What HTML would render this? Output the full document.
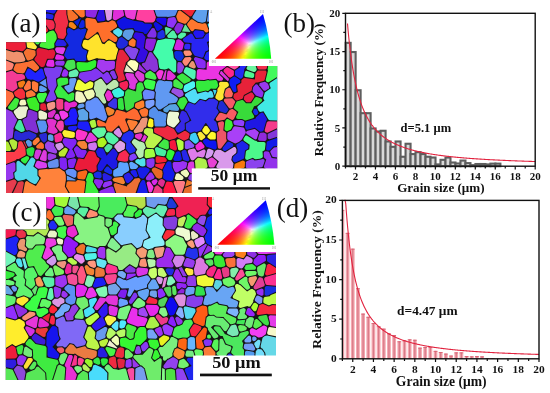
<!DOCTYPE html><html><head><meta charset="utf-8"><style>html,body{margin:0;padding:0;background:#fff;width:550px;height:393px;overflow:hidden}svg{display:block}text{font-family:"Liberation Serif","Times New Roman",serif}.tk{font-size:11px;font-weight:bold;fill:#111}.al{font-weight:bold;fill:#111}.dt{font-size:11.5px;font-weight:bold;fill:#111}.pl{font-size:27px;fill:#111}.sb{font-size:16.5px;font-weight:bold;fill:#111}.ipt{font-size:3px;fill:#8a8a8a}</style></head><body>
<svg width="550" height="393" viewBox="0 0 550 393">
<rect width="550" height="393" fill="#fff"/>
<defs><clipPath id="ca"><path d="M46,10H209V66H277.2V193H6V42.2H46Z"/></clipPath><clipPath id="cc"><path d="M46.3,197H212V252H276V380H5.8V229.5H46.3Z"/></clipPath></defs>
<g clip-path="url(#ca)"><rect x="0" y="0" width="290" height="200" fill="#161616"/><path d="M3.5,21.4 4.1,22.8 5.2,23.3 16.2,21.0 17.8,22.3 19.2,22.5 25.7,19.8 26.7,18.6 26.9,17.5 22.7,9.9 22.4,8.5 21.4,7.6 5.0,7.5 3.9,8.2 3.5,9.2Z" fill="#dc2853"/>
<path d="M47.5,7.5 46.1,8.0 45.6,9.4 46.0,11.4 47.2,12.2 52.9,13.6 53.9,13.6 54.9,12.8 56.5,10.0 56.3,8.5 55.2,7.6Z" fill="#231def"/>
<path d="M34.6,7.5 25.0,7.6 24.2,8.2 23.9,9.1 23.9,9.8 28.2,17.2 29.0,17.6 30.2,17.7 34.1,16.1 34.9,15.6 35.3,14.8 36.5,9.7 36.4,8.7 35.9,7.9Z" fill="#231def"/>
<path d="M36.4,14.1 36.6,15.4 37.6,16.4 42.4,17.7 43.1,17.7 43.9,17.3 44.6,16.3 45.1,12.5 44.5,9.0 44.1,8.2 42.8,7.5 39.4,7.5 38.4,7.9 37.8,8.8Z" fill="#190bf1"/>
<path d="M45.6,16.5 45.8,17.6 46.7,18.4 51.5,19.2 52.4,18.9 53.0,18.4 53.6,16.1 53.2,15.1 52.5,14.5 47.5,13.4 46.6,13.7 46.0,14.4Z" fill="#2525e9"/>
<path d="M54.0,19.1 54.0,20.2 54.9,21.7 55.7,24.1 55.5,27.6 54.9,29.0 54.8,29.9 57.3,34.4 57.8,37.6 58.4,38.2 59.1,38.5 62.9,38.9 63.8,38.7 64.5,38.1 66.3,34.6 66.3,33.7 66.0,32.8 66.1,28.1 67.4,26.2 68.2,21.9 66.4,14.2 66.3,9.2 65.7,8.0 64.4,7.5 59.9,7.5 58.8,8.0 55.1,14.6Z" fill="#f02d46"/>
<path d="M70.5,8.8 69.7,8.3 68.8,8.3 68.0,8.7 67.5,9.3 67.3,10.2 67.4,14.2 68.5,19.4 68.9,20.3 70.0,20.9 72.9,21.1 77.4,18.6 78.0,17.9 78.1,16.8 77.5,15.8Z" fill="#f6712b"/>
<path d="M75.2,7.5 74.1,7.8 73.4,8.7 73.3,9.8 73.8,10.7 80.3,17.1 81.9,17.4 83.5,17.2 84.3,16.7 84.8,15.3 84.6,9.2 84.0,8.0 82.9,7.5Z" fill="#ff752a"/>
<path d="M87.5,7.5 86.3,7.9 85.6,9.1 85.7,15.0 86.1,16.0 86.7,16.6 87.4,16.8 94.0,17.7 95.2,17.3 95.8,16.4 98.0,9.8 98.0,9.1 97.6,8.2 96.3,7.5Z" fill="#8d28e5"/>
<path d="M96.5,17.6 96.4,18.4 96.6,19.1 97.7,21.0 98.7,21.6 103.9,21.1 105.1,20.2 105.3,18.9 103.7,9.1 103.4,8.4 102.9,7.8 102.0,7.5 100.8,7.5 99.6,8.3Z" fill="#2910e1"/>
<path d="M111.1,7.6 106.0,7.6 105.2,8.2 104.8,9.0 104.8,9.7 106.5,19.5 107.3,20.5 108.4,20.7 110.9,19.6 111.6,18.7 112.5,9.2 112.0,8.2Z" fill="#db99e8"/>
<path d="M112.7,17.8 112.8,18.7 113.4,19.4 114.9,20.2 115.8,20.3 123.6,16.0 124.0,15.4 124.1,14.5 122.9,9.0 122.4,8.0 121.2,7.5 115.4,7.5 114.0,8.1 113.5,9.2Z" fill="#df2ed9"/>
<path d="M125.9,7.5 124.7,7.9 124.1,9.2 125.5,15.9 126.8,17.4 127.4,17.8 132.8,19.4 134.3,19.2 135.0,18.2 136.8,9.8 136.6,8.3 135.9,7.7 135.2,7.5Z" fill="#eb3dd7"/>
<path d="M136.1,18.0 136.2,19.2 137.1,20.1 143.1,21.0 145.0,22.6 152.3,22.6 153.4,22.3 154.9,20.7 155.9,17.3 153.1,8.8 152.4,7.8 151.3,7.5 139.9,7.5 138.8,7.8 138.1,8.8Z" fill="#ff40a0"/>
<path d="M156.4,7.5 155.5,7.7 154.9,8.2 154.6,8.9 154.5,9.8 156.5,15.8 157.2,16.4 158.0,16.7 166.8,16.7 167.9,17.0 174.5,16.0 175.6,15.1 177.8,9.6 177.3,8.2 176.1,7.5Z" fill="#588cef"/>
<path d="M177.6,20.6 178.6,21.7 184.3,23.7 185.2,23.8 186.2,23.2 189.2,19.7 189.5,19.0 189.6,18.0 188.9,16.9 181.0,10.9 180.3,10.6 179.4,10.5 178.7,10.8 178.1,11.5 176.3,16.1 176.3,16.9Z" fill="#ff7431"/>
<path d="M183.7,7.5 182.8,7.7 182.0,8.5 181.8,9.6 182.2,10.5 189.3,16.0 190.1,16.4 191.1,16.3 192.0,15.6 195.3,9.8 195.3,9.1 195.1,8.4 194.5,7.8 193.9,7.5Z" fill="#f12533"/>
<path d="M213.7,7.5 212.3,8.0 211.8,9.4 212.8,20.9 213.2,21.8 214.0,22.3 214.9,22.5 215.6,22.2 217.9,20.0 224.5,22.9 225.7,22.7 228.3,20.5 233.6,23.0 234.6,23.2 237.1,22.2 243.2,22.2 244.0,21.8 245.9,19.8 246.0,18.7 245.5,17.7 233.3,7.6Z" fill="#5ea0ee"/>
<path d="M192.7,16.3 192.4,17.4 192.9,18.5 197.9,21.8 202.2,22.7 205.0,21.9 205.6,21.4 206.0,20.5 207.6,9.7 207.4,8.5 206.8,7.8 206.0,7.5 199.0,7.5 198.2,7.7 197.4,8.4Z" fill="#5ea0ee"/>
<path d="M206.8,21.6 212.0,22.3 210.6,7.5 209.0,7.5Z" fill="#6498f0"/>
<path d="M239.9,7.5 238.9,7.8 238.2,8.7 238.1,9.8 238.6,10.7 248.0,18.5 252.6,19.9 255.2,22.3 255.9,22.6 257.1,22.6 265.3,19.2 266.2,19.6 267.2,19.5 269.8,18.0 270.5,17.0 270.6,16.1 269.3,8.9 268.8,8.1 268.0,7.6Z" fill="#5b91f5"/>
<path d="M272.3,7.5 271.0,8.0 270.4,9.4 271.4,15.4 271.8,16.2 272.6,16.8 273.3,16.9 278.2,16.4 279.0,16.1 279.6,15.3 279.7,14.6 279.7,9.2 279.3,8.2 278.0,7.5Z" fill="#5fa4ff"/>
<path d="M5.0,24.5 3.9,25.1 3.5,26.2 3.5,46.8 3.8,47.8 4.8,48.6 13.4,51.1 14.2,51.1 16.4,50.3 21.9,51.3 23.1,51.0 25.6,48.5 26.0,47.6 25.2,40.5 26.5,38.2 26.4,34.8 26.1,33.9 25.1,33.3 18.0,30.8 17.8,24.1 17.4,23.3 16.2,22.4 15.0,22.2Z" fill="#ed2039"/>
<path d="M20.0,23.3 19.3,23.8 18.9,24.9 18.9,29.0 19.2,29.8 20.0,30.5 24.5,32.0 25.4,32.0 26.1,31.7 26.7,31.0 26.9,30.1 26.1,23.4 25.7,22.5 24.9,21.8 24.0,21.7Z" fill="#ed1f45"/>
<path d="M27.2,19.7 26.8,20.4 26.8,21.1 28.2,32.8 27.4,34.1 27.5,37.3 27.9,38.1 28.5,38.6 31.7,39.8 32.8,39.8 33.6,39.3 36.1,36.6 36.5,31.1 36.1,30.0 38.0,26.4 36.1,18.7 35.3,17.6 34.1,17.3 30.3,18.7 28.3,18.7Z" fill="#f3f33a"/>
<path d="M46.2,19.4 45.3,19.5 44.5,20.0 44.0,21.0 44.1,21.9 48.9,29.2 49.5,29.7 50.5,29.9 53.5,29.0 54.5,27.4 54.7,24.4 54.0,22.2 53.3,21.0 52.3,20.3Z" fill="#f22a4e"/>
<path d="M39.9,18.0 39.0,18.0 38.3,18.3 37.7,19.0 37.5,19.8 38.4,23.3 39.1,23.9 40.1,24.1 41.1,23.8 43.2,22.1 43.7,21.5 43.9,20.6 43.6,19.7 43.0,19.0Z" fill="#f22a4e"/>
<path d="M38.4,28.0 38.2,29.3 38.8,30.4 44.4,32.8 45.3,32.9 45.9,32.6 47.4,31.5 47.9,30.7 48.0,30.0 47.7,29.1 44.6,24.6 43.7,24.0 42.8,24.0 42.1,24.3 39.2,26.8Z" fill="#f32034"/>
<path d="M68.7,25.0 68.7,25.9 69.3,26.8 73.3,29.0 74.1,29.1 74.8,28.9 75.7,28.3 76.3,27.5 76.4,26.6 76.0,25.7 73.2,22.7 72.4,22.2 70.8,22.0 69.7,22.3 69.0,23.2Z" fill="#f68216"/>
<path d="M78.9,25.5 78.8,26.4 79.0,27.2 79.5,27.7 80.2,28.2 81.2,28.2 83.4,27.7 84.0,27.3 84.5,26.7 84.7,25.8 84.4,21.6 84.0,20.6 82.6,20.0 81.3,20.5Z" fill="#1124e1"/>
<path d="M73.8,21.8 77.6,26.0 81.0,18.3 80.2,18.2Z" fill="#0a21d8"/>
<path d="M87.5,17.8 86.1,18.2 85.5,18.9 85.3,19.6 85.7,26.9 86.3,27.9 88.0,29.1 85.3,36.6 85.4,37.7 86.0,38.6 87.3,39.0 88.5,38.8 96.2,33.0 97.1,31.8 98.4,32.5 102.1,41.3 103.0,42.2 104.0,42.4 104.9,42.1 108.6,38.7 114.3,42.0 115.4,42.1 116.5,41.4 117.5,39.0 117.2,37.6 110.1,31.6 116.3,27.5 116.9,26.8 117.1,26.0 117.0,25.3 115.1,21.5 113.0,20.4 112.0,20.3 108.2,22.2 106.0,21.8 97.6,22.9 95.7,19.6 95.0,19.0Z" fill="#ff6f2b"/>
<path d="M154.3,22.8 153.9,23.6 153.9,24.7 156.3,29.9 156.9,30.6 157.7,31.0 158.8,30.8 162.3,28.3 162.5,26.9 161.7,25.7 156.5,22.2 155.4,22.1Z" fill="#1012e2"/>
<path d="M117.8,20.5 117.1,21.3 116.9,22.4 118.3,25.6 118.5,26.5 119.1,27.3 122.2,29.6 123.5,29.7 125.1,28.7 133.5,28.1 134.7,30.3 135.4,30.9 143.2,32.3 144.3,33.7 145.3,34.1 146.2,34.0 147.0,33.5 151.8,26.6 152.1,25.7 151.8,24.5 150.8,23.7 144.4,23.6 142.4,22.0 135.7,21.0 134.7,21.1 126.4,18.5 125.5,17.5 124.7,17.1 123.6,17.2Z" fill="#1012e2"/>
<path d="M156.4,19.3 156.4,20.4 157.0,21.3 163.2,25.5 164.6,25.6 165.8,24.8 166.6,19.5 166.3,18.6 165.6,17.9 164.7,17.7 158.1,17.7 156.9,18.3Z" fill="#1b06ea"/>
<path d="M166.9,24.5 167.1,25.6 168.0,26.5 172.0,27.8 173.4,27.5 176.7,22.0 176.7,21.1 175.5,17.9 174.8,17.3 173.9,17.1 169.3,17.8 168.4,18.1 167.7,19.2Z" fill="#8f33f8"/>
<path d="M174.5,27.8 174.3,28.7 174.4,29.4 176.3,32.7 177.3,33.4 178.4,33.4 180.9,31.3 183.1,26.3 183.2,25.2 182.7,24.4 182.1,24.0 179.0,22.9 178.1,22.9 177.0,23.6Z" fill="#872bdd"/>
<path d="M187.5,23.2 187.1,24.2 187.3,25.3 190.6,30.3 191.4,31.0 192.2,31.2 193.1,30.9 194.9,29.1 203.7,30.3 205.1,32.1 206.1,32.6 207.7,32.3 208.5,31.3 208.6,30.2 206.5,24.4 206.1,23.8 205.3,23.3 204.3,23.2 202.3,23.8 199.1,23.1 198.1,23.1 192.6,19.6 191.6,19.3 190.3,19.9Z" fill="#ff772e"/>
<path d="M209.9,23.0 209.0,23.1 208.2,23.7 207.8,24.6 207.9,25.5 210.1,31.0 211.2,31.6 213.0,31.5 214.0,30.6 214.7,28.5 214.4,24.9 213.9,24.1 212.6,23.4Z" fill="#51e8f7"/>
<path d="M225.5,24.2 225.0,24.9 224.8,25.8 225.3,27.3 225.9,28.0 233.9,30.4 234.4,31.4 235.3,31.9 242.2,33.3 243.2,32.9 244.6,31.4 254.4,33.3 255.6,32.9 256.3,31.7 255.2,23.8 252.2,20.9 248.9,19.8 248.2,19.8 247.3,20.1 243.9,23.3 237.4,23.2 234.5,24.5 229.6,22.2 228.7,22.0 227.7,22.3Z" fill="#44c3ef"/>
<path d="M215.9,23.5 215.4,24.4 215.5,26.1 216.0,26.9 217.0,27.4 222.1,26.5 222.9,26.0 223.3,25.2 223.2,24.1 222.7,23.3 219.0,21.6 217.6,21.8Z" fill="#44c3ef"/>
<path d="M215.2,30.1 215.3,31.3 216.0,32.3 220.8,34.1 221.7,34.2 222.5,33.9 223.1,33.2 224.2,29.3 223.6,28.0 222.2,27.6 216.4,28.7 215.7,29.2Z" fill="#4af1f4"/>
<path d="M257.7,23.4 256.8,24.2 256.6,25.3 257.2,29.8 257.8,30.7 258.6,31.1 262.2,30.9 263.0,30.6 267.6,26.3 268.1,25.4 268.0,24.3 266.6,21.4 265.4,20.6 264.3,20.7Z" fill="#57f2ee"/>
<path d="M268.8,19.7 268.1,20.5 267.9,21.6 269.3,24.5 269.8,25.2 275.8,28.0 278.3,27.7 279.4,26.9 279.7,25.8 279.7,19.2 279.5,18.5 278.9,17.8 277.8,17.5 271.7,18.1Z" fill="#4bf9ec"/>
<path d="M37.2,35.9 37.5,37.2 41.6,41.6 39.6,45.1 39.7,46.2 40.4,47.0 48.7,49.1 53.0,48.3 54.1,47.6 54.4,46.5 54.2,43.5 56.5,39.3 56.8,38.3 56.2,34.6 54.4,31.4 53.8,30.7 52.5,30.4 49.6,31.2 45.4,34.3 39.8,32.0 38.7,32.0 37.9,32.4 37.5,33.1Z" fill="#47f43a"/>
<path d="M34.7,39.6 34.2,40.4 34.3,41.5 36.1,43.9 37.4,44.6 38.8,44.2 39.9,42.3 39.9,41.5 39.4,40.7 37.8,39.0 37.0,38.5 35.8,38.7Z" fill="#43f949"/>
<path d="M64.4,54.2 64.2,55.1 64.5,55.9 66.7,58.7 67.6,59.2 74.2,58.5 75.5,60.4 76.6,60.9 84.6,61.2 85.9,60.6 86.4,59.4 85.9,56.1 87.1,52.2 87.0,51.3 86.1,50.2 82.8,48.9 80.9,45.8 82.8,38.9 83.8,37.9 86.3,30.8 86.3,29.7 85.8,29.0 84.4,28.5 80.4,29.4 78.8,28.6 77.9,28.4 73.9,30.5 69.5,28.1 68.4,28.1 67.5,28.7 67.0,29.7 67.0,32.3 67.7,34.0 65.3,38.7 65.1,39.6 65.5,40.5 68.7,45.0 68.3,46.3 67.2,47.3Z" fill="#1329e1"/>
<path d="M113.9,30.3 113.1,31.5 113.3,32.9 117.7,36.6 118.4,36.9 119.3,36.8 121.2,35.6 122.4,32.7 122.4,31.4 121.8,30.6 119.0,28.4 118.0,28.0 117.1,28.2Z" fill="#58dff1"/>
<path d="M122.7,34.6 122.7,35.7 123.2,36.6 127.2,39.7 127.9,40.0 128.9,39.9 132.0,37.2 132.4,35.6 133.9,32.1 133.9,31.0 133.2,29.8 132.1,29.2 125.6,29.7 124.2,30.7 123.7,31.3Z" fill="#5c9ce6"/>
<path d="M133.5,35.5 133.3,36.4 133.7,37.4 136.9,40.0 136.3,45.8 136.5,46.9 137.2,47.6 140.2,49.1 136.4,58.6 136.4,60.1 136.9,60.8 139.2,62.5 139.9,62.5 143.8,61.7 144.8,60.6 147.9,52.4 147.8,51.7 147.3,50.9 143.7,48.2 145.1,38.8 145.5,37.8 145.4,36.9 143.1,33.8 142.4,33.2 136.5,32.2 135.6,32.3 134.8,32.8Z" fill="#330be2"/>
<path d="M147.5,34.5 147.2,35.3 147.3,36.2 147.8,37.0 148.4,37.3 154.5,37.7 155.6,37.2 156.3,36.2 156.5,32.9 154.5,28.5 153.2,27.9 151.9,28.3Z" fill="#802fe7"/>
<path d="M157.2,36.7 157.4,37.7 157.8,38.3 159.5,39.0 163.3,38.3 164.2,37.8 164.6,37.2 164.9,36.2 164.3,31.5 163.8,30.7 162.9,30.1 161.8,30.1 158.1,32.6 157.5,33.7Z" fill="#1e2de3"/>
<path d="M165.0,27.4 164.8,27.8 165.7,35.4 172.1,29.0 166.2,26.9Z" fill="#4fe3a1"/>
<path d="M178.3,35.0 177.7,36.1 177.9,37.5 178.8,38.2 181.0,38.7 181.9,38.4 185.4,35.9 185.9,35.1 186.0,34.2 185.5,33.2 184.8,32.7 181.8,32.4 181.0,32.8Z" fill="#52f1a6"/>
<path d="M167.8,34.7 167.3,35.5 167.3,36.6 167.8,37.4 168.6,37.9 175.4,38.5 176.5,38.1 177.1,37.1 176.9,35.7 174.3,31.3 173.3,30.6 172.4,30.5 171.6,30.9Z" fill="#52f1a6"/>
<path d="M182.0,31.4 190.5,32.0 185.8,24.8 184.9,24.8Z" fill="#63e59b"/>
<path d="M183.7,38.3 183.0,39.2 183.0,40.3 183.3,41.0 184.6,42.3 185.5,42.6 191.6,42.9 191.2,50.1 194.1,55.1 194.9,55.7 202.0,57.7 202.8,57.4 203.5,56.7 205.4,51.6 207.9,50.4 208.6,49.4 208.6,48.3 206.8,42.1 212.0,40.1 212.7,39.6 213.2,38.6 213.4,34.2 213.0,33.3 212.3,32.7 209.7,32.6 205.9,34.2 203.2,38.5 195.2,39.0 192.5,34.2 191.7,33.7 190.8,33.5 189.9,33.9Z" fill="#2825f3"/>
<path d="M193.8,31.7 193.3,32.7 193.4,33.8 195.3,37.1 196.3,37.9 202.3,37.5 203.0,36.9 204.5,34.2 204.3,32.8 203.4,31.6 202.6,31.1 195.9,30.3 194.9,30.6Z" fill="#2216f4"/>
<path d="M204.3,57.2 204.2,58.1 204.5,58.8 206.2,60.1 212.4,61.0 213.3,60.9 214.3,60.1 215.5,57.5 215.6,51.6 225.5,48.1 226.8,48.4 235.9,46.0 239.3,51.6 240.0,52.3 241.1,52.6 246.2,52.1 247.2,51.4 248.0,49.3 248.0,45.4 247.7,44.7 247.1,44.1 242.0,41.9 241.1,42.0 237.0,43.7 231.3,36.4 232.7,32.9 232.7,32.2 232.3,31.3 231.4,30.7 227.1,29.5 226.2,29.6 225.4,30.1 225.0,30.7 223.3,36.1 216.5,33.6 215.4,33.7 214.7,34.3 214.3,35.2 214.1,40.3 209.5,42.1 208.5,43.2 208.5,44.3 210.3,50.4 206.3,52.4Z" fill="#2326f8"/>
<path d="M232.9,35.1 232.7,36.1 233.0,36.9 237.0,41.7 237.7,42.0 238.6,41.9 240.6,41.1 241.3,40.4 242.1,35.8 241.8,34.9 241.1,34.2 234.9,32.9 233.6,33.5Z" fill="#1c11d7"/>
<path d="M242.6,39.5 242.7,40.4 243.4,41.3 249.0,43.9 249.1,47.6 249.6,48.3 250.4,48.8 259.3,49.5 260.2,50.1 261.1,50.2 262.4,49.4 264.3,46.3 270.1,48.3 271.2,48.3 274.9,45.5 278.5,44.6 279.1,44.2 279.6,43.6 279.6,30.1 279.0,29.2 278.2,28.8 276.8,28.9 275.9,29.3 270.1,37.3 263.5,32.2 262.7,31.9 257.6,32.3 256.9,32.8 255.9,34.6 245.2,32.7 244.3,33.2 243.4,34.4Z" fill="#1c27e4"/>
<path d="M265.4,29.7 264.8,31.0 265.2,32.2 268.5,34.8 269.6,35.1 270.5,34.8 271.0,34.3 273.8,30.5 274.0,29.4 273.7,28.6 273.1,27.9 270.3,26.6 269.5,26.5 268.5,26.8Z" fill="#242be6"/>
<path d="M28.9,39.8 28.0,39.7 27.3,39.9 26.6,40.6 26.4,41.2 26.9,46.4 27.3,47.4 28.2,48.0 34.4,49.2 35.4,49.2 36.0,48.8 36.8,47.4 36.8,46.5 36.4,45.9 32.6,41.3Z" fill="#ffec42"/>
<path d="M55.5,43.2 55.2,44.1 55.5,45.3 56.1,46.0 57.0,46.3 65.0,46.1 66.0,45.6 66.5,44.4 66.3,43.3 64.0,40.2 63.1,39.9 58.9,39.5 58.0,39.6 57.2,40.1Z" fill="#261fe5"/>
<path d="M82.2,44.8 82.3,46.1 83.6,48.0 88.7,50.2 86.9,56.3 87.5,59.4 87.8,60.0 88.6,60.5 89.8,60.5 97.1,58.1 98.1,58.5 104.9,59.0 105.7,59.7 106.6,59.9 114.4,59.7 115.4,59.2 115.9,58.5 116.3,56.0 118.1,49.8 117.8,48.7 115.9,46.5 115.7,44.8 115.4,44.0 110.0,40.6 109.1,40.4 107.8,40.8 104.3,44.2 102.0,43.5 98.5,35.2 97.5,34.3 96.7,34.2 95.8,34.5 88.2,40.2 85.2,39.7 83.9,40.0 83.3,40.9Z" fill="#ffe32c"/>
<path d="M118.6,48.0 119.9,48.7 123.0,48.5 127.0,45.7 127.6,44.8 127.8,42.2 127.4,41.2 122.0,37.1 120.7,37.2 118.9,38.4 116.8,43.5 116.9,46.1Z" fill="#2029dc"/>
<path d="M128.7,43.8 129.0,44.9 129.7,45.5 132.9,46.8 134.3,46.7 135.0,46.1 135.3,45.4 135.8,41.3 135.6,40.4 135.1,39.9 133.6,38.7 132.7,38.6 132.0,38.7 129.1,41.3 128.8,42.0Z" fill="#ff782b"/>
<path d="M145.0,46.7 145.0,47.6 145.4,48.2 148.7,50.8 151.1,51.1 152.1,50.8 153.4,49.1 156.0,41.0 155.8,39.6 155.1,38.9 154.4,38.7 147.9,38.4 146.9,38.6 146.0,39.8Z" fill="#9021de"/>
<path d="M154.2,50.1 153.2,51.6 153.3,52.7 158.4,59.8 158.3,60.8 159.1,67.3 159.8,68.5 160.6,69.0 164.8,69.4 166.9,68.9 168.4,68.2 169.0,68.4 173.5,72.4 174.6,72.6 175.7,72.1 176.2,70.9 176.3,61.4 176.0,60.5 173.8,57.9 172.9,51.3 172.2,50.2 175.1,41.7 175.0,40.7 174.6,39.9 173.4,39.3 165.5,38.6 164.2,39.1 159.8,40.0 158.7,39.9 158.0,40.1 157.1,41.0Z" fill="#44fcab"/>
<path d="M174.1,47.7 174.2,49.1 175.3,50.1 180.8,50.2 181.7,50.0 182.4,49.4 182.7,48.8 183.8,44.0 183.6,42.9 180.8,39.9 178.5,39.2 177.5,39.4 176.6,40.3Z" fill="#d221e0"/>
<path d="M184.1,47.1 184.2,48.3 185.1,49.2 189.0,49.5 189.8,49.0 190.2,48.2 190.3,45.0 189.8,44.2 189.0,43.8 185.8,43.7 184.7,44.7Z" fill="#332bf7"/>
<path d="M5.9,50.0 4.5,50.1 3.9,50.6 3.5,51.4 3.5,57.4 3.8,58.3 4.5,58.9 14.5,62.6 20.0,62.3 24.1,61.4 25.2,60.4 25.4,59.5 25.2,58.8 22.8,53.2 22.0,52.4 16.6,51.4 13.8,52.3Z" fill="#f0926e"/>
<path d="M24.3,51.2 23.8,52.0 23.8,53.1 26.6,59.6 27.6,60.4 28.7,60.5 32.7,59.1 35.7,55.0 35.5,51.5 35.1,50.7 34.3,50.2 27.2,48.8 26.2,49.3Z" fill="#f47131"/>
<path d="M34.7,58.2 34.4,59.2 34.6,60.2 38.8,65.1 41.0,67.0 43.0,67.1 44.0,66.6 44.5,66.0 47.0,59.1 47.6,58.7 52.6,58.7 53.7,58.1 55.2,53.9 55.3,52.8 54.3,50.3 53.3,49.5 52.3,49.5 48.2,50.3 46.7,49.5 39.3,47.9 38.4,48.0 37.6,48.5 36.6,49.9 36.5,50.8 36.8,55.2Z" fill="#e21a39"/>
<path d="M56.1,54.9 55.0,58.0 55.3,58.9 55.9,59.5 56.8,59.8 62.8,59.7 63.7,59.1 64.2,57.9 64.0,56.8 63.0,55.7 57.7,54.2 56.7,54.4Z" fill="#e42be7"/>
<path d="M47.5,60.8 46.1,64.8 46.4,65.6 46.9,66.2 47.7,66.6 53.0,66.9 54.0,66.3 54.5,65.3 54.0,61.0 53.5,60.2 52.6,59.7 49.0,59.7 48.2,60.0Z" fill="#e42be7"/>
<path d="M56.9,47.3 55.8,47.7 55.1,49.0 55.2,49.9 56.4,52.6 57.3,53.1 61.7,54.3 62.6,54.2 63.4,53.7 65.2,49.4 65.2,48.5 64.7,47.7 63.5,47.2Z" fill="#df3fea"/>
<path d="M115.6,68.5 115.3,69.2 115.2,70.1 118.1,77.2 117.4,79.4 117.6,80.1 118.2,80.9 118.9,81.5 119.9,81.7 124.7,80.1 125.2,79.3 125.3,78.3 123.3,73.1 123.5,72.0 123.3,71.0 125.6,64.0 125.7,62.4 128.8,59.9 129.2,58.6 128.8,57.6 123.6,50.4 122.7,49.7 120.1,49.7 119.3,50.2 118.9,50.8 117.2,56.2 116.8,59.9 116.3,61.0Z" fill="#e5243d"/>
<path d="M125.4,48.1 124.7,49.1 124.9,50.4 130.7,58.5 131.7,59.0 133.7,59.3 135.0,58.9 135.5,58.1 138.4,51.1 138.4,50.1 138.0,49.3 135.8,48.1 133.2,48.0 128.7,46.2 127.5,46.5Z" fill="#8447ec"/>
<path d="M145.1,62.6 142.6,63.1 142.1,63.7 141.8,64.4 141.9,65.3 146.5,70.4 147.9,70.5 149.9,69.2 153.9,71.9 155.0,72.1 156.0,71.6 158.1,69.3 158.3,68.2 157.1,59.9 152.2,52.9 151.5,52.3 150.0,52.1 149.0,52.8Z" fill="#8a35d8"/>
<path d="M176.1,51.1 174.7,51.7 174.2,52.8 174.9,57.6 177.6,60.7 180.1,61.1 181.0,60.9 181.6,60.4 183.6,57.6 183.9,56.7 183.7,55.7 182.2,52.2 181.6,51.5 180.9,51.2Z" fill="#0d2edc"/>
<path d="M185.5,50.4 184.1,50.8 183.5,52.1 183.6,53.0 184.6,55.1 185.0,55.7 186.2,56.1 190.2,55.8 190.9,55.6 191.5,55.1 191.9,54.2 191.8,53.5 190.4,51.0 189.5,50.6Z" fill="#ff8f75"/>
<path d="M196.4,77.7 196.8,79.1 198.2,79.7 204.2,80.0 208.3,79.0 209.7,79.4 216.3,78.7 217.5,80.2 218.5,80.7 221.4,80.8 222.5,80.3 223.1,79.2 222.9,77.9 218.6,73.8 220.1,70.2 221.9,69.7 226.2,66.5 226.7,65.7 227.2,61.5 228.6,59.4 228.8,58.4 226.0,50.2 225.2,49.7 224.1,49.6 217.9,51.8 217.1,52.3 216.6,53.4 216.6,57.7 214.3,62.2 208.6,61.5 207.3,62.0 206.7,63.2 206.6,69.8 198.9,69.0 197.6,69.4 196.9,70.7Z" fill="#eb35e3"/>
<path d="M228.9,48.9 227.8,49.6 227.5,51.0 230.1,58.9 228.2,61.9 227.9,65.6 228.8,66.7 233.6,69.3 234.8,69.4 238.2,67.3 238.9,66.1 238.5,61.8 236.5,58.5 238.7,54.0 238.8,52.8 236.1,48.2 235.2,47.6 234.2,47.5Z" fill="#ff51a5"/>
<path d="M238.1,57.5 237.9,58.4 238.2,59.3 239.0,60.4 240.1,60.8 248.2,59.0 249.0,58.3 249.3,57.2 249.2,56.5 247.6,53.9 246.9,53.3 246.1,53.1 240.3,53.8 239.6,54.4Z" fill="#1f21f9"/>
<path d="M248.2,52.7 251.4,58.0 252.2,58.4 252.9,58.4 253.7,58.0 258.4,53.3 258.7,52.2 258.2,51.0 257.1,50.4 250.4,49.8 249.6,49.9 248.9,50.3 248.2,51.6Z" fill="#69f59e"/>
<path d="M246.9,67.1 246.6,68.5 247.3,69.7 253.6,72.1 254.3,72.1 255.2,71.8 256.6,69.9 256.6,68.8 254.5,62.3 253.6,61.1 252.9,60.7 251.8,60.7 251.0,61.2Z" fill="#69f59e"/>
<path d="M255.3,57.8 254.8,58.8 254.9,59.9 255.5,60.6 256.5,61.0 265.3,60.0 266.2,59.4 266.6,58.2 266.3,57.1 262.9,53.1 262.4,52.6 261.5,52.4 260.3,52.8Z" fill="#e9343c"/>
<path d="M263.3,49.9 263.0,50.9 263.3,52.0 269.5,59.5 269.0,60.6 267.7,69.0 267.7,69.7 268.0,70.4 265.7,79.9 265.9,80.7 266.4,81.5 267.6,82.2 268.6,82.3 278.8,76.0 279.6,74.9 279.7,47.4 278.9,46.2 277.5,45.9 275.2,46.6 271.3,49.7 265.4,47.9 264.3,48.4Z" fill="#42f95b"/>
<path d="M6.1,60.5 5.2,60.4 4.5,60.6 3.8,61.3 3.5,62.1 3.5,70.1 4.2,71.2 5.2,71.6 11.9,69.5 12.4,68.7 13.8,64.9 13.6,63.9 12.9,63.2Z" fill="#ff8474"/>
<path d="M13.6,68.4 13.5,69.4 13.8,70.3 17.0,72.7 22.9,73.4 23.9,73.1 24.6,72.5 27.5,66.5 31.1,68.4 34.3,70.8 35.2,71.1 36.4,70.8 38.4,69.0 38.9,68.4 39.1,67.5 38.7,66.4 33.9,61.0 33.2,60.4 32.4,60.3 27.3,62.1 26.3,61.9 20.0,63.3 16.1,63.6 15.2,64.4Z" fill="#fb6f33"/>
<path d="M57.1,60.8 55.8,61.4 55.2,62.6 55.5,64.6 56.1,65.3 56.8,65.6 62.8,65.8 63.7,65.2 64.7,63.1 64.6,61.6 63.4,60.7Z" fill="#9336f0"/>
<path d="M64.8,65.3 64.6,66.3 65.0,67.3 68.1,70.0 69.0,70.3 69.9,70.2 74.6,68.5 75.3,67.9 75.6,67.1 75.1,61.7 74.2,60.2 73.1,59.7 68.3,60.3 67.4,60.6 66.8,61.3Z" fill="#46e451"/>
<path d="M78.3,62.0 77.2,62.3 76.4,63.3 76.8,67.8 77.1,68.5 79.1,70.9 79.8,71.4 80.5,71.5 90.8,69.9 94.9,67.6 95.8,66.4 96.4,62.1 96.3,61.4 95.8,60.6 94.5,60.1 87.3,62.4Z" fill="#31f231"/>
<path d="M96.9,66.1 96.9,67.0 97.3,67.7 102.1,72.0 102.9,72.4 103.9,72.4 106.5,70.6 108.8,70.9 114.2,68.7 114.8,67.5 115.1,62.2 114.6,61.2 113.6,60.7 105.4,60.9 104.0,60.0 99.0,59.7 98.2,60.1 97.7,60.9Z" fill="#a53af0"/>
<path d="M127.9,61.9 127.3,63.0 127.5,64.4 133.8,70.6 134.6,71.0 135.5,70.9 137.0,69.8 137.4,68.9 138.3,64.4 138.2,63.5 137.7,62.7 135.1,60.6 131.1,59.9 130.0,60.2Z" fill="#ffffbc"/>
<path d="M124.5,71.8 134.3,72.6 126.4,64.7 124.3,71.1Z" fill="#eae9c9"/>
<path d="M138.3,69.5 144.5,73.1 146.2,71.8 139.4,64.1Z" fill="#9c2be2"/>
<path d="M180.6,62.2 178.5,62.1 177.9,62.6 177.3,63.9 177.2,72.0 177.9,73.1 179.1,73.5 180.0,73.3 182.2,72.0 184.1,67.2 183.9,66.1 181.4,62.7Z" fill="#913ee4"/>
<path d="M191.2,61.5 188.8,64.9 188.8,65.8 189.2,66.6 189.8,67.0 193.7,68.5 194.8,68.2 195.6,67.5 195.8,66.6 195.6,65.8 194.0,62.1 193.3,61.3 192.2,61.1Z" fill="#eb9571"/>
<path d="M182.7,60.6 182.4,61.7 182.7,62.8 184.7,65.4 185.4,65.7 186.3,65.7 187.3,65.1 191.1,59.8 191.4,59.1 191.4,58.2 190.9,57.4 190.0,56.9 185.5,57.2 184.6,57.8Z" fill="#ff8875"/>
<path d="M196.5,57.2 195.5,57.1 194.7,57.5 194.1,58.3 194.0,59.2 197.3,67.2 198.4,67.9 203.6,68.5 205.0,68.1 205.5,67.4 205.7,66.6 205.7,61.9 205.3,60.9 202.4,59.0Z" fill="#872bf4"/>
<path d="M235.8,70.0 235.1,70.7 234.9,71.4 234.9,74.5 235.2,75.4 239.6,78.5 240.6,78.7 241.5,78.4 242.6,77.4 243.0,76.7 244.3,70.0 244.2,69.2 248.3,63.3 248.5,62.4 248.2,61.3 247.4,60.6 246.4,60.5 240.5,61.9 239.9,62.6 239.7,63.3 240.1,67.2Z" fill="#2427f4"/>
<path d="M257.8,61.9 256.5,62.6 256.1,63.8 257.4,68.1 258.0,69.0 259.0,69.4 265.0,69.4 265.9,69.2 266.5,68.7 266.9,67.8 267.6,63.0 267.5,62.1 266.9,61.4 265.7,61.0Z" fill="#f22c4d"/>
<path d="M4.8,72.9 3.9,73.5 3.5,74.6 3.6,87.2 4.5,88.1 12.3,91.4 13.0,91.4 13.7,91.0 17.0,88.6 17.5,87.9 17.6,87.0 16.4,81.5 24.1,79.3 24.8,78.7 25.2,77.9 25.0,76.6 24.3,75.2 23.6,74.6 21.6,74.1 16.8,73.8 12.5,70.8 11.4,70.8Z" fill="#f33b94"/>
<path d="M27.2,69.4 25.1,74.0 25.2,74.9 27.1,78.4 27.8,79.1 30.9,79.8 32.8,79.4 38.0,81.8 38.7,81.8 39.4,81.6 44.4,78.4 45.1,77.4 45.1,76.5 44.4,75.0 42.9,69.8 42.4,69.0 41.6,68.6 40.7,68.6 40.0,68.9 35.4,72.9 30.6,69.2 29.3,68.6 28.2,68.6Z" fill="#1f23ff"/>
<path d="M54.3,68.0 45.2,67.5 44.4,68.0 43.9,68.9 43.9,69.6 45.3,74.6 47.0,77.6 46.7,78.8 47.9,87.8 49.1,89.9 50.1,90.5 45.9,99.7 45.9,100.5 46.2,101.3 47.0,101.9 47.9,102.1 54.6,100.2 55.4,99.6 56.2,98.4 56.2,97.2 53.9,91.4 56.7,85.6 55.9,78.7 59.0,77.1 59.7,76.5 62.6,68.6 62.1,67.4 60.8,66.8 56.0,66.6 55.0,67.1Z" fill="#7c3eef"/>
<path d="M61.7,74.2 61.7,75.6 62.5,76.5 63.4,76.8 66.5,76.6 67.1,76.1 67.6,75.3 68.1,72.2 67.9,71.2 65.8,69.4 64.9,69.1 64.2,69.3 63.2,70.2Z" fill="#992df8"/>
<path d="M68.6,75.1 69.0,76.5 70.1,77.2 76.5,76.8 77.2,76.4 77.8,75.7 78.6,73.1 78.6,72.1 76.8,69.7 75.9,69.3 75.1,69.4 69.6,71.5 69.0,72.4Z" fill="#65eeaf"/>
<path d="M78.7,75.9 78.7,76.9 79.2,77.9 84.3,82.0 85.3,82.4 86.2,82.2 90.1,79.9 92.7,81.1 93.9,81.1 100.8,77.1 101.5,76.9 105.5,82.4 106.7,83.2 107.4,83.2 108.3,82.8 111.2,80.3 111.8,79.2 111.6,78.1 108.7,72.9 108.1,72.2 107.3,71.9 106.4,72.0 103.0,74.4 102.5,73.6 97.2,68.9 96.0,68.4 95.1,68.6 91.3,70.8 80.5,72.6 79.6,73.4Z" fill="#8336f2"/>
<path d="M111.2,71.0 110.3,71.9 110.1,73.2 112.7,78.1 113.2,78.7 114.0,79.0 115.2,79.1 115.9,78.8 116.7,77.9 116.8,76.7 114.6,71.5 114.0,70.8 113.2,70.5Z" fill="#8039eb"/>
<path d="M127.3,73.0 126.4,73.1 125.8,73.5 125.4,74.1 125.2,75.0 126.8,79.3 127.3,79.9 128.4,80.6 129.5,84.7 128.9,86.7 129.1,87.6 130.1,88.6 133.2,89.5 134.3,89.4 135.3,88.4 135.9,83.8 137.5,82.3 137.8,81.4 137.6,80.6 134.2,76.1 134.1,74.7 133.4,73.8 132.6,73.4Z" fill="#db39dd"/>
<path d="M135.7,72.4 135.1,73.6 135.3,75.8 138.9,80.5 139.9,81.2 141.8,81.5 142.6,81.4 143.3,81.0 144.2,79.7 144.4,78.8 144.1,74.8 143.6,73.9 138.3,70.8 137.1,71.1Z" fill="#dd3dd7"/>
<path d="M145.8,73.3 145.2,74.4 145.2,76.5 145.5,77.4 146.3,78.0 154.5,79.8 155.6,79.6 156.4,78.8 156.5,77.4 155.1,73.9 150.8,71.0 150.1,70.8 149.2,70.9Z" fill="#46f14b"/>
<path d="M162.1,79.5 164.5,80.3 165.3,80.1 166.6,70.0 165.2,70.4Z" fill="#db39d4"/>
<path d="M156.8,72.3 156.3,73.1 156.3,73.9 158.1,78.4 159.2,79.2 160.1,79.3 160.8,79.0 161.5,78.2 163.4,72.6 163.5,71.7 163.2,71.0 162.2,70.2 159.5,69.9 158.6,70.4Z" fill="#f738de"/>
<path d="M170.5,71.1 169.7,70.7 168.7,70.6 167.9,71.1 167.4,71.9 166.6,78.3 166.9,79.4 167.8,80.0 172.5,80.1 174.9,78.0 175.4,77.2 175.5,76.3 175.0,75.3Z" fill="#e32eda"/>
<path d="M181.7,73.6 177.4,75.9 177.0,76.7 177.2,78.1 183.5,83.6 184.2,83.8 185.1,83.6 189.7,81.4 190.5,80.4 190.6,79.3 190.0,78.4 183.1,73.6Z" fill="#3be740"/>
<path d="M183.7,71.0 183.7,72.2 184.3,73.1 192.4,78.9 193.1,79.2 194.0,79.2 195.1,78.3 195.4,77.4 195.8,71.6 195.5,70.8 194.9,70.1 187.3,67.2 186.4,67.0 185.5,67.4 185.0,67.9Z" fill="#50f5b5"/>
<path d="M219.7,73.5 227.6,81.0 228.3,81.0 229.1,78.9 221.6,70.9 220.8,71.1Z" fill="#d935dd"/>
<path d="M224.2,69.2 223.5,70.4 223.7,71.7 228.9,77.3 229.8,77.6 230.7,77.5 233.6,75.4 233.9,74.5 233.9,71.5 233.6,70.7 233.1,70.2 227.6,67.3 226.4,67.6Z" fill="#fe268b"/>
<path d="M244.3,75.0 244.5,76.3 245.5,77.1 252.3,78.1 253.2,77.8 254.0,77.0 254.3,74.7 253.9,73.6 253.2,73.0 246.6,70.7 245.8,70.9 245.0,71.7Z" fill="#4ef592"/>
<path d="M233.8,94.4 233.3,97.3 233.7,98.1 235.4,100.0 236.2,100.4 237.2,100.4 242.4,98.7 242.9,97.9 243.9,95.0 251.3,91.0 251.7,90.2 252.2,86.7 255.8,82.5 257.4,82.6 263.4,80.9 264.3,80.4 264.8,79.6 266.5,72.5 266.4,71.8 266.1,71.1 265.5,70.6 264.6,70.4 258.4,70.4 257.4,70.8 255.4,73.5 254.9,79.5 244.4,78.0 243.0,78.4 241.4,80.2 241.3,83.1 238.0,84.9 237.2,85.8 237.1,86.7 237.9,92.1 234.3,93.7Z" fill="#e72239"/>
<path d="M19.3,81.7 18.4,82.3 17.9,83.4 18.7,86.7 19.2,87.3 20.0,87.7 21.7,87.6 22.4,87.4 23.1,86.7 25.0,83.3 25.2,82.4 25.0,81.7 24.4,81.0 23.3,80.6Z" fill="#f27c15"/>
<path d="M34.4,81.2 33.0,81.2 32.3,81.6 31.8,82.3 32.0,88.5 32.5,89.5 34.9,91.5 35.5,91.9 36.5,91.9 37.3,91.5 37.9,90.5 38.3,83.8 37.5,82.8Z" fill="#ff7a39"/>
<path d="M24.0,87.0 23.8,87.9 24.0,88.8 24.8,90.0 25.6,90.6 26.7,90.6 30.3,89.1 30.8,88.3 30.9,87.6 30.7,82.3 30.2,81.2 28.9,80.6 27.5,81.1Z" fill="#fe7641"/>
<path d="M39.0,90.1 39.2,91.1 40.0,91.9 40.7,92.1 43.2,92.0 46.0,91.1 46.6,90.4 46.8,89.4 46.6,88.7 46.0,88.0 41.8,85.7 40.9,85.5 40.0,85.8 39.3,86.6Z" fill="#5e9ef0"/>
<path d="M39.2,82.9 39.3,83.1 46.8,87.3 45.7,78.7Z" fill="#5c96f8"/>
<path d="M55.3,90.7 55.1,91.6 55.3,92.3 57.1,96.7 58.0,97.5 64.1,98.4 68.5,101.4 69.3,101.7 70.0,101.6 73.0,100.6 73.9,99.7 74.4,94.1 74.0,93.0 73.2,92.4 72.1,92.4 68.3,94.4 60.9,85.9 67.0,84.3 67.9,83.6 68.3,82.6 68.1,79.4 67.8,78.5 67.1,77.9 66.2,77.7 60.3,77.8 57.6,79.1 57.1,80.4 57.7,84.8 58.0,85.6Z" fill="#38ec41"/>
<path d="M69.3,84.7 65.0,86.0 64.4,86.7 64.4,88.1 67.8,92.2 68.6,92.6 69.6,92.5 72.8,90.7 73.5,89.9 73.6,88.8 76.3,80.4 76.4,79.7 76.1,78.8 75.5,78.2 74.6,78.0 70.9,78.2 70.0,78.5 69.4,79.2 69.2,79.8Z" fill="#699ef7"/>
<path d="M75.0,87.7 75.0,89.0 76.0,90.1 82.5,90.9 92.1,88.0 92.8,87.1 93.5,83.8 93.1,82.8 92.7,82.2 90.9,81.4 90.2,81.3 89.3,81.5 85.2,84.0 80.1,79.9 78.7,79.6 77.9,80.0 77.3,80.7Z" fill="#f1fe39"/>
<path d="M94.6,84.1 93.7,88.4 95.9,93.4 95.7,94.9 95.9,95.8 96.6,96.6 98.1,97.0 103.0,103.2 104.4,103.8 105.7,103.2 106.1,102.6 106.3,101.7 103.7,94.7 107.1,88.3 110.0,89.8 111.1,89.9 117.5,87.0 118.2,86.3 118.5,85.4 118.4,83.1 118.1,82.4 116.6,80.5 115.3,80.1 113.6,80.1 112.7,80.4 106.6,85.5 102.0,79.3 100.7,78.7 99.6,78.9 95.0,81.7 94.4,82.8Z" fill="#bde8ad"/>
<path d="M120.7,82.5 119.9,83.0 119.5,83.8 119.5,85.9 119.8,86.7 123.6,89.9 124.7,90.1 125.5,89.9 127.4,88.1 128.3,85.1 128.3,84.2 127.6,81.8 126.7,81.1 125.8,80.9Z" fill="#f52256"/>
<path d="M124.9,95.7 124.1,96.8 124.0,97.5 125.4,109.3 126.2,110.5 127.7,110.7 133.4,107.3 133.8,106.4 134.4,102.7 141.4,99.6 142.1,98.8 142.3,97.6 141.5,92.0 143.9,89.2 144.3,88.2 142.6,83.2 141.6,82.5 139.6,82.2 138.7,82.6 137.1,84.1 136.7,85.0 136.0,91.4 128.8,89.3 128.0,89.3 127.3,89.6 125.2,91.7Z" fill="#3fdf42"/>
<path d="M145.4,79.9 143.7,82.3 143.7,83.2 145.2,87.4 145.8,88.2 152.2,89.8 153.2,89.7 153.9,89.1 154.3,88.5 155.2,84.0 155.6,82.8 155.5,81.9 155.0,81.1 154.1,80.7 147.1,79.3Z" fill="#3aff4a"/>
<path d="M155.0,89.9 155.1,91.0 155.9,92.3 155.3,98.6 155.8,100.0 155.4,105.2 155.8,106.1 158.1,109.0 158.7,109.5 159.6,109.6 160.5,109.4 167.6,105.0 168.4,103.7 175.7,102.8 176.4,102.2 177.8,99.7 177.9,98.6 177.3,97.5 173.0,94.5 169.1,92.6 172.3,86.7 172.3,82.6 171.9,82.0 171.2,81.3 166.0,81.0 164.4,81.3 161.3,80.3 159.0,80.3 158.3,80.5 157.5,81.2 156.1,84.3Z" fill="#6099f2"/>
<path d="M173.8,80.4 173.4,81.0 173.3,81.8 173.3,85.5 173.9,86.6 174.6,87.1 180.5,88.9 181.4,88.9 182.3,88.3 182.7,87.7 183.1,85.6 182.9,84.7 182.5,84.1 176.7,79.2 175.3,79.2Z" fill="#45eb48"/>
<path d="M185.2,84.7 184.2,85.7 183.3,89.5 183.9,91.5 185.1,92.2 186.4,92.0 194.1,87.8 194.8,87.1 195.1,86.4 194.9,82.4 194.4,81.7 193.4,81.2 192.3,81.3Z" fill="#4cf2f3"/>
<path d="M198.0,80.7 196.8,81.0 196.0,82.1 196.1,87.0 197.5,91.2 198.0,91.8 198.7,92.1 199.6,92.1 206.0,90.4 207.2,91.0 208.1,90.9 208.8,90.6 210.9,88.5 212.4,88.8 215.9,88.8 216.8,88.1 218.1,85.9 218.1,85.0 217.3,81.5 216.4,80.4 215.6,79.9 209.4,80.4 208.1,80.1 204.4,81.0Z" fill="#34ea3d"/>
<path d="M215.4,96.6 215.3,97.5 215.8,98.5 218.7,100.4 220.0,100.4 222.0,99.7 222.6,99.2 223.7,97.6 223.4,94.5 224.9,88.7 228.2,86.6 228.8,85.7 228.9,84.8 228.5,83.4 227.9,82.4 226.9,81.9 220.8,81.8 220.1,81.9 219.4,82.4 218.9,83.7 219.4,86.0 217.4,89.1 217.3,89.9 217.5,90.9Z" fill="#fde733"/>
<path d="M230.0,85.4 233.2,91.5 234.3,92.1 235.6,91.9 236.4,91.2 236.6,90.3 235.9,84.8 239.8,82.7 240.3,81.7 240.1,80.2 239.4,79.6 235.3,76.8 234.4,76.6 233.5,76.8 230.4,78.9 229.8,79.7 229.2,81.8Z" fill="#0f1ef4"/>
<path d="M264.7,81.7 260.0,83.0 259.4,83.7 259.4,85.2 263.6,90.5 264.5,90.8 265.5,90.7 268.9,88.2 269.2,87.5 269.1,86.6 268.0,84.0 267.4,83.3 265.4,81.9Z" fill="#9939f0"/>
<path d="M258.0,106.0 257.4,106.8 257.3,107.7 258.8,111.1 259.3,111.6 260.2,111.9 263.5,111.3 268.3,119.3 269.0,120.0 269.9,120.3 277.8,120.4 278.7,120.2 279.3,119.7 279.7,118.5 279.7,80.0 279.6,79.3 279.0,78.6 278.0,78.1 277.0,78.3 269.7,83.1 269.4,84.6 270.8,88.2 264.8,92.5 263.3,98.1 263.5,99.0 264.5,100.5Z" fill="#41e9e3"/>
<path d="M3.5,105.7 3.8,106.7 4.6,107.4 5.7,107.6 6.7,107.1 13.7,97.5 14.1,96.7 13.9,95.6 12.8,93.1 12.3,92.6 5.6,89.8 4.2,90.2 3.5,91.5Z" fill="#ff6e3f"/>
<path d="M14.8,91.5 14.1,92.4 14.1,93.4 15.2,95.9 15.9,96.6 20.2,98.9 23.6,98.5 24.3,98.2 24.8,97.7 25.1,96.8 24.9,92.0 22.7,88.9 21.8,88.6 18.6,88.8Z" fill="#f82c3c"/>
<path d="M27.2,91.5 26.2,92.3 25.9,93.4 26.2,96.2 26.5,96.9 27.3,97.4 28.4,97.4 34.3,96.1 34.9,95.7 35.5,95.0 35.6,94.1 35.2,93.1 31.8,90.3 30.5,90.2Z" fill="#ff7738"/>
<path d="M36.8,95.5 36.8,96.7 39.2,101.9 40.4,102.5 42.5,102.4 43.4,102.1 44.0,101.5 46.8,95.3 47.0,94.2 46.4,93.1 45.4,92.6 43.5,93.0 39.0,93.1 38.3,93.3 37.5,93.9Z" fill="#3ff943"/>
<path d="M75.1,99.2 75.3,100.1 75.8,100.8 78.7,102.7 79.4,102.9 84.3,102.2 85.6,100.9 86.0,99.8 85.8,98.9 82.3,92.4 81.3,91.9 77.4,91.3 76.2,91.7 75.5,92.8Z" fill="#f2f3c0"/>
<path d="M85.4,91.1 84.2,92.0 84.1,93.5 86.7,98.4 87.5,99.2 88.4,99.5 89.9,99.3 93.7,96.9 94.4,96.3 94.8,93.4 93.4,90.3 92.7,89.6 91.4,89.4Z" fill="#f1fab5"/>
<path d="M107.1,90.7 104.9,94.7 105.0,95.5 106.8,100.1 107.7,101.0 108.6,101.2 109.5,100.9 112.9,97.7 113.0,96.9 112.9,96.2 110.6,91.6 110.1,91.0 109.1,90.4 108.1,90.3Z" fill="#ec2ed2"/>
<path d="M113.1,90.1 112.2,91.0 112.1,92.3 114.1,96.4 114.9,97.1 117.0,97.7 117.7,97.7 122.8,96.2 123.8,95.2 124.1,92.4 123.8,91.5 119.6,87.9 118.8,87.7 118.1,87.8Z" fill="#3df2e1"/>
<path d="M143.1,91.7 142.7,93.0 143.4,98.0 143.7,98.8 144.4,99.4 145.4,99.6 152.9,98.8 153.8,98.4 154.2,97.8 154.8,92.8 154.5,91.9 153.8,91.2 145.8,89.4 144.8,89.8Z" fill="#6a89fc"/>
<path d="M171.5,90.4 171.2,91.7 171.9,92.8 173.5,93.6 178.8,97.3 180.0,97.3 182.5,96.1 183.5,95.1 183.6,93.7 182.7,91.3 182.3,90.6 181.5,90.1 174.0,88.0 172.7,88.5Z" fill="#9b50e3"/>
<path d="M185.8,93.4 184.9,94.6 185.0,95.8 185.4,96.4 187.0,97.8 188.5,101.0 189.2,101.5 194.1,103.4 195.5,103.0 199.8,98.7 204.7,100.1 205.6,100.1 206.3,99.8 208.8,97.7 211.9,97.8 212.7,97.6 213.4,96.9 213.7,96.0 212.5,91.9 211.4,90.9 210.5,90.8 209.8,91.0 208.1,92.6 206.3,91.7 205.5,91.6 197.2,93.7 196.0,90.0 195.3,89.3 194.5,89.0 193.4,89.3Z" fill="#51ddf6"/>
<path d="M212.8,89.8 214.7,95.6 216.5,90.9 216.2,89.9Z" fill="#41d9f0"/>
<path d="M224.5,94.2 224.6,96.1 225.6,97.2 226.5,97.4 230.9,97.3 231.6,97.0 232.3,96.3 233.0,93.5 230.5,88.5 229.6,87.8 228.7,87.7 227.9,88.0 225.8,89.5Z" fill="#ff695b"/>
<path d="M243.9,98.0 244.1,99.5 246.2,102.0 247.1,102.3 250.1,102.2 251.2,101.5 254.1,97.0 254.3,95.6 252.6,93.0 251.7,92.5 250.8,92.6 245.1,95.5 244.5,96.2Z" fill="#ea2047"/>
<path d="M252.6,90.4 252.9,91.7 255.9,95.5 260.7,97.3 261.8,97.2 262.6,96.4 263.5,93.0 263.3,91.9 257.3,84.5 256.4,84.3 255.5,84.5 253.5,86.8 253.1,87.5Z" fill="#8e2fed"/>
<path d="M8.4,106.4 8.1,107.1 8.1,107.9 8.4,108.6 8.9,109.1 11.7,110.3 13.2,110.0 16.4,107.8 17.0,107.1 19.0,100.9 18.7,99.5 18.2,99.0 16.2,98.0 15.5,97.9 14.6,98.2Z" fill="#40eb3c"/>
<path d="M14.5,110.3 13.8,111.2 13.8,112.5 16.7,117.4 18.5,118.9 21.2,118.9 25.3,116.9 26.1,116.2 27.0,110.6 28.1,108.7 28.1,107.7 27.5,106.7 26.5,106.2 19.2,106.6 18.4,107.0 17.6,108.1Z" fill="#eaf0d0"/>
<path d="M19.4,103.1 19.3,104.0 19.6,104.6 20.3,105.3 21.1,105.5 25.1,105.2 26.0,104.5 26.4,103.5 25.5,100.5 24.8,99.8 24.0,99.5 21.4,99.8 20.6,100.2 20.0,100.9Z" fill="#f7f6c3"/>
<path d="M28.1,98.5 26.9,99.4 26.6,100.6 28.2,105.3 29.5,108.2 30.3,108.7 36.5,110.9 37.4,110.9 38.2,110.5 38.9,109.7 39.2,108.9 39.3,104.1 39.0,103.2 38.4,102.7 36.1,97.7 35.3,97.2 34.4,97.1Z" fill="#3bed28"/>
<path d="M40.2,107.9 40.4,108.7 40.9,109.4 44.2,110.8 45.6,110.6 46.5,109.5 46.6,108.5 45.7,104.6 45.2,103.8 44.3,103.3 41.9,103.4 40.7,104.0 40.3,105.0Z" fill="#e51f38"/>
<path d="M48.2,103.1 47.2,103.7 46.8,104.9 47.7,109.1 48.4,110.0 49.2,110.4 50.2,110.3 54.2,108.4 54.9,107.8 55.3,106.8 55.2,103.5 54.9,102.6 54.4,102.0 52.9,101.7Z" fill="#f59486"/>
<path d="M58.5,98.7 57.1,99.0 56.1,100.6 56.4,107.7 57.4,109.2 58.2,109.7 62.0,109.6 62.9,109.0 63.3,108.0 63.2,100.4 62.7,99.6 62.0,99.2Z" fill="#f33e83"/>
<path d="M67.2,101.7 66.3,101.4 65.4,101.5 64.6,102.2 64.3,103.1 64.4,109.4 65.1,110.3 66.8,111.2 67.7,111.2 68.5,110.8 70.4,107.5 75.1,107.0 76.8,105.2 77.2,104.4 77.2,103.5 76.8,102.7 74.7,101.4 73.8,101.4 69.1,103.0Z" fill="#e628ce"/>
<path d="M78.9,104.3 77.5,106.2 77.6,107.3 78.2,108.2 79.3,108.6 83.4,107.6 84.1,107.0 84.5,106.0 84.4,105.0 84.1,104.4 83.4,103.7 82.7,103.5 79.6,103.9Z" fill="#639af0"/>
<path d="M78.9,116.2 78.2,117.9 78.1,118.7 78.4,119.5 79.1,120.2 80.0,120.4 86.8,120.3 87.7,119.7 88.1,118.9 88.1,113.0 87.6,112.2 83.8,108.8 82.9,108.8 79.0,109.8 78.1,110.5 77.7,111.5Z" fill="#5ca3e7"/>
<path d="M88.1,100.4 86.9,100.9 85.5,102.9 85.5,107.8 85.6,108.8 86.0,109.4 89.2,112.3 89.2,117.6 89.6,118.7 90.5,119.3 91.4,119.3 95.4,118.1 96.4,117.4 103.6,120.9 104.5,121.0 105.5,120.6 106.0,119.8 106.9,117.5 107.0,116.8 104.0,107.1 103.9,106.0 98.0,98.4 97.1,97.8 95.0,97.4 90.0,100.4Z" fill="#6391fb"/>
<path d="M108.5,103.2 108.0,104.0 107.9,104.7 108.2,105.6 108.8,106.2 114.7,108.8 115.8,108.7 116.8,107.8 117.0,106.9 116.9,100.0 116.6,99.1 115.9,98.5 114.7,98.2 113.7,98.4Z" fill="#3933e8"/>
<path d="M119.2,98.3 118.3,98.9 117.9,99.9 118.1,108.1 118.6,108.9 119.2,109.3 122.0,110.1 122.9,110.0 123.9,109.2 124.2,108.2 123.1,99.1 122.6,98.3 121.7,97.8Z" fill="#34e442"/>
<path d="M134.8,106.2 134.9,107.1 135.4,107.8 137.3,109.1 138.0,109.3 138.8,109.2 143.5,107.4 144.2,106.8 144.5,106.0 144.1,101.4 143.2,100.6 142.0,100.4 136.0,103.0 135.2,104.0Z" fill="#ff812e"/>
<path d="M147.0,100.4 145.9,101.0 145.3,102.1 145.6,106.2 146.3,107.4 148.2,108.5 149.4,108.5 154.1,105.3 154.4,104.6 154.6,101.7 154.4,100.8 153.8,100.1 152.7,99.8Z" fill="#7a9fff"/>
<path d="M164.0,108.3 163.2,109.5 163.4,110.9 164.2,111.7 166.4,112.4 167.3,112.3 167.9,111.9 169.4,109.7 171.4,110.6 177.3,110.9 178.5,110.5 179.1,109.2 178.9,108.1 176.7,104.9 176.2,104.4 175.3,104.0 169.8,104.6Z" fill="#57a2e2"/>
<path d="M177.5,102.4 177.2,103.5 177.5,104.3 180.6,108.9 181.4,109.5 182.3,109.6 183.2,109.3 183.7,108.8 187.2,102.4 187.4,101.3 186.0,98.2 184.6,97.1 183.4,96.9 179.6,98.6Z" fill="#39e73e"/>
<path d="M185.0,108.4 184.8,109.3 185.0,110.2 185.5,110.7 186.7,111.4 191.4,120.6 186.6,123.2 186.0,123.8 185.7,124.5 186.0,129.6 186.5,130.2 189.6,132.4 191.0,132.7 194.5,131.4 195.9,132.0 196.7,132.0 200.5,130.6 201.1,130.0 205.3,123.3 206.1,122.9 211.5,130.5 215.8,131.6 216.7,131.3 217.8,130.4 218.2,129.0 216.4,122.4 216.0,121.7 213.7,120.0 218.7,112.3 218.4,111.0 216.4,108.2 218.1,102.5 218.0,101.5 217.3,100.7 214.6,99.0 213.8,98.8 209.3,98.8 205.9,101.4 201.2,100.1 200.3,100.1 199.3,100.6 195.0,104.8 189.8,102.8 188.9,102.8 187.7,103.6Z" fill="#312deb"/>
<path d="M217.8,107.1 217.9,108.5 219.9,111.3 224.8,113.0 225.7,113.0 226.5,112.6 228.3,110.0 228.4,109.2 228.0,108.4 223.2,101.8 222.2,101.0 221.1,101.1 219.5,101.9Z" fill="#1f2ad1"/>
<path d="M225.7,98.4 224.7,98.8 224.1,99.5 223.9,100.6 224.2,101.4 229.2,108.2 230.4,108.5 232.2,107.9 232.8,107.2 235.0,102.5 235.1,101.5 234.7,100.7 232.9,98.7 232.1,98.3Z" fill="#f55868"/>
<path d="M234.1,106.7 233.9,107.8 234.4,108.8 238.4,112.1 236.1,116.7 236.1,117.6 236.5,118.5 237.9,119.1 242.1,118.9 244.5,120.3 245.7,120.5 252.8,118.3 253.7,117.8 254.1,117.0 254.1,115.9 251.6,111.8 254.1,106.2 256.0,105.8 257.6,105.1 261.7,101.6 262.1,100.8 262.2,99.9 261.9,99.2 261.1,98.6 256.8,97.0 255.9,97.0 254.8,97.7 251.3,103.2 246.0,103.3 243.4,100.4 242.6,100.0 241.9,100.0 237.3,101.3 236.5,101.8Z" fill="#38db3a"/>
<path d="M5.4,109.1 4.0,109.7 3.5,111.0 3.5,138.8 4.0,140.0 5.3,140.5 7.9,140.1 10.3,138.4 11.8,138.2 12.7,137.4 13.6,129.7 13.4,128.5 17.1,120.1 16.8,119.1 15.9,118.1 12.0,111.7 6.5,109.2Z" fill="#933de8"/>
<path d="M23.6,118.9 22.7,119.8 22.6,121.1 26.1,129.9 27.4,130.4 28.9,130.1 36.1,133.0 37.0,133.0 37.8,132.5 38.3,131.8 38.3,130.8 35.5,120.8 37.0,119.9 37.6,118.8 37.4,113.3 36.8,112.2 30.2,109.7 29.0,109.9 28.4,110.3 27.9,111.1 27.1,117.1Z" fill="#812fd5"/>
<path d="M38.6,117.6 39.1,118.8 40.1,119.4 44.9,119.6 45.8,119.4 46.5,118.7 46.9,117.8 47.0,114.1 46.8,113.3 45.9,112.5 41.1,110.6 40.4,110.5 39.5,110.8 38.6,111.6 38.4,112.4Z" fill="#ebf3d0"/>
<path d="M53.9,109.8 48.5,112.4 48.0,113.2 48.0,116.7 48.6,117.4 49.2,117.8 51.6,117.8 52.3,117.7 53.0,117.1 55.7,112.5 55.9,111.6 55.3,110.3Z" fill="#da2cc8"/>
<path d="M61.0,110.7 60.2,110.9 59.5,111.5 59.2,112.2 59.3,113.1 61.6,119.0 62.6,119.8 63.7,119.8 67.8,116.7 68.2,115.6 67.8,113.6 67.1,112.7 64.0,110.8Z" fill="#f33de9"/>
<path d="M54.6,116.3 54.4,117.7 55.3,118.9 58.0,120.0 59.1,119.7 59.8,119.1 59.9,117.6 58.9,114.9 58.1,114.1 57.1,113.8 56.2,114.1 55.6,114.6Z" fill="#e13fe8"/>
<path d="M69.5,116.8 64.6,120.7 64.4,121.5 64.6,123.8 65.1,124.8 66.0,125.4 75.3,124.6 76.6,124.0 77.0,123.2 77.2,121.3 76.5,119.6 77.7,116.5 77.8,115.8 76.2,110.1 75.4,108.7 74.6,108.3 73.9,108.2 71.7,108.5 70.8,109.0 68.8,112.7Z" fill="#1e1bff"/>
<path d="M105.0,122.7 98.8,119.9 97.9,120.0 97.3,120.5 96.9,121.2 96.8,122.1 97.4,125.1 97.7,125.8 98.4,126.3 99.1,126.5 104.3,126.3 105.2,126.0 106.9,130.3 107.9,131.2 111.2,131.7 112.1,131.5 118.9,125.3 122.3,131.6 123.0,132.2 124.0,132.5 124.7,132.3 127.9,130.4 128.6,129.2 128.5,128.2 125.1,119.8 126.0,118.2 138.2,120.3 139.1,120.1 139.7,119.6 140.7,118.1 140.8,117.2 137.5,110.5 134.9,108.7 134.0,108.5 133.1,108.8 126.1,112.8 124.6,111.8 117.8,109.9 116.6,110.1 115.8,110.9 114.0,115.0 108.8,117.2 108.0,117.7 106.4,121.7 106.0,123.2 105.8,123.4Z" fill="#ff6a31"/>
<path d="M108.3,107.1 107.4,106.9 106.5,107.2 105.8,108.1 105.6,109.0 107.5,114.8 108.2,115.6 109.3,115.8 113.1,114.2 114.3,111.8 114.5,110.9 114.2,110.0 113.5,109.4Z" fill="#f2852d"/>
<path d="M140.5,109.6 139.6,110.4 139.3,111.7 141.8,116.4 142.4,116.7 143.3,116.8 146.3,116.4 147.2,115.8 147.7,115.0 148.2,110.9 148.0,110.0 147.6,109.4 145.7,108.2 144.8,108.1Z" fill="#fe7330"/>
<path d="M148.7,115.0 148.8,116.1 149.6,116.9 154.0,118.5 154.5,125.0 154.7,125.7 155.4,126.4 156.3,126.6 163.9,126.6 164.9,126.2 165.9,125.2 166.1,124.1 165.8,121.4 166.7,114.9 166.5,114.0 165.8,113.4 159.9,111.1 158.5,111.2 155.7,107.6 155.1,107.1 154.2,107.0 153.3,107.3 149.6,109.8 149.2,110.7Z" fill="#5590ec"/>
<path d="M166.9,120.5 167.1,123.8 167.7,124.9 172.9,127.4 173.7,127.5 174.5,127.2 179.4,121.7 179.4,120.4 178.0,117.6 179.1,114.2 178.9,112.8 178.4,112.3 177.5,111.9 170.3,111.5 169.3,111.8 167.9,113.9Z" fill="#ecf8d5"/>
<path d="M175.8,127.4 175.3,128.4 175.5,129.5 177.0,132.1 178.1,132.8 179.5,132.6 183.8,130.3 184.5,129.6 184.9,128.7 184.7,123.1 188.7,120.9 189.3,120.2 189.4,119.4 189.2,118.6 186.2,112.6 185.5,111.9 183.1,110.8 181.9,111.1 181.0,111.7 179.2,117.3 179.4,118.2 181.1,121.6Z" fill="#3628e7"/>
<path d="M216.1,118.1 215.8,119.1 216.1,120.0 216.7,120.7 217.5,121.0 224.5,119.7 227.0,117.2 231.4,119.7 232.6,119.9 233.3,119.6 233.9,118.9 236.6,113.6 236.6,112.3 236.1,111.5 233.4,109.4 232.7,109.1 231.9,109.1 229.6,110.1 226.5,114.6 221.1,112.8 219.8,113.0 219.1,113.6Z" fill="#f95b62"/>
<path d="M245.6,128.6 246.3,129.5 247.4,129.7 254.8,127.7 259.8,131.5 260.5,131.7 262.1,131.5 263.1,131.1 263.7,130.1 266.1,121.2 266.7,120.6 267.0,119.7 266.7,118.6 263.5,113.3 262.8,112.7 261.9,112.6 259.7,113.8 256.3,116.9 255.9,117.5 255.8,118.5 246.1,121.6 245.5,122.5 244.9,126.6Z" fill="#1f17e4"/>
<path d="M253.8,109.5 253.0,111.5 253.2,112.4 254.4,114.5 254.9,115.0 255.6,115.2 256.6,115.1 258.0,113.9 258.3,113.0 258.2,112.3 257.0,109.6 256.3,108.9 255.4,108.7 254.3,108.9Z" fill="#172ae7"/>
<path d="M15.2,126.8 15.1,128.1 15.7,129.1 20.9,132.0 21.8,132.1 23.7,131.4 24.6,130.3 24.6,129.0 21.6,121.2 21.2,120.5 20.5,120.1 19.1,120.0 18.1,120.7Z" fill="#44e7a1"/>
<path d="M38.9,120.4 37.6,120.9 37.1,121.5 37.0,122.4 39.6,131.7 40.4,132.5 41.3,132.7 45.6,131.7 46.4,130.6 47.3,126.5 45.9,121.5 45.3,120.9 44.4,120.5Z" fill="#5892f3"/>
<path d="M48.4,126.3 47.4,130.9 47.6,131.8 48.2,132.5 53.6,134.1 56.6,132.9 57.5,132.1 57.7,131.2 57.6,130.3 54.7,126.5 56.6,122.0 56.4,121.0 55.7,120.2 52.5,118.8 48.4,119.0 47.5,119.4 46.9,120.1 46.8,121.0Z" fill="#e031cc"/>
<path d="M56.3,125.3 56.1,126.2 56.4,127.1 59.7,131.2 60.6,131.5 61.5,131.3 63.4,129.2 63.9,126.0 63.5,122.1 63.1,121.4 62.6,120.9 61.2,120.6 59.0,120.9 58.3,121.3 57.8,121.8Z" fill="#f541ab"/>
<path d="M77.6,125.4 77.3,126.2 77.3,127.1 77.8,127.9 78.6,128.4 88.5,131.4 89.9,131.0 90.7,129.6 90.6,128.5 88.6,122.7 88.2,122.0 87.4,121.5 79.2,121.5 78.5,122.0 78.1,122.6Z" fill="#1c1ef9"/>
<path d="M69.6,126.2 68.5,126.7 67.9,127.9 68.3,129.3 69.4,129.9 73.9,130.9 74.8,130.8 75.8,130.1 77.0,128.0 77.1,127.2 76.8,126.5 76.3,126.0 75.6,125.7Z" fill="#1c1ef9"/>
<path d="M91.0,120.5 90.0,121.2 89.6,122.4 91.3,127.2 92.0,127.8 93.0,128.0 95.7,127.0 96.3,126.3 96.4,125.4 95.4,120.6 94.7,119.9 93.8,119.7Z" fill="#abf540"/>
<path d="M129.3,119.8 128.4,119.8 127.5,120.4 127.1,121.3 127.1,122.2 130.1,129.2 131.2,130.1 132.4,130.1 133.3,129.5 137.3,123.9 137.6,123.2 137.5,122.3 137.0,121.5 136.2,121.0Z" fill="#fe7f34"/>
<path d="M134.0,130.2 133.7,131.1 133.8,132.0 134.4,132.8 135.2,133.2 141.5,132.0 142.4,131.6 142.9,131.0 144.0,127.9 145.6,127.3 146.3,126.5 147.7,119.6 147.6,118.8 147.3,118.1 146.5,117.6 145.8,117.5 142.6,117.9 141.8,118.3 140.1,120.7 139.9,121.9Z" fill="#ed9578"/>
<path d="M147.6,125.0 147.8,126.3 148.8,127.1 151.8,127.4 153.0,126.8 153.5,125.4 153.2,120.3 152.5,119.2 150.6,118.4 149.7,118.6 149.1,119.1 148.7,119.9Z" fill="#fcf423"/>
<path d="M217.0,140.0 217.9,147.5 218.5,148.4 219.5,148.8 220.4,148.8 221.2,148.3 226.7,140.9 226.7,139.9 226.2,138.9 226.2,132.8 225.6,131.9 223.3,130.4 224.1,122.9 223.7,121.9 222.7,121.3 222.0,121.2 219.0,121.9 218.3,122.4 217.9,123.0 217.9,124.1 219.6,130.4 217.4,132.1 216.8,133.0Z" fill="#ed5567"/>
<path d="M224.5,128.7 224.6,129.6 225.0,130.2 226.8,131.2 227.7,131.0 230.9,129.6 232.9,125.5 232.1,122.0 231.6,121.0 228.0,119.0 226.8,119.1 225.9,119.9 225.3,121.0Z" fill="#3bf133"/>
<path d="M235.1,120.2 233.9,120.7 233.3,121.9 233.7,124.1 234.5,125.1 242.2,126.3 243.3,126.0 243.9,125.3 244.4,122.1 243.8,121.1 242.4,120.2 241.3,119.9Z" fill="#933ffe"/>
<path d="M264.7,130.1 264.8,131.2 265.3,131.9 266.5,132.6 267.4,132.7 278.6,127.6 279.3,127.0 279.7,126.2 279.7,123.3 279.5,122.4 278.9,121.7 277.8,121.4 269.0,121.2 267.6,121.6 266.7,122.7Z" fill="#f33b8b"/>
<path d="M40.7,133.9 39.6,134.6 39.2,135.8 41.1,140.1 43.2,142.2 44.1,142.5 45.0,142.3 46.5,140.8 46.9,140.0 47.0,134.8 46.8,133.9 46.0,133.1 45.1,132.9Z" fill="#2929d5"/>
<path d="M13.9,137.2 14.0,138.2 14.5,138.8 17.5,140.5 18.3,140.5 19.0,140.1 22.4,140.4 24.3,140.3 28.5,138.4 30.9,139.9 31.8,140.0 32.9,139.7 35.9,137.0 36.3,136.4 36.5,135.5 36.2,134.6 35.5,133.9 29.2,131.3 28.3,131.3 26.9,131.8 25.6,131.8 21.3,133.3 17.0,131.0 16.1,130.8 15.0,131.2 14.4,132.2Z" fill="#2929d5"/>
<path d="M50.4,134.3 49.1,134.4 48.2,135.2 48.0,136.1 48.0,139.2 48.4,139.9 49.1,140.5 51.4,141.1 52.3,141.1 53.2,140.5 53.6,139.6 53.3,136.0 52.5,135.0Z" fill="#5d9fe8"/>
<path d="M55.5,134.5 54.7,135.2 54.4,136.2 54.8,141.1 55.2,141.9 56.0,142.4 56.8,142.6 61.1,141.3 61.7,140.5 62.8,137.3 61.3,133.3 60.5,132.8 59.4,132.7Z" fill="#fb2996"/>
<path d="M62.8,131.5 62.4,132.3 62.4,133.2 63.6,136.1 64.6,137.0 70.8,138.0 73.5,137.7 74.2,137.2 74.7,136.7 74.9,133.3 74.5,132.5 73.8,131.9 64.9,130.0 63.9,130.3Z" fill="#fcf033"/>
<path d="M79.0,129.5 78.1,129.5 77.3,129.8 76.0,131.8 75.8,137.2 75.9,138.1 77.1,139.7 78.0,140.3 84.1,139.8 84.9,139.1 87.3,134.2 87.5,133.5 87.2,132.6 86.3,131.8Z" fill="#fd35cb"/>
<path d="M86.0,139.1 85.8,140.0 86.1,141.0 87.1,142.0 88.2,142.4 95.8,141.1 96.7,140.3 97.1,139.1 96.6,137.9 91.8,133.1 90.4,132.5 89.5,132.8 88.9,133.4Z" fill="#e439dd"/>
<path d="M97.4,127.6 92.4,129.5 91.9,130.2 91.8,131.1 92.1,132.0 97.4,137.3 98.4,137.8 99.3,137.7 103.9,136.1 106.2,131.8 106.1,131.0 105.2,128.4 104.6,127.7 103.8,127.4Z" fill="#60f6a2"/>
<path d="M106.7,133.2 105.2,136.4 105.3,137.3 108.0,142.2 112.5,144.5 113.4,144.6 114.2,144.2 117.9,141.0 118.5,140.2 118.5,139.1 118.1,138.3 111.6,132.8 108.3,132.3 107.5,132.5Z" fill="#52f2a6"/>
<path d="M114.3,130.9 113.7,132.2 113.9,133.1 114.4,133.7 118.6,137.3 119.7,137.4 120.7,136.9 122.0,134.6 122.2,133.7 119.5,128.6 118.6,128.1 117.3,128.3Z" fill="#d58cea"/>
<path d="M121.4,137.9 121.2,139.0 121.7,140.0 126.2,143.0 125.9,148.8 129.1,153.0 129.9,153.5 130.8,153.5 134.6,151.9 135.6,150.4 135.4,148.9 130.0,142.1 133.4,137.8 133.7,137.0 133.9,134.3 132.5,132.0 130.4,130.8 128.9,131.0 123.5,134.1Z" fill="#202cf0"/>
<path d="M141.1,140.7 144.3,142.0 147.0,136.8 144.2,134.5Z" fill="#e539db"/>
<path d="M134.8,136.1 135.0,137.1 135.5,137.8 138.4,139.6 139.5,139.8 140.2,139.6 140.9,138.9 142.4,135.8 142.5,134.9 141.8,133.7 140.4,133.3 135.8,134.3 135.1,135.1Z" fill="#e831cc"/>
<path d="M143.8,131.2 143.8,132.3 144.2,133.2 148.2,136.5 145.2,142.6 146.5,146.9 147.5,147.8 152.9,148.2 154.0,147.9 161.7,139.5 161.9,138.2 161.2,137.1 153.2,133.2 153.0,129.8 152.7,129.1 152.0,128.5 147.0,128.1 145.6,128.4 144.6,129.2Z" fill="#bcf44c"/>
<path d="M155.9,127.6 154.7,128.0 154.0,129.1 154.1,131.7 154.7,132.8 163.6,137.2 164.6,138.2 168.9,139.9 169.8,139.9 175.1,138.6 177.4,136.8 178.2,137.7 183.5,140.4 184.6,140.4 188.2,138.8 188.6,138.2 189.5,135.0 189.5,134.0 189.0,133.2 186.1,131.2 185.2,130.9 184.3,131.1 178.2,134.4 177.6,134.9 173.9,129.0 167.7,126.1 166.3,126.4 165.1,127.6Z" fill="#ee2940"/>
<path d="M189.7,138.0 189.7,138.9 190.1,139.8 194.6,143.6 195.5,143.7 196.3,143.4 198.3,141.7 198.7,140.9 198.7,139.8 196.3,133.9 195.8,133.1 195.0,132.7 193.9,132.7 191.1,133.9 190.6,134.6Z" fill="#40cef7"/>
<path d="M198.9,132.3 198.0,133.0 197.7,134.3 199.5,139.0 199.9,139.6 200.5,140.0 201.3,140.2 202.0,140.0 205.0,137.8 205.3,136.8 205.2,135.9 201.4,132.1 200.4,131.8Z" fill="#f9e83a"/>
<path d="M202.5,129.6 202.3,130.6 202.6,131.7 205.1,134.3 206.0,134.7 206.9,134.6 207.7,134.1 209.6,131.8 209.9,131.1 209.9,130.3 209.6,129.6 207.4,126.5 206.2,125.8 205.3,125.9 204.5,126.4Z" fill="#fff933"/>
<path d="M207.8,135.5 207.4,136.5 207.7,137.7 210.3,139.6 214.4,139.6 215.3,139.2 215.8,138.4 215.8,133.7 215.3,132.9 214.6,132.4 212.2,131.7 211.1,131.9 210.4,132.4Z" fill="#fffa2d"/>
<path d="M247.5,130.8 246.6,131.3 246.1,132.2 246.2,133.2 246.8,134.1 254.6,139.3 255.9,139.4 256.8,138.8 258.6,133.3 258.6,132.3 258.0,131.4 255.2,129.2 254.4,128.9Z" fill="#a940f7"/>
<path d="M228.5,131.8 227.6,132.5 227.3,133.3 227.2,138.0 227.4,139.0 228.5,140.3 235.1,143.5 236.0,143.3 238.9,141.9 241.7,139.7 245.7,133.1 245.9,132.2 244.4,128.4 243.6,127.6 235.0,126.3 234.2,126.4 233.5,127.0 231.6,130.5Z" fill="#a940f7"/>
<path d="M258.1,138.4 258.2,139.9 259.4,140.8 264.7,140.9 265.6,140.7 266.3,140.1 266.6,139.2 266.6,135.0 266.4,134.1 265.7,133.4 263.7,132.4 260.4,132.8 259.5,133.7Z" fill="#9129dc"/>
<path d="M267.7,134.6 267.7,138.1 268.1,138.7 268.8,139.1 269.7,139.3 278.7,136.2 279.4,135.6 279.7,134.8 279.7,131.1 279.5,130.2 278.5,129.4 277.4,129.3 268.5,133.4 268.0,133.9Z" fill="#8338db"/>
<path d="M3.5,143.5 3.6,149.9 4.1,150.6 5.3,151.1 9.6,151.0 10.3,150.7 11.0,150.1 11.2,149.4 11.2,148.5 8.5,142.5 7.8,141.7 6.9,141.4 4.9,141.6 4.2,142.0 3.7,142.6Z" fill="#b0e835"/>
<path d="M10.0,139.9 9.4,140.8 9.3,141.8 12.4,148.8 13.5,149.7 14.9,149.6 16.3,148.3 16.7,147.5 17.3,142.8 17.1,141.9 16.5,141.2 13.3,139.3 11.0,139.4Z" fill="#b3e93b"/>
<path d="M5.3,152.1 4.0,152.7 3.5,154.0 3.5,162.5 4.2,163.6 5.1,164.0 6.0,163.9 15.3,160.5 16.8,158.9 18.1,159.1 18.8,158.9 25.1,155.5 25.7,154.7 25.9,154.0 25.3,147.8 22.5,142.2 21.8,141.5 21.1,141.3 19.6,141.3 18.6,142.0 18.3,142.8 17.6,148.3 14.2,152.1 12.7,151.9Z" fill="#fc3c4a"/>
<path d="M23.3,141.4 26.5,148.0 27.2,147.6 24.3,141.3Z" fill="#f12f48"/>
<path d="M27.0,140.2 26.1,141.1 25.9,142.2 27.6,146.0 28.2,146.6 28.9,146.8 31.0,146.2 31.7,145.5 31.9,144.8 31.6,142.2 31.3,141.4 28.8,139.8 27.9,139.8Z" fill="#5b98e6"/>
<path d="M33.3,140.7 32.6,141.9 32.8,144.0 33.6,145.0 34.8,145.3 35.8,144.9 39.3,141.6 39.7,141.0 39.8,140.2 39.0,138.1 38.2,137.6 37.5,137.5 36.4,137.8Z" fill="#ff7c38"/>
<path d="M36.7,145.4 36.3,146.2 36.2,147.3 36.7,148.1 37.6,148.6 42.5,148.9 43.5,148.4 44.0,147.6 43.8,144.2 41.5,142.3 40.6,142.2 39.9,142.5Z" fill="#fe6f2e"/>
<path d="M45.4,143.5 44.9,144.7 45.2,148.0 45.7,148.8 46.7,149.5 47.4,151.0 47.9,151.6 55.0,153.5 55.9,153.4 56.7,152.9 57.1,152.1 57.1,151.1 53.9,145.8 54.3,144.3 54.0,143.6 53.6,143.0 48.1,141.3 47.1,141.7Z" fill="#9c44ea"/>
<path d="M56.6,143.7 55.5,144.6 55.3,146.0 57.3,149.5 58.0,150.1 58.9,150.4 59.8,150.2 63.3,147.2 63.6,146.3 63.4,145.6 62.1,143.4 61.5,142.9 60.3,142.7Z" fill="#d299e5"/>
<path d="M66.3,155.7 66.0,156.6 66.3,157.5 66.9,158.1 67.7,158.5 73.8,157.4 74.9,156.5 75.2,155.7 75.1,154.9 72.7,149.9 72.1,149.2 76.1,143.9 76.6,141.7 76.6,140.9 75.6,139.4 75.0,138.9 74.1,138.7 70.7,139.0 65.0,138.1 63.9,138.4 63.3,139.1 62.5,141.2 62.8,142.6 65.1,146.2 66.3,146.8 69.7,149.3Z" fill="#8023f5"/>
<path d="M61.4,157.5 60.0,158.0 59.5,159.2 59.9,166.9 60.5,167.9 63.0,169.6 63.8,170.0 64.6,169.9 66.6,168.7 67.3,167.6 66.6,159.0 66.1,158.2 65.4,157.7Z" fill="#8023f5"/>
<path d="M77.2,143.2 77.2,144.1 77.7,144.9 81.8,148.7 85.7,148.9 86.6,148.5 87.2,147.7 87.3,146.8 86.8,143.4 84.6,141.1 83.7,141.0 78.7,141.3 77.7,142.0Z" fill="#f48334"/>
<path d="M89.7,143.2 88.5,143.8 88.1,144.9 88.5,148.4 88.9,149.2 89.8,149.8 93.7,150.6 94.5,150.6 95.2,150.3 96.8,147.8 97.1,147.1 96.6,143.9 96.3,143.0 95.5,142.5 94.8,142.3Z" fill="#cf76f1"/>
<path d="M97.9,145.4 98.4,146.4 99.4,147.0 102.6,147.2 103.9,146.6 106.4,143.6 106.7,142.7 106.5,141.6 104.5,138.2 103.7,137.7 102.8,137.6 99.2,138.8 98.4,139.3 97.3,141.7Z" fill="#aef21e"/>
<path d="M107.1,144.4 104.5,147.6 104.4,148.5 105.6,151.3 106.3,152.1 107.4,152.4 108.7,151.7 112.1,147.9 112.4,146.7 112.2,145.8 111.7,145.2 109.0,144.0 108.3,143.9Z" fill="#53dfa2"/>
<path d="M114.9,145.0 114.3,146.1 114.5,147.2 117.4,151.2 118.3,151.9 119.0,152.0 119.9,151.7 124.1,149.2 124.8,148.3 125.1,144.6 124.9,143.7 124.4,143.0 121.1,140.9 120.1,140.8 119.3,141.1Z" fill="#dfa2e7"/>
<path d="M132.2,140.9 131.8,141.9 132.0,142.9 137.3,149.6 135.9,151.8 135.8,152.8 138.3,157.2 139.1,158.0 140.0,158.2 142.7,157.1 143.2,156.6 143.5,155.9 143.9,149.7 145.1,148.8 145.6,147.8 145.5,146.8 144.3,143.4 143.3,142.6 140.4,141.5 139.4,141.4 135.0,138.9 133.6,139.2Z" fill="#b7eeb1"/>
<path d="M163.4,139.4 158.7,144.6 158.6,145.5 158.9,146.3 159.6,146.9 166.5,149.5 167.8,149.3 168.7,148.4 168.9,147.5 168.7,141.9 168.3,141.0 167.6,140.4 164.7,139.3Z" fill="#41e846"/>
<path d="M171.1,140.6 170.2,141.2 169.7,142.2 170.0,147.9 170.8,148.7 174.3,150.3 175.0,150.5 176.0,150.3 176.8,149.5 177.0,148.4 175.4,141.0 174.7,140.3 173.8,140.0Z" fill="#f6193e"/>
<path d="M179.3,139.3 178.2,139.2 177.3,139.5 176.7,140.3 176.5,141.2 178.2,149.3 179.1,150.3 180.4,150.5 182.8,149.3 183.5,148.5 183.6,142.5 183.4,141.8 182.9,141.2Z" fill="#b3fe41"/>
<path d="M184.8,142.1 184.8,148.0 185.3,148.8 185.9,149.1 186.8,149.2 193.3,147.4 194.0,146.6 194.3,145.4 193.8,144.4 189.6,140.6 188.9,140.3 188.0,140.2 185.6,141.1Z" fill="#8b54fa"/>
<path d="M196.6,149.7 197.6,150.5 198.7,150.6 203.6,148.3 204.4,147.6 204.6,146.7 204.4,145.8 201.5,142.1 200.4,141.8 199.5,142.0 195.8,145.2 195.4,147.3Z" fill="#f129d5"/>
<path d="M203.7,140.0 203.0,140.9 203.1,142.2 206.7,146.9 208.2,147.2 214.5,149.5 215.6,149.4 216.5,148.6 216.8,147.5 216.3,142.3 216.0,141.5 215.4,140.9 214.6,140.6 209.9,140.7 207.3,138.8 206.4,138.6 205.4,138.8Z" fill="#0d15f0"/>
<path d="M237.4,153.1 233.3,156.4 232.9,157.2 232.4,159.3 232.5,160.0 233.6,161.7 234.5,162.3 235.8,162.2 243.1,159.1 243.7,158.7 244.2,157.6 245.0,150.5 247.7,148.9 248.2,148.3 248.6,146.2 248.1,145.0 243.3,141.5 242.4,141.1 241.3,141.3 239.4,142.7 237.1,143.9 236.5,144.6 236.3,145.5 237.6,149.5Z" fill="#1c24e8"/>
<path d="M222.9,147.6 222.5,148.9 222.9,149.9 224.3,150.9 225.4,150.9 232.6,146.5 233.2,145.6 233.2,144.5 232.9,143.8 232.3,143.3 229.2,141.8 227.9,141.7 227.0,142.4Z" fill="#1c24e8"/>
<path d="M243.6,138.4 243.4,139.7 243.9,140.7 249.7,144.8 249.2,149.5 248.1,149.8 246.7,150.6 245.9,151.6 245.1,158.0 245.6,159.3 246.4,159.8 247.3,159.9 252.9,157.8 254.6,159.1 255.7,159.3 259.8,158.8 262.3,157.8 262.9,156.5 262.5,151.3 264.3,150.5 264.9,149.4 265.6,143.8 265.1,142.5 263.9,141.9 257.6,141.9 256.6,141.0 254.7,140.6 246.8,135.5 245.9,135.6 245.2,136.0Z" fill="#4cf98b"/>
<path d="M266.1,148.5 266.2,149.5 266.8,150.2 267.7,150.6 269.1,150.6 269.9,150.2 273.4,146.5 278.1,145.8 278.9,145.5 279.5,144.8 279.7,144.1 279.7,139.4 279.4,138.6 278.5,137.9 277.4,137.8 267.6,141.2 266.8,142.3Z" fill="#1119e8"/>
<path d="M27.4,148.6 26.7,149.3 26.5,150.3 26.9,153.8 27.3,154.6 27.9,155.2 30.9,156.4 31.7,156.5 32.6,156.1 33.3,155.2 34.5,150.1 34.3,148.6 33.2,147.4 32.1,147.1 28.3,148.1Z" fill="#2cdd44"/>
<path d="M21.8,158.4 20.9,159.5 21.1,161.0 23.8,163.3 25.0,163.6 25.7,163.4 26.4,162.8 29.0,159.0 29.2,157.9 28.9,157.0 28.4,156.5 26.6,156.0Z" fill="#32f041"/>
<path d="M34.2,155.8 34.4,157.2 35.9,158.9 37.1,159.3 38.2,158.9 38.8,158.1 41.3,152.2 41.3,151.3 41.0,150.5 40.4,150.0 39.6,149.7 37.0,149.6 36.0,150.0 35.3,150.9Z" fill="#d338de"/>
<path d="M40.0,157.9 39.9,159.2 40.3,159.8 40.9,160.3 44.7,161.3 45.6,161.2 46.3,160.6 46.7,159.6 46.8,152.5 46.2,150.9 45.8,150.4 44.4,149.9 43.1,150.6Z" fill="#dd3bdf"/>
<path d="M50.1,153.3 48.6,153.6 47.8,154.8 47.7,158.8 48.5,160.0 49.2,160.3 50.1,160.2 55.3,158.1 56.1,157.5 56.4,156.1 55.7,154.8Z" fill="#993ce3"/>
<path d="M59.5,151.8 58.9,152.6 58.7,154.3 59.3,155.9 60.4,156.5 64.0,156.5 64.7,156.2 65.2,155.6 67.7,150.8 67.8,149.7 67.3,148.8 66.2,147.9 65.4,147.7 64.7,147.7Z" fill="#bbe830"/>
<path d="M76.8,156.4 77.4,157.1 78.1,157.4 79.4,157.4 82.4,158.0 83.5,157.8 84.2,157.1 86.6,152.5 86.7,151.6 86.5,150.9 85.9,150.2 85.2,149.9 81.3,149.8 77.7,146.4 76.7,146.1 75.8,146.4 74.0,148.4 73.8,149.7Z" fill="#8225f2"/>
<path d="M69.4,159.2 68.2,159.9 67.8,160.9 68.4,166.9 68.9,167.6 69.7,168.0 73.1,168.0 73.8,167.4 74.2,166.8 76.2,160.7 76.2,159.6 75.5,158.7 74.4,158.3Z" fill="#8225f2"/>
<path d="M75.1,167.3 75.0,168.2 75.3,168.9 77.3,170.6 78.3,170.6 86.5,169.1 88.6,171.3 92.3,172.5 93.2,172.4 95.9,171.0 96.6,170.2 96.8,169.5 96.5,165.7 99.4,160.3 99.4,158.9 98.8,158.1 97.0,157.0 95.3,152.8 94.7,152.0 93.9,151.6 90.1,150.9 89.2,150.9 88.1,151.7 84.1,159.3 79.4,158.4 78.7,158.6 78.0,159.1Z" fill="#eb1b3a"/>
<path d="M97.5,148.7 96.0,151.3 96.1,152.1 97.7,156.0 98.3,156.6 101.5,158.5 97.6,165.8 97.7,169.2 98.4,170.3 99.0,170.7 100.9,171.0 102.3,170.6 107.0,163.8 111.7,168.5 112.5,169.0 113.9,168.9 116.8,167.0 117.2,166.1 117.4,161.8 117.1,160.9 115.7,159.3 117.6,154.7 117.7,153.7 117.4,152.8 114.6,149.2 113.5,148.8 112.3,149.2 106.6,155.7 103.5,149.1 102.7,148.4 99.1,147.9 98.4,148.0Z" fill="#1c19e4"/>
<path d="M119.2,153.4 117.2,158.8 117.3,159.5 117.9,160.4 118.6,160.8 124.6,161.7 127.0,161.4 127.7,160.9 128.2,160.0 128.3,157.1 128.9,155.5 128.9,154.5 126.0,150.7 125.2,150.3 124.1,150.4Z" fill="#f72a52"/>
<path d="M129.2,158.9 129.4,159.8 130.1,160.5 131.0,160.8 132.2,160.8 136.2,158.5 136.8,157.5 136.7,156.5 135.1,154.0 134.2,153.6 133.3,153.6 130.7,154.7 130.1,155.3 129.3,157.2Z" fill="#8441ff"/>
<path d="M144.8,150.7 144.6,156.8 145.0,157.5 145.7,158.0 146.4,158.2 154.4,156.9 155.1,156.2 155.3,155.1 154.0,150.0 153.5,149.5 152.6,149.1 147.2,148.9 146.2,149.2 145.3,149.9Z" fill="#a0ff40"/>
<path d="M155.2,148.1 154.9,148.9 155.0,149.7 156.1,154.0 156.8,154.8 157.6,155.2 163.6,156.2 164.5,156.0 165.2,155.4 166.3,152.0 166.2,151.1 165.6,150.3 157.4,147.1 156.1,147.3Z" fill="#46efa2"/>
<path d="M166.3,155.9 166.4,157.3 168.3,159.7 170.0,160.3 171.2,160.1 172.0,159.3 174.4,153.4 174.6,152.7 174.3,151.8 173.6,151.1 170.4,149.6 169.6,149.6 168.9,149.8 167.6,151.1Z" fill="#32f437"/>
<path d="M173.5,158.3 173.4,159.2 173.6,159.9 174.2,160.6 174.8,160.9 179.4,161.0 181.2,160.2 181.7,159.4 181.8,158.6 180.5,152.8 180.0,151.8 179.1,151.4 178.1,151.2 176.2,152.0Z" fill="#121be9"/>
<path d="M163.2,169.3 163.0,170.4 163.6,173.2 163.0,177.4 163.4,178.4 166.5,180.5 171.3,181.0 172.5,180.5 173.1,179.6 174.8,173.7 171.9,167.8 171.4,162.8 170.8,161.8 170.0,161.4 168.6,161.2 167.7,161.5 166.7,162.5Z" fill="#121be9"/>
<path d="M182.4,150.7 181.7,151.5 181.5,152.6 183.0,159.4 183.9,160.2 187.0,161.2 187.7,161.3 188.6,161.0 189.4,160.0 189.4,158.9 186.2,150.8 185.5,150.1 184.4,149.8Z" fill="#2726eb"/>
<path d="M189.1,149.6 188.0,150.5 187.8,151.9 190.7,159.3 191.3,160.0 192.1,160.4 193.2,160.3 193.9,160.0 197.6,156.5 202.4,157.4 203.7,157.1 204.4,156.2 205.7,151.6 205.6,150.8 205.1,150.0 204.4,149.6 203.5,149.5 197.0,152.5 195.2,149.2 194.4,148.6 193.3,148.4Z" fill="#de7cea"/>
<path d="M207.2,149.9 205.4,156.8 205.7,157.7 206.3,158.2 207.2,158.5 208.1,158.3 211.4,156.3 212.0,155.7 213.5,152.2 213.6,151.4 213.2,150.5 212.5,149.9 209.5,148.7 208.6,148.7 207.9,149.0Z" fill="#d59cf2"/>
<path d="M213.3,155.0 213.2,156.1 213.6,156.9 218.9,161.5 216.4,165.9 216.3,167.0 216.8,167.8 217.7,168.3 225.7,170.3 226.6,170.2 231.9,168.8 233.0,167.8 233.5,163.5 231.3,160.1 232.1,156.2 235.8,153.2 236.3,152.5 236.5,149.4 235.6,147.4 234.8,147.0 233.8,147.0 225.0,152.5 220.8,150.0 217.2,149.7 215.7,150.4 215.1,150.9Z" fill="#d99aeb"/>
<path d="M270.9,150.5 270.5,151.3 270.5,152.4 272.0,156.0 272.5,156.7 273.3,157.1 277.8,157.6 278.7,157.4 279.3,156.9 279.7,155.9 279.7,148.8 279.5,147.9 279.0,147.3 277.7,146.9 274.0,147.4Z" fill="#973ff7"/>
<path d="M264.8,151.4 264.1,152.0 263.7,152.9 263.9,157.1 264.4,158.0 266.3,159.4 264.0,166.1 264.0,166.8 264.3,167.7 268.5,170.4 271.3,170.4 277.5,172.6 278.9,172.3 279.5,171.6 279.7,170.8 279.7,160.5 279.4,159.5 278.2,158.7 271.7,157.9 269.1,152.1 268.1,151.6 265.7,151.3Z" fill="#9231eb"/>
<path d="M3.5,179.1 4.1,180.4 4.9,180.9 5.6,181.0 12.4,178.7 13.4,177.9 13.7,176.9 13.1,172.6 15.1,171.0 15.5,169.9 15.4,164.0 15.1,163.1 14.6,162.6 13.6,162.3 12.9,162.4 4.7,165.4 3.8,166.1 3.5,167.2Z" fill="#9738ee"/>
<path d="M15.0,172.3 14.4,173.1 14.3,173.9 14.9,178.0 15.4,178.8 17.3,180.5 17.9,180.8 18.8,180.8 24.3,179.7 26.0,178.8 30.1,181.9 34.2,184.0 35.1,184.1 36.4,183.4 39.2,178.9 39.0,177.5 37.5,175.8 37.4,170.5 37.2,169.6 36.6,168.9 33.3,166.6 35.5,160.8 35.1,159.5 33.6,157.9 32.9,157.5 31.7,157.5 30.8,158.1 25.4,165.9 19.2,160.9 18.1,160.7 17.1,161.2 16.4,162.5 16.5,171.1Z" fill="#51d7e8"/>
<path d="M35.1,164.8 34.9,165.7 35.3,166.7 37.4,168.3 38.3,168.7 45.8,168.0 46.7,167.4 47.1,166.3 46.7,163.8 45.9,162.8 38.5,160.7 37.4,160.8 36.6,161.4Z" fill="#d73fef"/>
<path d="M48.8,161.8 47.9,162.7 47.7,163.8 48.3,166.9 49.3,167.9 50.2,168.0 57.3,167.4 58.1,167.0 58.7,166.3 58.8,165.4 58.5,160.4 58.1,159.5 57.4,159.0 56.1,158.9Z" fill="#648fee"/>
<path d="M113.1,174.8 113.5,176.1 114.1,176.5 114.8,176.7 122.0,175.9 123.0,175.3 123.6,174.1 128.3,171.3 129.1,170.3 129.3,169.2 128.2,164.0 127.8,163.2 127.2,162.7 126.5,162.5 124.7,162.7 120.3,162.1 119.1,162.4 118.3,163.7 118.1,167.5 113.9,170.1 113.3,170.8Z" fill="#5ca4ff"/>
<path d="M131.3,161.8 129.9,162.3 129.2,163.5 130.0,167.8 130.5,168.7 131.8,169.3 135.6,169.0 136.4,168.7 137.5,167.7 138.0,166.3 137.4,164.9 132.3,162.1Z" fill="#60a7ff"/>
<path d="M136.1,159.7 135.5,160.4 135.2,161.0 135.5,162.4 136.1,163.1 139.5,165.0 140.3,166.0 142.5,166.5 144.4,166.2 145.2,165.5 145.5,164.6 145.3,159.7 145.1,159.0 144.4,158.4 143.0,158.1 139.7,159.5 138.8,159.0 137.8,158.9Z" fill="#4fe1ea"/>
<path d="M148.0,159.0 146.8,159.6 146.4,160.6 146.6,165.7 147.4,166.7 149.9,167.9 151.4,168.0 153.6,166.4 154.1,165.7 154.6,163.5 154.5,159.6 153.9,158.7 152.8,158.3Z" fill="#8835f1"/>
<path d="M155.0,166.2 162.1,169.4 165.3,163.0 155.5,164.1Z" fill="#fb243b"/>
<path d="M157.8,156.2 156.4,156.5 155.6,157.7 155.6,161.4 155.9,162.1 156.6,162.7 157.7,162.9 165.4,162.0 166.0,161.7 166.6,161.0 166.8,160.3 166.7,159.4 165.1,157.5Z" fill="#f22133"/>
<path d="M174.4,161.9 173.4,162.2 172.6,163.2 172.8,167.2 174.7,171.6 175.6,172.3 176.5,172.5 178.1,172.1 179.5,170.9 185.5,168.2 186.3,167.4 187.2,163.6 186.9,162.5 186.1,161.9 182.8,160.9 179.8,162.0Z" fill="#9b32f4"/>
<path d="M187.3,167.4 187.4,168.7 189.5,172.1 190.2,172.7 191.2,173.0 193.2,172.7 194.4,171.8 194.7,170.7 194.1,163.0 193.9,162.3 193.2,161.6 192.3,161.4 190.9,161.5 188.9,162.5 188.4,163.3Z" fill="#da3be0"/>
<path d="M195.1,162.4 195.7,171.5 196.2,172.5 196.9,173.0 197.7,173.1 198.5,172.9 206.8,167.8 207.5,167.0 207.6,165.9 206.3,160.4 205.7,159.7 204.0,158.7 198.9,157.7 197.8,157.8 195.0,160.4 194.8,161.4Z" fill="#aeef4b"/>
<path d="M208.4,159.2 207.7,160.0 207.5,160.9 208.9,166.6 209.5,167.2 210.2,167.5 213.3,167.5 214.3,167.1 217.0,162.7 217.0,161.8 216.7,160.9 213.2,157.9 212.4,157.5 211.1,157.6Z" fill="#e642d4"/>
<path d="M234.1,167.4 234.2,168.3 234.6,168.9 235.9,169.8 236.6,169.9 243.7,168.0 244.4,167.4 244.8,166.6 245.0,162.3 244.7,161.4 243.9,160.7 242.5,160.5 235.5,163.4 234.6,164.4Z" fill="#f8790b"/>
<path d="M245.8,166.6 246.3,168.0 247.6,168.6 255.7,168.7 256.5,168.4 257.2,167.7 261.8,167.2 262.5,166.8 263.0,166.0 264.6,161.3 264.6,160.2 263.9,159.3 262.9,158.9 260.1,159.8 254.6,160.4 253.1,159.3 251.7,159.3 247.1,161.1 246.4,161.6 245.9,162.6Z" fill="#8b43ee"/>
<path d="M25.0,182.5 22.9,194.0 23.3,194.8 23.9,195.3 24.8,195.5 66.8,195.5 67.7,195.3 68.5,194.3 68.5,193.0 64.8,186.6 65.9,180.1 65.8,175.0 64.7,172.0 64.0,171.2 63.2,171.0 59.9,168.6 59.0,168.3 48.1,169.2 46.9,168.9 39.4,169.7 38.8,170.2 38.4,171.1 38.5,175.0 38.9,175.8 41.0,178.0 35.9,186.0 29.6,182.8 27.6,181.3 26.7,181.1 25.8,181.4Z" fill="#ff823b"/>
<path d="M66.6,169.9 66.0,170.6 65.7,171.6 66.5,173.9 67.1,174.6 73.9,177.8 75.0,177.8 75.9,177.1 76.3,176.1 76.6,172.0 76.1,171.0 74.3,169.4 73.4,169.1 68.4,169.0Z" fill="#6391f8"/>
<path d="M66.8,175.6 66.9,180.2 75.4,180.5 75.7,179.8Z" fill="#5f9af6"/>
<path d="M77.2,177.1 77.5,178.3 78.5,179.1 83.5,179.6 84.6,179.3 85.3,178.5 87.2,172.9 87.3,172.0 87.1,171.3 86.4,170.6 85.4,170.3 78.6,171.7 77.6,172.8Z" fill="#f9691a"/>
<path d="M85.0,193.3 85.1,194.2 85.4,194.8 86.7,195.5 96.6,195.5 97.6,195.1 98.3,194.0 98.5,191.9 98.3,191.1 92.7,181.8 93.7,178.1 92.7,174.4 91.8,173.4 90.0,172.8 88.9,172.9 88.0,173.8 85.9,179.6 86.0,180.5 86.5,181.6Z" fill="#3ced3f"/>
<path d="M94.8,172.7 94.1,173.3 93.8,174.4 94.4,176.7 95.0,177.4 95.8,177.8 99.6,178.5 100.5,178.3 101.2,177.8 101.7,176.6 101.4,173.6 100.8,172.2 99.9,171.8 97.6,171.4Z" fill="#1a2ee7"/>
<path d="M105.3,173.2 104.3,173.1 103.6,173.2 102.9,173.9 102.6,174.5 102.9,179.0 103.6,180.4 104.5,180.9 105.2,180.9 110.6,179.7 111.5,179.1 112.1,177.7 111.5,176.4Z" fill="#291ee3"/>
<path d="M104.4,169.3 104.1,170.0 104.1,170.8 104.4,171.5 105.2,172.1 109.9,174.3 111.1,174.2 111.9,173.4 112.1,172.5 112.0,170.3 108.3,166.6 107.3,166.4 106.4,166.7Z" fill="#172bea"/>
<path d="M124.0,175.5 123.9,176.8 125.9,181.9 126.3,182.6 127.2,183.0 128.5,183.0 130.4,181.6 133.0,178.5 133.1,177.6 132.8,176.8 129.8,173.4 129.1,172.8 128.3,172.7 127.4,173.0 124.7,174.6Z" fill="#2a1fe9"/>
<path d="M132.4,170.2 131.6,170.5 130.8,171.3 130.7,172.2 130.9,173.1 134.4,177.0 135.3,177.3 136.7,177.0 137.5,176.2 137.7,175.3 136.3,171.0 135.8,170.4 135.1,170.1Z" fill="#1d1ef2"/>
<path d="M141.9,178.6 143.0,178.8 144.0,178.3 149.4,171.3 149.8,169.9 149.1,168.7 146.0,167.2 142.1,167.5 140.2,167.2 139.2,167.6 137.5,169.0 137.2,169.7 137.2,170.6 139.2,176.7 139.9,177.5Z" fill="#171de9"/>
<path d="M139.9,183.4 136.6,193.8 136.9,194.6 137.4,195.2 138.3,195.5 146.4,195.5 147.2,195.2 147.8,194.6 148.0,193.9 148.0,193.2 145.1,181.4 144.8,180.8 144.1,180.1 143.0,179.9 142.0,180.2Z" fill="#171de9"/>
<path d="M146.1,177.2 145.8,178.6 146.3,179.8 147.3,180.3 149.6,180.4 153.6,178.7 154.2,178.0 154.5,177.1 154.2,176.2 152.2,173.1 151.5,172.6 150.7,172.4 150.0,172.6 149.4,173.0Z" fill="#972feb"/>
<path d="M152.5,168.5 151.8,169.6 151.9,170.7 156.3,177.5 158.9,178.7 160.7,178.3 161.5,177.9 162.1,176.9 162.6,173.4 162.2,171.2 161.8,170.5 155.2,167.4 153.9,167.5Z" fill="#e86825"/>
<path d="M176.0,174.0 174.7,178.2 175.0,179.1 175.5,179.6 176.4,179.9 182.0,179.9 183.0,179.3 183.6,178.2 183.4,177.3 183.0,176.6 179.0,173.5 178.1,173.2 176.8,173.5Z" fill="#f5f9c2"/>
<path d="M181.8,170.9 181.1,171.5 180.7,172.3 180.8,173.2 181.3,174.0 185.5,177.2 186.5,177.3 187.5,176.8 188.9,174.5 189.0,173.6 188.8,172.7 187.0,170.0 186.3,169.5 185.4,169.4Z" fill="#f0f7bb"/>
<path d="M188.5,177.3 188.2,178.1 188.3,178.8 188.7,179.5 189.4,180.0 195.7,182.3 196.9,182.2 197.8,181.2 197.9,180.3 197.1,175.1 196.6,174.3 195.6,173.7 194.6,173.5 190.6,174.2 189.9,174.8Z" fill="#863de8"/>
<path d="M199.1,173.7 198.4,174.4 198.1,175.5 198.9,179.7 199.9,180.8 200.8,181.0 206.1,179.9 207.3,180.0 209.3,179.4 210.2,178.4 210.3,177.5 209.3,170.3 208.9,169.5 208.1,169.0 207.4,168.9 206.5,169.1Z" fill="#9740ea"/>
<path d="M212.3,168.5 210.9,169.0 210.4,169.7 210.3,170.5 211.3,178.0 211.8,178.8 212.5,179.3 217.7,180.6 224.8,179.9 225.8,180.8 226.9,181.1 235.4,179.6 236.2,179.2 236.7,178.4 236.8,177.5 235.9,171.5 235.4,170.7 233.9,169.7 232.6,169.6 226.5,171.5 214.5,168.6Z" fill="#8443ed"/>
<path d="M238.5,170.5 237.5,171.2 237.1,172.4 237.9,177.9 238.4,178.7 239.2,179.2 240.1,179.2 247.3,177.5 248.6,178.3 249.6,178.5 254.9,177.2 255.6,176.8 256.1,176.0 256.2,171.2 255.7,170.3 254.9,169.8 245.7,169.5 245.0,169.1 244.2,169.0Z" fill="#8b30ee"/>
<path d="M257.1,176.0 257.5,177.1 258.5,177.9 260.2,178.3 261.2,178.1 266.2,172.6 266.6,171.6 266.4,170.5 265.7,169.9 262.8,168.2 258.2,168.7 257.5,169.4 257.2,170.2Z" fill="#9918e2"/>
<path d="M262.8,178.0 262.3,179.2 262.6,180.2 263.5,181.1 264.8,181.2 276.6,176.8 277.4,175.9 277.6,174.6 277.1,173.8 276.4,173.3 271.3,171.5 269.0,171.5 268.0,172.1Z" fill="#9045f4"/>
<path d="M3.5,193.6 3.9,194.8 5.0,195.5 9.6,195.5 10.7,195.0 16.6,182.8 16.6,181.7 16.1,180.7 14.7,179.6 13.6,179.4 4.8,182.3 4.0,182.8 3.5,183.9Z" fill="#e73c4e"/>
<path d="M17.9,182.4 12.8,193.5 12.9,194.3 13.5,195.1 14.2,195.4 20.1,195.5 21.3,194.9 21.8,194.0 23.8,183.5 23.7,182.6 23.2,181.8 22.4,181.3 21.7,181.2 18.8,181.8Z" fill="#e03b46"/>
<path d="M68.4,181.3 67.3,181.6 66.7,182.3 66.0,186.5 71.0,195.0 72.3,195.5 82.0,195.5 83.4,194.9 83.8,194.1 84.3,191.6 85.4,182.8 85.2,181.8 84.7,181.1 83.7,180.7 77.9,180.0 76.7,180.4 76.0,181.5Z" fill="#fb7522"/>
<path d="M100.8,190.3 99.7,191.3 99.3,193.6 99.7,194.7 100.7,195.4 113.5,195.5 114.6,195.1 115.2,194.1 115.2,193.0 113.3,187.5 112.9,186.8 112.1,186.4 110.9,186.4Z" fill="#8d29ef"/>
<path d="M94.0,180.8 94.1,182.2 97.5,187.7 98.8,188.4 100.2,187.9 103.0,182.4 103.0,181.4 102.5,180.5 101.5,179.8 95.9,178.9 94.6,179.5Z" fill="#8d29ef"/>
<path d="M102.9,184.9 102.7,185.8 103.1,186.9 104.0,187.6 105.1,187.6 111.5,185.1 112.2,184.0 112.0,182.2 111.4,181.2 110.3,180.8 104.9,182.0 104.0,182.7Z" fill="#9333f7"/>
<path d="M116.1,183.2 115.2,183.1 114.4,183.5 113.8,184.3 113.7,185.2 116.6,194.2 117.3,195.2 118.4,195.5 133.6,195.5 134.4,195.2 135.1,194.4 138.9,183.2 140.3,180.9 140.5,179.7 139.9,178.7 138.9,178.1 134.7,178.5 131.2,182.2 127.5,184.9 127.1,185.6 127.0,186.6Z" fill="#ed6f34"/>
<path d="M114.5,177.8 113.3,178.4 112.8,179.3 112.9,180.4 113.8,181.4 122.6,184.2 123.9,184.0 124.6,183.2 124.9,182.3 124.7,181.6 123.3,178.0 122.5,177.2 121.4,177.0Z" fill="#f58431"/>
<path d="M152.8,180.2 152.1,180.8 151.7,181.4 151.9,182.8 153.0,184.4 153.6,184.9 154.5,185.0 155.4,184.8 156.8,183.1 157.5,181.2 157.2,179.9 156.4,179.2 155.5,179.0Z" fill="#d829eb"/>
<path d="M148.7,181.4 147.8,181.5 147.2,182.0 146.7,182.8 146.7,183.5 148.7,191.5 149.4,192.4 150.7,192.6 151.5,192.3 152.1,191.5 153.4,188.0 153.5,187.1 153.1,186.3 150.2,182.0 149.6,181.6Z" fill="#f237e1"/>
<path d="M154.7,187.3 152.5,193.7 152.7,194.5 153.2,195.1 153.9,195.4 161.1,195.4 161.9,195.0 162.5,194.0 162.4,189.7 161.9,188.9 158.4,185.7 157.6,185.3 156.6,185.4 156.0,185.8Z" fill="#ed3d84"/>
<path d="M158.1,182.4 158.0,183.3 158.5,184.3 161.0,186.6 162.2,186.9 163.1,186.6 163.7,185.8 164.9,182.5 165.0,181.5 164.7,180.8 164.2,180.3 162.7,179.2 161.6,179.1 159.3,179.9 158.8,180.5Z" fill="#de2d90"/>
<path d="M163.5,193.6 164.0,195.0 165.2,195.5 174.8,195.5 175.7,195.2 176.2,194.7 176.5,193.8 176.4,192.9 172.7,183.2 172.0,182.3 171.3,182.0 167.6,181.6 166.8,181.8 166.1,182.4 163.5,189.2Z" fill="#ff1642"/>
<path d="M175.6,180.9 174.7,181.1 174.1,181.7 173.7,182.6 173.9,183.5 178.0,194.4 179.0,195.3 180.4,195.3 181.5,194.3 183.9,187.5 185.1,183.1 185.0,182.2 184.4,181.3 183.4,180.9Z" fill="#ff7a85"/>
<path d="M184.5,188.7 182.9,193.7 183.1,194.5 183.6,195.1 184.4,195.5 195.3,195.5 196.2,195.3 196.8,194.7 197.2,193.8 197.1,186.1 196.9,185.2 196.0,184.4 194.7,184.3 185.3,187.8Z" fill="#e76d2c"/>
<path d="M185.1,186.8 195.0,183.1 187.1,180.1 186.8,180.6Z" fill="#f0792a"/>
<path d="M198.1,193.6 198.6,194.8 199.9,195.5 226.4,195.5 227.1,195.4 227.7,194.9 228.1,194.3 228.3,193.5 225.7,182.6 224.9,181.4 223.6,181.0 217.8,181.7 211.0,180.0 206.9,181.2 205.8,181.0 199.8,182.2 198.8,182.7 198.1,184.0Z" fill="#ff7527"/>
<path d="M228.6,181.8 227.4,182.5 227.0,183.9 229.5,194.2 230.1,195.1 230.9,195.5 277.8,195.5 279.0,195.1 279.7,194.0 279.7,179.2 279.2,178.1 278.2,177.6 277.1,177.6 263.3,182.8 260.8,179.7 258.2,178.9 256.3,178.0 248.8,179.7 247.5,178.8 246.4,178.7 238.1,180.6 236.8,180.4Z" fill="#f7771d"/></g>
<g clip-path="url(#cc)"><rect x="0" y="190" width="290" height="200" fill="#161616"/><path d="M3.4,195.7 3.4,237.4 4.0,238.1 4.9,238.5 5.6,238.5 14.5,235.5 15.5,234.5 16.0,230.6 15.7,229.9 14.0,228.2 16.6,223.1 16.6,221.8 16.2,221.1 15.5,220.6 11.5,219.9 9.7,217.5 13.5,211.7 20.9,214.2 22.0,214.0 22.9,213.1 24.5,207.9 24.4,205.8 20.4,195.7 19.4,194.6 5.0,194.5 4.1,194.8Z" fill="#f4184f"/>
<path d="M31.5,194.5 23.1,194.6 22.3,195.2 21.9,196.0 21.9,196.7 24.2,202.4 24.7,203.0 25.5,203.4 26.4,203.4 27.1,203.0 32.5,197.8 33.0,196.8 32.8,195.3Z" fill="#eb35de"/>
<path d="M25.7,205.8 35.3,204.8 33.8,197.8Z" fill="#db3ec4"/>
<path d="M34.8,196.4 34.7,197.4 36.2,204.6 36.8,205.3 39.9,207.5 41.1,207.6 43.5,206.6 47.4,208.6 50.1,209.1 51.1,208.7 54.2,205.3 54.4,204.3 53.5,196.0 53.1,195.2 52.4,194.6 36.6,194.5 35.4,195.0Z" fill="#f333dd"/>
<path d="M56.5,194.5 55.3,194.9 54.6,196.2 55.3,203.6 55.8,204.7 56.6,205.2 63.7,206.9 64.8,206.7 66.5,205.4 67.1,204.5 69.1,196.9 69.1,196.0 68.7,195.2 67.5,194.5Z" fill="#a4fa37"/>
<path d="M68.3,203.7 68.4,204.8 69.0,205.7 75.3,209.2 76.5,209.4 77.6,208.7 79.0,207.1 79.2,205.9 76.9,196.0 76.4,195.0 75.2,194.5 72.2,194.5 71.5,194.6 70.8,195.1 70.4,195.9Z" fill="#78e5aa"/>
<path d="M96.2,194.5 79.2,194.6 78.6,195.1 78.2,195.7 78.1,196.5 80.0,205.0 80.6,205.9 81.6,206.4 88.8,207.0 90.1,208.4 95.3,210.4 96.3,210.4 97.2,209.8 98.8,206.2 98.1,196.3 97.4,194.9Z" fill="#68f562"/>
<path d="M99.8,206.7 97.8,211.5 97.9,212.2 98.7,213.8 99.4,214.4 104.1,215.8 104.9,216.7 105.6,217.1 111.6,218.1 112.9,217.7 117.1,213.6 121.4,213.4 122.3,213.1 124.7,210.0 126.6,204.8 124.3,195.4 123.7,194.8 122.7,194.5 101.0,194.5 100.1,194.7 99.3,195.5 99.1,196.3Z" fill="#4aec5d"/>
<path d="M143.3,194.5 126.9,194.6 126.2,195.1 125.8,195.7 125.7,196.5 127.3,203.4 128.1,204.4 136.6,205.9 139.0,208.3 141.1,208.8 142.4,208.5 145.3,205.9 145.6,204.8 145.2,196.3 145.0,195.4 144.4,194.8Z" fill="#b7e048"/>
<path d="M148.1,194.5 146.9,194.9 146.3,196.1 146.7,204.8 147.1,205.5 147.7,205.9 153.7,207.8 154.4,207.8 155.2,207.3 157.9,203.7 164.8,204.7 166.0,204.3 166.7,203.4 169.2,196.5 168.8,195.2 167.5,194.5Z" fill="#709bf0"/>
<path d="M167.3,204.6 167.2,205.7 167.8,207.0 168.4,207.7 169.1,208.0 175.0,208.0 176.3,207.1 176.7,206.2 176.7,205.4 176.4,204.7 172.4,199.0 171.3,198.3 170.2,198.5 169.4,199.2Z" fill="#1d39d8"/>
<path d="M174.1,194.5 173.2,194.7 172.5,195.3 172.2,196.2 172.4,197.1 178.6,206.2 176.4,208.3 176.0,209.5 176.2,215.5 176.7,216.4 177.7,217.3 179.1,217.3 184.4,214.9 185.8,214.8 188.6,212.9 195.5,218.3 196.2,218.6 197.0,218.5 198.0,217.9 199.7,215.5 202.0,214.7 204.6,214.8 205.6,214.4 208.9,209.0 209.1,208.3 208.9,207.4 206.7,204.9 207.1,196.3 206.7,195.3 205.9,194.6Z" fill="#ef2253"/>
<path d="M264.4,203.2 264.5,204.1 265.0,204.8 266.5,205.7 267.3,205.9 274.5,204.0 276.7,204.0 277.5,203.8 278.2,203.2 278.5,202.3 278.5,196.4 278.3,195.5 277.7,194.8 276.8,194.5 267.1,194.5 266.2,194.7 265.6,195.2 265.2,196.0Z" fill="#fe2738"/>
<path d="M237.6,194.5 236.7,194.7 236.0,195.3 235.7,196.2 235.8,197.1 241.2,202.6 242.2,202.8 245.1,202.4 249.3,203.7 252.0,202.6 252.7,201.8 253.7,196.4 253.5,195.5 252.7,194.7 251.8,194.5Z" fill="#fe2738"/>
<path d="M207.7,203.7 208.1,205.0 210.3,207.3 214.0,207.9 214.8,207.5 215.2,206.9 217.5,201.1 226.2,206.1 227.5,206.2 230.2,204.1 234.1,197.1 234.2,195.9 233.6,194.9 232.6,194.5 209.4,194.6 208.5,195.2 208.1,196.1Z" fill="#fe2738"/>
<path d="M216.1,207.4 216.0,208.3 216.2,209.0 216.8,209.7 217.7,210.0 223.4,210.0 224.8,209.2 225.3,208.0 225.1,207.0 224.5,206.3 219.9,203.6 219.0,203.4 218.2,203.5 217.5,204.1Z" fill="#e52147"/>
<path d="M232.1,202.8 231.9,203.9 232.4,205.0 237.0,207.7 238.4,207.9 239.6,207.0 240.4,204.5 240.3,203.4 236.2,199.2 235.2,199.0 234.1,199.4Z" fill="#eb185f"/>
<path d="M254.9,195.9 253.9,202.0 254.3,202.8 257.8,205.4 258.9,205.5 262.5,204.3 263.1,203.8 263.4,203.0 264.1,196.6 263.9,195.5 263.3,194.8 262.4,194.5 256.7,194.5 255.8,194.7Z" fill="#ec1f5b"/>
<path d="M11.7,216.2 11.4,217.1 11.5,217.9 12.4,219.0 19.1,220.2 19.7,220.5 18.6,221.3 15.8,226.8 15.6,227.7 16.0,228.8 16.6,229.4 17.5,229.6 20.6,229.1 21.2,228.8 22.0,227.5 22.1,222.2 21.7,221.1 20.7,220.5 21.6,220.0 22.1,219.3 22.5,217.3 22.1,216.0 21.2,215.4 14.7,213.3 13.9,213.4 13.3,213.8Z" fill="#f52d33"/>
<path d="M30.9,206.2 29.9,206.7 29.3,207.6 29.3,208.7 29.9,209.6 35.8,212.6 36.9,212.5 37.7,212.0 39.1,209.4 39.0,208.5 38.5,207.7 35.6,205.9Z" fill="#b7ff63"/>
<path d="M22.9,228.1 23.5,229.4 26.4,231.5 26.9,233.9 27.9,234.9 33.3,235.2 37.9,231.8 44.0,235.7 45.2,235.8 46.4,235.0 48.8,230.0 48.8,229.1 47.6,224.8 49.0,222.6 49.1,221.3 48.6,220.4 45.1,217.8 44.3,217.6 39.2,218.1 36.5,216.8 36.6,214.9 35.9,213.8 27.3,209.5 26.1,209.3 25.3,209.7 24.8,210.3 23.3,215.2 23.7,218.1 23.1,219.3Z" fill="#b2e952"/>
<path d="M37.6,214.9 37.7,215.6 38.1,216.3 39.4,217.0 43.5,216.7 44.4,216.4 45.1,215.5 46.4,210.9 46.4,209.9 46.1,209.3 45.4,208.7 43.5,207.9 42.8,208.0 40.9,208.8 37.9,213.7Z" fill="#fe8224"/>
<path d="M46.1,215.7 46.0,216.6 46.4,217.4 49.3,219.7 50.1,220.0 51.3,219.9 52.6,218.9 53.6,217.0 53.5,216.0 50.7,211.0 50.2,210.5 49.5,210.1 48.4,210.2 47.4,211.0Z" fill="#ff732c"/>
<path d="M52.2,208.9 51.7,209.9 51.9,211.0 54.3,215.3 55.0,215.9 56.0,216.1 61.0,215.6 61.8,215.1 62.7,213.9 63.4,209.1 63.1,208.2 62.2,207.5 55.4,206.1 54.6,206.5Z" fill="#42ee51"/>
<path d="M64.1,211.8 64.4,213.1 65.4,213.9 72.9,214.5 74.2,213.9 75.3,212.5 75.6,211.6 75.3,210.7 74.7,210.0 68.5,206.6 67.4,206.3 66.4,206.7 64.7,208.2Z" fill="#64a1f3"/>
<path d="M78.0,209.8 77.6,211.0 77.9,212.2 82.5,216.3 83.7,216.7 84.6,216.5 85.3,215.8 88.0,210.5 88.2,209.6 87.8,208.4 86.8,207.8 81.0,207.4 79.8,207.8Z" fill="#59f2a1"/>
<path d="M86.9,214.9 86.6,215.8 87.0,216.8 87.6,217.4 88.7,217.7 96.5,216.3 97.5,215.5 97.8,214.4 97.0,212.6 96.4,211.9 90.6,209.8 89.9,210.0 89.1,210.5Z" fill="#ff8c71"/>
<path d="M124.5,211.8 123.5,213.8 123.7,214.7 124.1,215.7 124.9,216.3 132.3,217.0 133.1,216.5 133.5,215.9 133.8,213.1 137.0,210.1 137.4,209.3 137.3,208.4 136.5,207.3 135.7,206.8 129.0,205.7 128.1,205.8 127.1,206.6 125.5,210.8Z" fill="#53f555"/>
<path d="M134.6,215.3 135.0,216.7 136.3,217.4 137.2,217.2 140.0,216.0 140.6,215.4 142.0,212.7 142.1,211.8 141.6,210.4 141.1,209.9 140.4,209.7 139.5,209.6 138.6,210.0 135.1,213.3 134.7,214.0Z" fill="#30f040"/>
<path d="M145.6,207.1 143.0,209.4 142.8,210.2 143.3,212.3 146.9,216.4 147.6,216.8 148.3,216.9 149.2,216.6 155.5,212.7 156.0,212.2 160.5,216.1 162.2,216.6 163.3,216.4 164.2,215.5 167.1,209.4 167.3,208.5 166.5,206.6 165.7,205.9 159.1,204.9 157.8,205.5 155.1,209.3 146.7,206.7Z" fill="#65edb2"/>
<path d="M167.9,210.0 166.1,214.2 166.3,215.1 167.4,216.1 173.9,215.6 174.7,215.1 175.1,214.1 174.9,210.4 174.5,209.6 173.5,209.1 168.8,209.2Z" fill="#f6264b"/>
<path d="M204.8,236.0 204.6,237.3 206.3,242.9 207.9,244.2 211.7,246.0 212.8,245.8 216.9,242.7 222.9,234.3 226.9,239.3 227.8,239.8 228.7,239.8 232.3,238.9 233.2,238.2 233.5,237.2 233.3,236.3 232.9,235.6 223.3,228.6 224.4,227.1 224.7,226.2 224.4,220.0 223.9,219.0 223.2,218.5 222.1,218.4 216.1,220.3 215.8,215.4 215.2,214.5 214.1,214.1 213.1,214.4 207.9,217.3 207.1,218.2 204.9,226.3 205.3,227.4 207.7,230.0 206.9,232.7Z" fill="#1127ef"/>
<path d="M218.7,211.0 217.6,211.3 216.8,212.4 216.9,216.5 217.2,217.4 217.9,218.1 219.0,218.3 223.7,216.9 225.3,218.0 225.8,226.9 225.5,227.8 225.6,228.7 226.2,229.5 231.5,233.3 232.9,233.4 234.0,232.5 235.4,225.4 243.5,224.3 244.4,223.8 244.8,223.2 245.2,220.2 244.4,216.4 243.8,215.7 239.9,213.0 238.6,212.9 232.3,215.4 228.0,210.3 227.0,209.7 225.9,209.8 223.7,211.0Z" fill="#231dee"/>
<path d="M208.4,211.8 208.2,212.9 208.5,213.8 209.4,214.5 210.5,214.6 214.7,212.3 215.3,211.4 215.3,210.4 214.9,209.6 214.1,209.1 210.9,208.7 209.8,209.4Z" fill="#231dee"/>
<path d="M228.7,206.7 228.0,207.8 228.2,209.1 232.4,213.7 233.1,213.8 233.9,213.7 237.3,212.4 238.1,211.6 238.3,210.4 237.7,209.3 231.7,205.8 230.2,205.7Z" fill="#1d31e0"/>
<path d="M239.8,210.9 240.5,212.2 243.6,214.4 244.6,214.6 245.6,214.2 247.5,212.1 247.8,211.5 248.6,206.1 248.2,204.9 247.5,204.3 245.1,203.5 242.6,203.8 241.9,204.1 241.3,204.9 239.9,209.3Z" fill="#251ee7"/>
<path d="M246.0,215.3 245.5,216.6 246.3,219.9 245.9,223.5 246.2,224.5 246.9,225.2 253.1,228.6 254.6,228.8 255.5,228.2 255.9,227.2 256.4,219.0 264.0,217.0 266.8,220.5 267.4,220.9 268.2,221.1 277.8,217.8 278.5,216.5 278.4,206.4 278.0,205.6 277.2,205.1 274.7,205.0 266.9,207.1 264.2,205.5 263.4,205.3 257.9,206.9 253.9,203.7 253.1,203.5 252.4,203.5 250.6,204.3 249.9,205.0 248.7,212.3Z" fill="#1d21e2"/>
<path d="M49.1,224.2 48.8,225.4 49.6,228.0 50.0,228.8 50.7,229.3 54.1,229.6 54.9,229.5 55.7,228.9 57.1,226.9 57.2,226.2 57.0,225.4 54.0,221.3 53.2,220.8 52.1,220.7 50.9,221.4Z" fill="#1f2bf4"/>
<path d="M54.3,218.1 54.0,219.1 54.3,220.0 58.5,225.5 59.5,225.8 62.6,225.4 63.5,225.1 64.0,224.5 64.2,223.9 64.2,223.0 62.0,217.9 61.3,217.0 60.2,216.7 55.8,217.1 54.9,217.5Z" fill="#79f972"/>
<path d="M71.7,215.4 64.2,214.8 63.3,215.2 62.8,215.9 62.7,216.9 66.2,225.0 67.2,225.9 68.1,226.1 72.1,224.9 72.7,224.2 72.9,223.5 73.2,217.2 72.9,216.2Z" fill="#ee655d"/>
<path d="M75.1,237.1 74.4,238.3 74.7,239.7 79.7,243.1 80.9,243.3 83.7,242.5 85.6,244.6 86.3,245.0 87.3,245.1 97.1,247.6 98.1,247.3 99.5,246.0 104.9,245.9 105.9,245.5 110.2,237.7 110.4,236.8 107.8,228.5 107.3,227.9 104.5,226.0 104.4,218.1 104.1,217.4 103.5,216.7 99.4,215.6 98.3,216.1 97.5,217.2 84.0,219.4 83.5,218.5 78.2,213.7 77.0,213.3 75.7,213.7 74.4,215.5 73.9,223.6 74.5,224.8 75.7,225.4 79.1,234.2Z" fill="#88f383"/>
<path d="M107.6,218.4 106.3,218.6 105.5,219.6 105.4,224.7 106.1,225.9 107.5,226.8 108.3,226.9 109.0,226.7 111.1,225.4 111.7,224.7 111.9,224.0 111.9,220.6 111.6,219.7 110.9,219.1Z" fill="#77ee7c"/>
<path d="M110.0,227.3 109.3,228.0 109.1,229.1 110.7,234.3 111.8,235.3 113.1,235.3 116.2,233.2 116.7,232.5 117.2,227.1 118.4,225.6 118.4,224.2 117.9,223.5 115.8,221.8 114.9,221.5 114.2,221.6 113.4,222.1 113.0,222.9 112.9,225.4Z" fill="#41f449"/>
<path d="M114.8,235.4 114.1,236.4 114.3,237.9 121.0,245.1 122.1,245.3 123.2,244.8 131.6,243.0 136.6,248.0 137.8,248.1 140.8,246.7 141.8,245.6 143.3,239.9 147.6,238.0 148.2,237.3 148.5,236.6 148.4,235.6 145.5,230.5 146.4,223.9 146.8,222.9 147.2,218.9 146.9,218.0 144.5,215.2 143.4,214.7 142.0,215.1 141.0,216.7 135.3,219.1 133.8,218.3 123.6,217.2 122.7,215.2 121.6,214.5 118.2,214.5 117.4,214.8 114.6,217.4 114.4,218.1 114.4,219.1 114.9,219.9 118.2,222.4 120.6,224.6 118.2,227.7 117.8,233.2Z" fill="#89cefe"/>
<path d="M143.0,245.0 143.0,245.9 143.6,246.9 147.5,249.2 148.4,249.3 152.6,248.3 153.2,248.0 154.0,247.1 163.2,245.8 164.0,245.3 164.4,244.7 164.6,243.8 164.4,241.5 161.6,237.0 165.1,229.8 164.9,228.7 162.6,225.3 162.9,218.9 162.2,217.8 160.0,217.0 156.7,214.1 155.8,213.9 155.1,214.1 149.0,217.9 148.3,218.8 147.7,224.2 147.2,225.2 146.6,230.2 150.7,237.7 144.5,240.5 143.9,241.3Z" fill="#8ceffa"/>
<path d="M165.7,217.4 164.7,217.7 164.0,218.8 163.6,224.5 163.9,225.4 165.9,228.3 166.5,228.8 167.2,229.0 173.7,229.4 174.9,229.0 176.7,226.1 177.4,219.3 177.0,218.1 175.9,217.0 174.8,216.6Z" fill="#833ddf"/>
<path d="M177.9,224.2 178.2,225.4 179.2,226.2 181.8,226.5 182.9,226.0 183.4,225.3 185.8,218.8 185.8,217.8 185.4,217.0 184.5,216.4 183.5,216.4 178.9,218.6 178.3,219.7Z" fill="#c5ee5f"/>
<path d="M184.5,225.3 184.4,226.6 185.3,227.6 187.5,228.5 190.1,228.4 191.0,227.8 192.9,225.0 196.0,222.5 196.4,221.6 196.3,220.4 195.7,219.7 189.5,214.9 188.6,214.6 187.8,214.7 187.0,215.3 186.6,216.0 186.6,216.7 187.0,218.5Z" fill="#44ef47"/>
<path d="M197.5,221.1 197.6,222.0 198.4,222.9 202.1,225.0 203.5,224.9 204.2,224.4 204.5,223.7 206.1,218.0 206.0,216.9 205.4,216.2 204.5,215.8 202.2,215.7 200.7,216.2 200.0,216.8 197.8,219.9Z" fill="#924ce9"/>
<path d="M257.0,225.8 257.2,226.7 257.9,227.5 258.8,227.8 259.7,227.6 265.9,223.8 266.4,222.8 266.4,221.7 264.2,219.0 263.3,218.4 262.4,218.4 258.3,219.5 257.7,220.0 257.3,220.8Z" fill="#1318f5"/>
<path d="M266.4,233.9 266.3,235.0 266.7,235.8 267.7,236.4 268.6,236.4 278.1,231.1 278.5,229.8 278.5,221.4 278.4,220.6 277.8,219.9 276.9,219.5 276.2,219.5 269.2,221.9 268.3,222.5 267.9,223.1 267.9,224.1 269.0,226.6Z" fill="#2b21e2"/>
<path d="M268.6,254.9 267.4,255.4 266.8,256.5 267.0,260.5 267.4,261.4 275.8,266.7 276.8,266.9 277.8,266.4 278.3,265.9 278.5,265.0 278.5,256.2 278.1,255.0 277.4,254.4 276.7,254.3Z" fill="#2b21e2"/>
<path d="M16.5,234.3 16.6,235.2 17.1,236.0 19.3,237.9 20.3,238.2 24.5,237.5 25.2,236.9 26.0,235.2 25.7,232.9 25.3,232.0 22.9,230.3 22.1,230.0 18.5,230.5 17.7,230.8 17.0,231.7Z" fill="#ea314a"/>
<path d="M47.7,234.6 47.6,236.1 48.2,236.8 48.8,237.2 55.1,237.5 55.9,237.2 56.5,236.5 57.0,233.5 56.6,232.6 54.9,230.8 50.7,230.4 49.5,231.1Z" fill="#eaf3c6"/>
<path d="M58.3,227.4 56.5,229.6 56.5,230.6 56.8,231.2 58.1,232.9 57.8,235.4 58.3,236.6 59.1,237.1 62.6,238.4 63.5,238.4 64.4,237.9 66.0,235.8 66.3,235.1 65.8,231.8 66.7,227.9 66.2,226.8 65.5,226.2 64.7,226.1 59.1,226.9Z" fill="#42f849"/>
<path d="M66.8,231.7 67.5,234.9 68.0,235.5 72.2,237.5 73.3,237.2 77.0,234.5 77.4,233.6 77.4,232.7 75.2,227.0 74.7,226.2 73.8,225.8 73.1,225.8 68.8,227.0 68.1,227.5 67.7,228.3Z" fill="#e929d1"/>
<path d="M163.2,236.0 163.1,237.4 164.1,239.1 165.0,239.8 166.2,239.8 174.1,234.1 174.6,233.0 174.5,231.6 173.8,230.7 173.0,230.4 167.5,230.0 166.6,230.2 165.8,230.9Z" fill="#fa2c3a"/>
<path d="M175.6,232.9 175.9,233.8 176.7,234.5 183.8,237.1 185.2,240.0 186.0,240.7 187.5,240.8 189.5,239.8 190.2,239.0 190.4,238.0 189.7,231.1 189.3,230.2 188.6,229.7 187.2,229.6 183.0,227.7 177.9,227.2 177.0,227.8 175.6,229.9 175.5,230.6Z" fill="#eefbd2"/>
<path d="M194.0,231.4 193.2,231.0 192.1,231.2 191.3,231.7 190.9,232.7 191.4,238.1 192.0,239.0 193.0,239.4 193.9,239.3 197.5,237.5 198.1,236.8 198.3,236.1 198.2,235.2 197.8,234.6Z" fill="#eaebc6"/>
<path d="M192.8,226.9 192.4,228.2 193.0,229.3 201.0,235.8 202.6,236.0 203.7,235.7 206.0,232.2 206.3,230.9 206.2,230.1 204.1,227.5 197.6,223.6 196.7,223.5 196.0,223.8 193.7,225.6Z" fill="#9029e7"/>
<path d="M234.9,233.3 235.2,234.8 236.4,235.6 240.7,234.9 241.6,234.5 242.2,233.6 244.0,227.8 243.9,226.8 243.6,226.2 243.0,225.7 242.1,225.5 237.4,226.1 236.6,226.6 236.0,227.5Z" fill="#302be0"/>
<path d="M243.2,233.7 243.1,234.6 243.6,235.5 246.8,238.1 247.6,238.5 248.8,238.3 255.9,234.6 256.5,234.1 260.1,236.8 263.3,237.1 264.1,236.7 264.6,235.9 267.4,228.0 267.5,226.9 267.0,226.1 266.4,225.6 265.0,225.6 257.0,230.4 256.2,231.4 247.7,226.8 246.3,226.6 245.6,227.0 245.1,227.7Z" fill="#3717e5"/>
<path d="M4.6,239.9 3.7,240.5 3.3,241.5 3.3,248.2 3.7,249.2 14.0,254.9 15.1,255.0 15.9,254.6 16.5,253.9 17.8,250.8 16.6,244.4 18.6,239.9 18.6,239.2 18.2,238.3 16.2,236.6 15.1,236.4Z" fill="#1d23f5"/>
<path d="M17.9,244.1 17.7,245.0 18.4,248.1 19.1,249.3 20.0,249.6 20.8,249.5 24.9,251.3 26.0,251.2 26.7,250.6 27.1,249.7 27.0,248.6 24.9,246.5 24.7,245.9 25.3,240.6 25.1,239.9 24.6,239.2 23.4,238.8 20.9,239.2 20.2,239.5 19.6,240.3Z" fill="#e89770"/>
<path d="M25.8,244.9 26.2,246.3 28.3,248.3 29.3,248.5 32.1,248.4 32.8,247.8 35.6,244.5 42.8,244.2 43.8,243.8 44.4,242.7 45.1,239.0 45.0,238.1 44.3,237.0 39.1,233.7 38.2,233.4 37.0,233.7 33.7,236.4 27.4,236.1 26.5,236.7 25.9,237.9 25.9,238.8 26.4,240.0Z" fill="#84ef80"/>
<path d="M42.9,256.2 42.8,257.1 43.2,258.1 44.6,259.3 45.9,259.6 46.7,259.2 52.7,254.7 53.0,253.8 52.9,252.7 49.3,247.8 55.3,245.0 56.2,244.2 56.4,242.8 55.5,239.7 54.9,238.9 53.8,238.5 47.7,238.3 46.9,238.5 46.2,239.1 45.2,244.2 46.4,247.0 45.7,247.9Z" fill="#ee3ce4"/>
<path d="M59.2,238.2 57.8,238.3 56.8,239.4 56.7,240.3 57.5,243.1 58.0,243.9 58.6,244.3 60.9,244.6 61.6,244.5 62.3,244.2 62.8,243.4 63.2,241.0 63.1,240.3 62.3,239.3Z" fill="#f6f2d0"/>
<path d="M63.5,245.1 63.0,246.2 63.0,250.1 63.3,251.0 67.1,255.3 67.9,256.6 68.5,257.0 69.3,257.1 71.9,256.5 75.5,253.3 75.8,252.0 74.8,248.2 77.6,245.6 78.1,244.3 77.6,242.9 72.3,239.5 71.5,238.4 68.3,236.7 67.6,236.6 66.3,237.1 64.5,239.5Z" fill="#9417f7"/>
<path d="M107.7,244.5 107.5,245.8 108.1,246.8 115.4,251.1 116.1,251.0 116.9,250.6 119.8,248.1 120.3,247.1 120.2,246.2 119.9,245.5 113.7,238.7 112.6,238.0 111.5,238.2 110.8,238.7Z" fill="#84ef90"/>
<path d="M165.7,244.7 166.0,245.6 166.7,246.2 170.6,247.4 174.6,254.0 175.3,254.6 176.0,254.8 183.1,254.7 184.1,254.3 184.8,253.4 187.0,245.9 186.8,245.0 185.1,242.3 183.0,238.0 175.2,235.1 173.9,235.5 166.0,241.3 165.5,242.3Z" fill="#8ef983"/>
<path d="M188.3,241.5 187.5,242.1 187.2,243.2 187.4,244.1 188.2,245.3 191.8,247.9 193.3,247.7 194.3,247.2 194.7,246.3 194.7,245.4 193.3,241.5 192.8,240.8 191.9,240.3 191.0,240.3Z" fill="#fd9d78"/>
<path d="M195.4,239.6 194.6,240.6 194.4,241.8 196.1,246.3 197.2,247.3 197.9,247.4 198.8,247.1 204.1,243.6 204.7,242.7 204.8,241.8 203.8,238.2 203.4,237.5 202.5,237.1 200.6,237.1Z" fill="#e389fe"/>
<path d="M219.6,240.5 219.3,241.4 219.4,242.4 222.6,246.8 223.9,247.5 225.3,247.0 225.9,245.6 225.3,241.5 225.7,240.8 225.8,240.1 225.5,239.2 224.5,237.9 223.4,237.2 222.1,237.4 221.6,237.8Z" fill="#ec2de2"/>
<path d="M228.0,241.0 226.9,241.7 226.5,242.8 227.4,248.4 227.8,249.3 228.5,249.9 229.2,250.0 233.5,250.3 234.5,249.9 235.2,249.0 235.3,248.0 233.2,240.9 232.5,240.3 231.6,240.2Z" fill="#7b2beb"/>
<path d="M234.1,238.6 234.0,239.8 236.6,248.8 235.2,251.3 235.7,255.5 236.9,256.4 242.3,258.1 243.5,257.9 244.2,257.3 246.0,254.6 246.3,247.1 246.6,246.3 247.1,240.7 246.9,239.8 246.4,239.0 242.8,236.2 241.8,235.8 235.4,236.9 234.6,237.5Z" fill="#fb811c"/>
<path d="M247.1,253.4 247.2,254.3 247.8,255.0 253.0,257.8 253.8,257.8 254.5,257.5 256.6,255.3 256.9,254.2 256.5,253.4 251.9,248.6 256.7,244.9 257.3,244.1 259.1,238.3 258.7,237.1 257.4,236.0 256.6,235.7 255.7,235.8 249.1,239.3 248.3,240.1 247.3,248.0Z" fill="#8d2ee2"/>
<path d="M255.1,247.4 254.4,248.5 254.6,249.9 258.0,253.4 258.9,253.9 266.1,254.1 276.7,253.3 277.8,252.9 278.5,251.7 278.5,245.7 278.1,244.7 277.3,244.1 276.3,244.0 267.5,238.1 264.3,238.4 261.5,238.1 260.5,238.5 259.9,239.4 258.0,245.1Z" fill="#df40ee"/>
<path d="M271.3,236.1 270.7,236.7 270.4,237.6 270.5,238.5 271.0,239.2 275.9,242.5 277.0,242.6 278.1,241.9 278.5,240.9 278.5,235.3 278.4,234.6 277.8,233.8 277.0,233.4 276.0,233.5Z" fill="#ef2fe5"/>
<path d="M17.2,254.7 17.1,256.2 18.0,257.2 21.2,257.6 23.4,257.5 24.2,257.1 24.7,256.5 25.3,253.7 25.0,252.9 24.4,252.2 21.3,250.8 20.4,250.8 19.2,251.2 18.6,251.7Z" fill="#f39872"/>
<path d="M25.7,257.2 25.7,258.1 28.1,266.0 28.7,266.5 29.5,266.7 34.0,266.1 38.3,274.7 39.2,275.5 40.8,275.9 41.8,275.5 48.9,267.2 49.0,266.3 48.6,265.3 46.5,263.8 44.9,261.0 41.3,257.7 44.8,247.5 44.7,246.3 43.8,245.4 42.9,245.2 36.5,245.5 35.6,246.0 32.7,249.5 29.5,249.5 28.6,249.8 26.6,252.7Z" fill="#50ed4e"/>
<path d="M52.9,247.2 52.0,248.1 51.9,249.5 54.6,253.4 55.4,254.0 57.1,259.3 57.6,260.1 58.4,260.6 59.2,260.6 65.6,259.7 66.5,259.1 67.0,257.8 66.4,256.0 62.1,251.3 62.0,247.3 61.5,246.1 60.6,245.6 57.4,245.2Z" fill="#7ef387"/>
<path d="M76.8,247.7 76.2,248.5 76.2,249.4 76.7,251.8 77.4,252.7 82.4,254.2 83.3,254.0 84.0,253.4 84.4,252.6 85.3,246.3 85.0,245.4 83.9,244.2 82.6,243.9 80.5,244.4Z" fill="#ef712a"/>
<path d="M86.2,253.6 84.9,254.2 84.4,255.6 85.4,259.3 86.4,260.3 87.3,260.3 95.0,259.2 95.8,258.8 96.7,257.6 96.9,256.9 96.6,254.4 96.1,253.6 95.4,253.1Z" fill="#51f3e9"/>
<path d="M86.3,247.2 85.7,251.1 86.2,251.9 86.8,252.3 87.7,252.5 95.4,252.0 96.5,251.2 96.8,250.1 96.5,249.1 95.6,248.3 87.9,246.3 87.0,246.6Z" fill="#49daea"/>
<path d="M97.8,256.0 98.2,257.0 99.2,257.6 103.4,258.7 104.3,258.5 105.0,258.0 105.4,256.8 105.2,248.8 105.1,248.1 104.5,247.4 103.5,246.9 100.3,247.0 99.5,247.4 98.5,248.4 98.1,249.0 97.4,252.3Z" fill="#9f33ef"/>
<path d="M107.0,260.0 107.6,262.1 108.3,262.9 117.7,266.2 118.5,269.2 119.4,269.9 120.3,270.1 122.1,270.0 122.9,269.6 129.6,264.0 135.1,267.3 135.9,267.4 136.8,267.2 137.7,266.1 139.4,259.1 139.0,258.0 135.3,253.4 136.1,250.1 135.8,248.8 131.9,244.7 130.7,244.2 123.5,245.8 122.1,246.9 121.6,247.9 116.0,252.7 109.0,248.5 108.1,248.4 107.0,248.7 106.5,249.4 106.2,250.3 106.4,258.8Z" fill="#97eb84"/>
<path d="M137.1,250.2 136.6,253.0 136.9,253.7 139.7,257.3 140.5,257.8 141.4,258.0 144.6,257.5 145.7,256.8 146.0,256.1 147.1,250.8 146.7,250.0 146.1,249.5 142.7,247.6 141.6,247.5 137.6,249.4Z" fill="#f59c75"/>
<path d="M147.1,255.4 147.3,256.7 148.4,257.7 152.9,258.3 154.2,257.8 154.7,257.0 154.8,256.1 153.5,251.0 153.1,250.2 152.3,249.7 151.6,249.6 149.3,250.1 148.6,250.5 148.1,251.3Z" fill="#7fec84"/>
<path d="M155.9,247.8 154.6,248.6 154.2,249.8 156.2,257.1 157.0,257.7 158.0,257.8 162.0,256.4 162.7,255.5 164.4,249.3 164.5,248.4 164.2,247.7 163.5,247.1 162.5,246.9Z" fill="#f29d81"/>
<path d="M173.5,276.4 176.7,281.3 177.6,281.7 184.4,282.5 185.1,282.2 185.8,281.5 186.3,279.2 186.1,278.1 185.3,277.3 184.4,277.1 182.4,277.3 178.6,270.0 178.1,269.4 177.2,269.1 176.3,269.2 175.4,269.9 173.3,275.3Z" fill="#9d2bed"/>
<path d="M156.4,265.3 156.9,266.6 158.2,267.2 163.2,266.9 171.8,267.5 172.7,267.2 173.2,266.7 173.6,265.9 173.6,265.0 171.3,260.7 173.8,256.1 173.9,255.1 169.9,248.3 167.4,247.6 166.5,247.8 165.9,248.3 163.2,257.0 157.5,259.1 156.7,259.9 156.5,260.8Z" fill="#9d2bed"/>
<path d="M185.4,254.5 185.5,255.7 186.5,256.8 187.8,256.9 194.0,259.2 195.1,259.1 197.6,257.2 198.2,256.2 197.4,249.4 196.8,248.6 195.9,248.3 191.6,249.1 189.6,247.7 188.2,247.8 187.2,248.8Z" fill="#2231ed"/>
<path d="M198.3,248.6 199.3,256.5 200.9,256.5 207.0,244.8 205.7,243.8Z" fill="#9735fb"/>
<path d="M202.6,255.5 212.2,250.1 211.6,247.2 207.8,245.3Z" fill="#962de6"/>
<path d="M205.0,255.3 204.2,256.2 204.1,257.5 204.9,258.5 206.1,258.8 212.4,258.1 213.2,257.3 214.1,255.3 214.2,254.6 213.1,252.3 212.5,251.9 211.5,251.7Z" fill="#66f667"/>
<path d="M213.6,246.4 213.0,247.1 212.8,247.8 213.2,250.1 214.9,253.4 215.6,254.1 216.3,254.3 221.0,254.6 221.7,254.1 223.7,251.9 223.9,251.0 223.7,250.0 219.6,244.4 218.9,243.8 218.0,243.6 217.3,243.8Z" fill="#f33fe0"/>
<path d="M223.3,253.8 222.9,254.8 223.0,255.8 223.9,256.8 224.9,257.2 231.8,257.1 233.9,255.8 234.5,254.6 234.2,252.2 233.5,251.5 232.6,251.2 227.0,251.0 225.3,251.6Z" fill="#9a43f4"/>
<path d="M6.1,251.7 5.2,251.5 4.3,251.7 3.6,252.4 3.3,253.2 3.3,265.0 3.9,266.2 5.1,266.7 6.2,266.4 14.4,261.5 15.0,260.8 15.8,258.3 15.6,257.4 14.9,256.5Z" fill="#72f4ba"/>
<path d="M16.0,260.8 16.1,262.1 18.4,266.2 20.5,267.3 21.4,267.2 22.2,266.7 22.6,266.1 22.6,265.2 21.3,259.9 20.7,259.0 19.8,258.5 17.4,258.5 16.6,259.2Z" fill="#52e2f3"/>
<path d="M22.0,258.6 24.8,269.6 27.3,267.3 24.8,258.4Z" fill="#69ecea"/>
<path d="M52.6,256.1 46.9,260.5 46.6,261.2 46.7,262.0 47.1,262.8 50.7,265.3 51.6,265.7 52.6,265.5 54.8,264.0 56.5,261.4 56.4,260.5 55.3,257.0 54.7,256.2 53.9,255.8Z" fill="#ce98ee"/>
<path d="M58.4,261.7 57.5,262.2 56.9,262.9 56.9,264.0 57.4,265.0 62.4,268.2 63.4,268.3 64.4,267.8 64.9,267.1 66.2,263.2 66.2,262.3 65.7,261.5 65.0,261.0 64.2,260.9Z" fill="#ed947e"/>
<path d="M67.8,259.3 67.6,260.2 68.0,261.3 71.9,264.6 72.6,264.8 75.6,264.6 76.2,264.3 76.8,263.5 77.0,262.6 76.6,261.6 72.2,257.9 71.2,257.7 68.9,258.3 68.2,258.7Z" fill="#b6f74c"/>
<path d="M74.5,255.6 73.8,256.8 74.2,258.2 80.4,263.5 81.4,263.7 82.4,263.5 84.4,261.6 84.6,260.2 83.5,256.4 82.8,255.4 77.1,253.9 76.1,254.2Z" fill="#ea8aee"/>
<path d="M89.0,261.1 87.7,261.9 87.4,263.3 87.8,264.1 90.0,266.6 93.8,267.9 94.7,267.7 95.4,267.2 96.0,266.4 96.1,265.6 95.5,261.9 94.9,260.9 93.6,260.4Z" fill="#ff977f"/>
<path d="M96.8,259.1 96.3,260.5 97.0,265.0 97.4,265.8 98.2,266.3 103.1,267.9 104.0,267.8 104.8,267.4 106.6,263.3 106.4,261.5 106.0,260.7 105.0,260.2 98.5,258.5 97.6,258.6Z" fill="#65e4f3"/>
<path d="M139.2,264.2 139.4,265.6 140.6,266.5 145.2,267.0 146.3,266.7 147.0,265.8 147.1,264.9 145.8,259.4 145.3,258.9 144.4,258.6 141.6,258.9 141.0,259.2 140.3,260.1Z" fill="#fa9275"/>
<path d="M154.0,259.5 148.7,258.9 148.0,259.2 147.5,259.8 147.3,260.6 148.7,266.7 149.4,267.3 150.3,267.5 154.7,266.3 155.2,265.8 155.4,265.0 155.5,261.2 155.2,260.3Z" fill="#b6f6ad"/>
<path d="M174.7,256.6 172.7,260.5 172.8,261.5 175.5,266.5 176.4,267.2 177.7,267.3 181.0,266.2 181.7,265.6 184.6,258.9 184.7,257.9 184.1,256.8 182.3,255.7 175.8,255.8Z" fill="#d285e9"/>
<path d="M183.6,263.9 183.5,265.4 184.6,266.4 192.1,267.8 192.9,267.5 193.6,266.6 194.7,263.2 194.6,261.3 194.3,260.7 193.6,260.1 188.0,258.0 186.9,258.0 186.2,258.3 185.7,258.9Z" fill="#973af0"/>
<path d="M194.5,273.9 195.1,275.0 196.5,275.5 204.4,273.9 205.1,273.5 205.5,272.8 206.0,270.6 208.1,268.0 208.3,267.0 208.0,266.1 204.6,262.8 204.3,260.4 204.0,259.8 201.0,257.6 199.5,257.5 198.8,257.7 196.1,259.7 195.7,260.4 195.8,263.0 193.9,268.9Z" fill="#db78e1"/>
<path d="M211.1,259.3 206.6,259.9 205.9,260.5 205.6,261.2 205.7,262.1 206.2,262.9 208.8,265.6 209.6,266.0 210.4,266.1 212.8,264.9 213.4,263.6 213.0,260.8 212.5,259.9Z" fill="#57e35f"/>
<path d="M213.9,258.2 213.8,259.2 214.5,264.4 215.0,265.2 217.3,266.8 218.1,267.1 221.0,267.3 224.2,266.4 225.0,265.8 225.4,264.4 223.7,258.3 223.4,257.7 221.5,255.9 220.6,255.6 215.9,255.4 214.9,256.1Z" fill="#38ea33"/>
<path d="M227.2,258.2 225.9,258.7 225.3,260.0 226.6,265.2 227.1,266.0 229.1,267.4 230.1,267.6 234.3,266.7 235.1,266.2 235.6,264.9 235.5,259.2 234.9,258.1 233.6,257.6 232.1,258.1Z" fill="#fb6f3c"/>
<path d="M238.9,258.1 237.5,258.2 236.5,259.4 236.6,265.6 237.2,266.8 239.9,268.3 241.7,268.4 242.7,268.0 245.7,263.8 251.3,263.0 252.1,262.5 252.5,261.7 252.7,259.9 252.2,258.9 251.2,257.9 247.8,256.2 246.9,256.1 246.1,256.5 243.8,259.6Z" fill="#d37df7"/>
<path d="M253.4,262.2 253.8,263.6 255.8,265.4 256.8,265.7 257.8,265.5 265.6,261.1 266.0,260.0 265.6,256.1 265.0,255.4 264.2,255.0 259.3,254.9 258.4,255.1 254.0,259.5Z" fill="#8f1df5"/>
<path d="M14.4,271.9 17.0,275.7 13.8,277.3 13.3,278.1 13.3,279.2 14.1,280.3 16.2,281.0 15.4,284.0 15.5,284.9 16.0,285.7 18.7,287.8 15.8,294.6 15.7,295.4 16.0,296.3 16.8,297.0 17.9,297.2 23.7,295.2 29.1,297.6 30.0,297.7 30.7,297.4 32.6,295.6 32.9,294.9 32.9,293.9 30.9,290.5 24.8,285.7 24.5,285.2 25.3,280.4 25.0,279.4 23.5,277.6 23.9,272.0 23.7,271.0 23.0,270.2 17.6,266.9 15.8,263.7 15.0,263.1 14.3,263.0 13.4,263.3 7.4,266.9 6.8,267.6 6.6,268.5 6.9,269.4 7.7,270.1Z" fill="#5ff36f"/>
<path d="M5.6,294.7 4.7,294.8 4.0,295.1 3.4,295.9 3.3,296.6 3.3,305.9 4.0,307.0 5.2,307.4 13.1,304.3 14.6,303.2 15.3,302.1 15.8,298.5 15.5,297.4 14.5,296.6Z" fill="#5ff36f"/>
<path d="M5.7,270.7 4.3,270.8 3.6,271.5 3.3,272.1 3.3,277.5 3.6,278.4 4.3,279.0 5.3,279.2 8.6,278.7 13.6,276.3 14.4,275.5 14.6,274.8 14.6,274.0 14.1,273.2 13.5,272.7Z" fill="#34ea3d"/>
<path d="M24.6,276.5 24.8,277.6 26.4,279.7 25.7,284.1 26.0,285.2 30.2,288.6 31.1,288.8 32.0,288.5 34.8,285.5 35.2,284.7 35.2,283.8 34.0,278.6 36.8,276.7 37.3,275.6 37.1,274.5 33.8,267.9 32.4,267.3 28.5,267.9 27.8,268.2 25.5,270.3 24.9,271.4Z" fill="#56f368"/>
<path d="M45.3,273.0 44.9,273.8 45.0,274.9 45.5,275.7 46.3,276.1 52.3,276.4 53.3,275.9 53.9,275.0 53.8,274.1 52.5,269.0 52.0,268.2 51.1,267.8 50.2,267.8 49.4,268.3Z" fill="#6cf47f"/>
<path d="M54.0,265.8 53.3,266.7 53.2,267.7 55.0,274.4 55.6,275.3 56.3,275.6 57.2,275.6 62.9,274.2 63.8,273.5 64.1,272.1 63.9,270.9 63.3,270.1 56.1,265.4 55.0,265.3Z" fill="#7af160"/>
<path d="M66.7,264.7 64.9,270.4 65.2,272.7 66.1,273.9 67.4,274.1 70.7,273.0 71.3,272.3 71.4,271.5 71.4,266.2 71.0,265.2 69.1,263.7 68.1,263.6 67.3,264.0Z" fill="#f02297"/>
<path d="M74.2,265.7 73.1,266.1 72.5,267.0 72.4,271.6 72.7,272.5 73.2,273.0 75.0,273.4 75.9,273.1 76.5,272.5 78.4,268.2 78.5,267.3 78.2,266.3 77.3,265.7Z" fill="#ef4f8a"/>
<path d="M77.3,273.1 77.2,274.4 78.1,275.8 78.3,281.8 78.6,282.7 79.7,283.6 82.2,284.0 83.2,283.8 84.1,282.8 86.1,275.4 83.5,267.2 82.9,266.3 81.5,265.9 80.3,266.6Z" fill="#ff5582"/>
<path d="M87.9,265.7 86.9,265.1 85.8,265.2 85.1,265.7 84.6,266.7 84.7,267.6 86.6,273.3 87.1,273.9 87.8,274.2 91.9,275.3 93.1,275.1 93.7,274.6 94.1,273.7 94.3,270.4 94.1,269.6 93.1,268.7 89.7,267.7Z" fill="#f48334"/>
<path d="M95.4,269.1 95.1,275.9 95.5,276.5 96.6,277.1 103.3,276.6 104.0,276.0 105.0,274.0 104.3,269.8 103.5,269.0 98.2,267.3 97.3,267.3 96.6,267.5Z" fill="#ec783b"/>
<path d="M105.8,272.1 106.3,273.1 107.5,273.7 116.1,272.9 117.0,272.2 117.7,270.8 117.1,267.8 116.5,267.0 115.9,266.6 109.1,264.3 107.9,264.3 106.9,265.2 105.5,268.7Z" fill="#ff3190"/>
<path d="M117.8,272.8 117.6,274.2 117.9,275.1 118.5,275.8 123.4,278.4 124.5,278.3 125.4,277.6 126.0,274.8 125.9,273.8 125.4,273.0 123.0,271.2 122.1,271.0 119.2,271.2 118.5,271.7Z" fill="#76abf4"/>
<path d="M125.4,268.9 124.8,269.8 124.9,271.1 125.5,271.8 127.0,272.8 134.0,272.4 135.0,271.9 135.4,270.9 135.5,269.4 134.9,268.4 130.2,265.6 128.8,265.9Z" fill="#8237e2"/>
<path d="M126.2,279.2 126.8,279.5 136.0,275.3 135.4,273.4 127.2,273.8Z" fill="#972dfd"/>
<path d="M137.2,268.2 136.6,269.3 136.3,272.8 137.1,275.3 138.0,276.1 139.1,276.3 146.2,274.3 146.9,273.9 147.4,273.2 148.2,269.9 147.9,269.0 147.2,268.3 138.9,267.4 138.0,267.6Z" fill="#da36e6"/>
<path d="M148.4,273.4 148.7,274.8 151.3,278.1 152.6,278.5 155.1,278.0 156.7,276.1 157.0,275.3 156.7,269.3 156.4,268.4 155.7,267.7 154.8,267.5 150.1,268.7 149.3,269.7Z" fill="#c8ff6c"/>
<path d="M159.6,268.1 158.4,268.7 157.8,269.8 158.0,274.3 158.4,275.2 159.3,275.9 163.4,276.9 164.2,276.9 165.9,276.2 166.6,275.3 166.5,274.2 163.5,268.8 162.2,268.1Z" fill="#c3fa70"/>
<path d="M167.7,268.2 166.3,268.7 165.7,269.8 165.8,270.9 167.0,272.9 168.3,274.7 168.9,275.1 170.9,275.3 171.8,275.0 172.5,274.3 173.9,270.9 174.0,270.2 173.8,269.4 173.3,268.9 172.4,268.5Z" fill="#202adf"/>
<path d="M178.7,268.0 183.0,276.3 186.8,275.9 181.8,266.9Z" fill="#9039e8"/>
<path d="M187.8,276.6 186.5,283.2 187.9,285.9 195.4,286.0 196.3,285.2 195.5,276.6 194.0,275.5Z" fill="#9039e8"/>
<path d="M187.2,268.0 186.2,268.0 185.6,268.4 185.0,269.1 184.9,269.9 185.1,270.8 187.4,274.7 188.1,275.2 189.0,275.4 192.0,274.9 192.8,274.4 193.2,273.8 193.4,273.0 193.1,270.3 192.7,269.5 191.8,268.9Z" fill="#ffe43f"/>
<path d="M206.5,273.0 206.8,274.4 208.6,276.1 211.6,276.7 212.6,276.4 213.4,275.6 216.4,269.0 216.5,268.2 216.2,267.4 214.8,266.2 213.7,265.9 210.2,267.4 207.1,270.8Z" fill="#f92783"/>
<path d="M217.4,269.4 214.1,276.8 214.2,277.7 214.7,278.3 215.4,278.7 220.2,279.3 220.9,279.2 221.7,278.7 222.1,277.8 222.1,277.1 220.6,270.0 220.0,269.1 218.6,268.7Z" fill="#ff298f"/>
<path d="M223.0,267.8 221.9,268.5 221.6,269.6 223.1,276.6 224.0,277.3 224.9,277.4 228.6,276.2 229.2,275.6 229.4,274.7 229.1,269.5 228.8,268.6 227.2,267.3 226.3,267.0Z" fill="#e93b86"/>
<path d="M231.6,268.3 230.7,268.9 230.2,269.9 230.5,275.6 231.0,276.4 232.3,277.3 233.7,277.6 234.3,277.3 235.0,276.6 238.4,270.6 238.5,269.5 237.8,268.4 236.1,267.5Z" fill="#84eda9"/>
<path d="M235.4,277.8 235.2,278.9 235.5,279.8 236.4,280.5 237.5,280.6 244.2,276.0 244.6,275.2 244.6,274.2 243.2,270.6 242.7,269.9 242.0,269.5 241.1,269.4 239.8,270.1Z" fill="#ff4d98"/>
<path d="M244.8,266.9 244.5,267.8 244.6,268.7 245.3,269.6 246.2,269.9 254.6,269.8 255.5,269.3 256.1,268.1 256.0,267.2 255.6,266.6 253.1,264.4 252.1,264.0 246.6,264.8 245.9,265.3Z" fill="#46ed4e"/>
<path d="M246.1,275.3 246.8,276.2 247.9,276.5 255.3,274.9 256.1,274.5 256.5,273.9 256.5,272.2 255.9,271.3 254.8,270.9 246.6,271.0 245.7,271.6 245.3,272.6 245.3,273.3Z" fill="#6ff767"/>
<path d="M239.5,280.6 238.9,281.3 238.7,282.0 239.1,283.4 240.8,284.3 246.3,289.4 247.0,289.7 247.9,289.7 249.7,288.6 250.0,287.9 250.0,287.0 247.5,281.3 247.5,278.2 246.8,277.1 245.8,276.7 244.8,276.8Z" fill="#6ff767"/>
<path d="M223.8,278.8 222.9,279.4 222.5,280.4 223.3,283.8 223.9,284.5 227.6,286.6 228.7,286.7 233.5,285.5 234.2,284.9 235.1,283.3 235.2,282.0 233.8,279.6 230.3,277.3 229.3,277.2Z" fill="#6ff767"/>
<path d="M258.1,266.5 257.3,267.3 257.1,268.2 257.1,270.3 258.0,274.6 258.8,275.5 259.5,275.9 261.7,276.5 262.8,276.3 263.4,275.9 263.8,275.1 265.9,265.8 265.7,264.5 264.8,263.6 263.5,263.6Z" fill="#68e66a"/>
<path d="M265.2,273.2 265.2,274.2 265.7,275.0 266.5,275.5 267.4,275.5 277.5,272.6 278.4,271.7 278.5,270.2 278.2,269.5 277.6,269.0 269.7,264.1 268.4,264.0 267.6,264.4 267.0,265.2Z" fill="#fb2043"/>
<path d="M4.9,280.3 3.8,280.8 3.3,282.0 3.6,283.3 4.6,284.1 9.1,285.4 13.3,284.9 14.1,284.4 14.4,283.7 14.6,282.9 14.4,282.2 13.4,281.2 8.6,279.8Z" fill="#6bf877"/>
<path d="M36.2,278.3 35.6,279.0 35.4,280.1 36.3,284.1 36.8,285.0 38.0,286.3 38.9,286.6 42.0,286.4 42.9,286.0 43.5,285.0 43.5,283.9 40.6,277.4 39.8,276.9 38.7,276.8Z" fill="#fa9b58"/>
<path d="M52.5,277.5 43.9,277.1 43.1,277.6 42.6,278.4 42.6,279.2 45.7,286.3 46.5,286.7 49.0,287.3 52.6,286.4 53.8,285.6 54.3,284.6 54.3,279.4 54.1,278.5 53.7,277.9Z" fill="#57efa8"/>
<path d="M65.0,291.3 63.7,290.8 62.3,291.3 61.9,292.1 61.3,295.0 61.5,295.8 62.0,296.6 64.3,297.8 65.7,297.4 67.4,296.1 67.8,295.1 67.5,293.8Z" fill="#9d33f2"/>
<path d="M56.7,276.8 55.7,277.4 55.3,278.4 55.3,284.1 55.5,284.8 56.0,285.4 61.2,287.5 62.1,287.6 63.1,287.2 66.8,284.0 67.1,282.8 66.1,276.5 65.3,275.3 63.9,274.9Z" fill="#9d33f2"/>
<path d="M68.5,274.8 67.5,275.5 67.1,276.6 68.0,282.3 68.4,283.1 69.3,283.8 74.5,285.0 75.4,285.0 76.2,284.6 77.1,283.8 77.4,282.9 77.2,276.6 76.8,275.7 75.7,274.7 72.2,273.9Z" fill="#f64f98"/>
<path d="M85.0,283.2 84.9,284.2 85.4,285.0 87.9,286.7 89.0,286.9 91.3,286.3 92.0,285.5 94.4,279.2 94.5,278.4 94.2,277.6 93.3,276.8 89.2,275.5 87.7,275.6 86.8,276.6Z" fill="#88f1b6"/>
<path d="M93.2,285.1 93.1,286.0 93.5,286.9 94.4,287.5 95.3,287.6 104.7,285.2 105.5,284.5 105.8,283.3 103.9,278.9 103.2,278.1 102.3,277.8 96.8,278.1 96.0,278.5 95.4,279.2Z" fill="#1a1cf4"/>
<path d="M105.7,275.3 104.6,277.1 104.6,278.0 106.8,283.1 107.6,283.9 108.7,284.2 114.2,282.8 115.1,282.2 115.6,281.5 117.0,275.9 116.4,274.6 115.8,274.2 115.0,274.1 106.6,274.8Z" fill="#f8468f"/>
<path d="M116.5,281.8 116.5,282.7 116.8,283.4 121.3,288.3 122.4,288.6 129.0,288.2 127.3,294.9 127.9,296.3 129.3,296.8 130.0,296.6 130.7,296.0 134.5,289.6 136.0,290.4 136.9,290.5 146.4,287.8 147.1,286.7 147.0,284.8 150.2,280.1 150.4,279.1 150.1,278.2 148.2,275.8 147.6,275.4 146.7,275.2 137.6,277.7 136.6,276.8 135.4,276.7 126.7,280.6 125.4,279.9 123.6,279.8 119.9,277.7 118.7,277.6 117.9,278.0 117.4,278.6Z" fill="#69a0ff"/>
<path d="M126.7,300.1 121.0,298.6 120.1,298.6 119.5,299.0 118.8,300.3 118.5,305.0 119.0,306.2 119.9,306.8 120.8,306.8 127.4,304.6 128.0,303.7 128.0,302.6 127.2,300.6Z" fill="#69a0ff"/>
<path d="M148.2,287.8 148.7,289.0 149.8,289.6 156.7,289.3 158.6,288.2 159.0,287.6 159.1,286.7 155.7,280.1 155.0,279.5 153.9,279.3 152.2,279.6 151.5,280.0 148.4,284.6 148.1,285.6Z" fill="#65a5f6"/>
<path d="M138.9,291.0 138.0,291.6 137.5,292.8 138.7,296.1 143.9,300.0 144.8,300.2 145.8,299.8 148.5,295.5 149.1,290.7 148.7,289.5 148.0,288.9 146.9,288.8Z" fill="#65a5f6"/>
<path d="M156.8,277.6 156.4,278.5 156.5,279.4 158.6,283.4 159.8,284.2 161.3,284.0 162.0,283.0 162.8,279.7 162.8,279.0 162.4,278.1 161.5,277.5 158.5,276.7 157.5,277.0Z" fill="#da9aeb"/>
<path d="M162.0,287.5 162.6,287.7 165.1,286.3 167.4,276.9 164.1,277.9Z" fill="#ea86de"/>
<path d="M166.9,283.3 167.0,284.6 167.9,285.4 168.8,285.6 171.0,285.3 174.7,282.8 175.2,282.0 175.2,280.9 172.4,276.7 171.3,276.3 169.4,276.4 168.6,276.9 168.2,277.5Z" fill="#80f4bc"/>
<path d="M178.5,282.8 177.1,283.2 176.4,284.5 176.9,287.7 177.8,288.9 178.5,289.1 179.5,289.0 181.8,287.2 183.8,288.2 184.9,288.3 185.7,287.9 186.5,287.0 186.6,285.5 186.1,284.4 185.4,283.8Z" fill="#9325f6"/>
<path d="M197.9,276.2 196.9,276.9 196.6,278.0 197.2,283.8 197.4,284.5 198.1,285.1 203.6,286.5 204.8,286.2 211.4,286.1 212.3,285.7 212.8,285.2 214.2,280.1 213.9,279.0 213.0,278.1 208.3,277.3 206.2,275.3 205.2,274.9Z" fill="#f3f937"/>
<path d="M213.8,285.5 213.9,286.9 215.6,289.0 216.5,289.6 217.8,289.4 222.0,284.7 222.1,283.6 221.5,281.4 221.1,280.8 220.2,280.4 216.8,279.9 215.9,280.1 215.0,281.2Z" fill="#5cd4e1"/>
<path d="M250.0,277.1 249.2,277.5 248.6,278.4 248.6,281.3 250.5,285.3 251.4,285.9 252.5,285.9 253.5,285.1 256.9,278.8 257.0,277.4 256.4,276.4 255.4,276.0Z" fill="#f59a70"/>
<path d="M253.8,286.6 253.6,287.5 253.9,288.5 254.7,289.2 255.8,289.5 264.1,286.3 264.6,285.5 264.7,284.6 263.0,278.9 262.5,278.1 261.9,277.7 260.2,277.2 259.3,277.3 258.7,277.7Z" fill="#e23e95"/>
<path d="M265.5,277.1 264.5,277.9 264.1,279.1 265.5,283.9 266.2,284.8 267.1,285.1 276.7,285.8 277.5,285.6 278.2,284.9 278.5,283.9 278.5,275.7 278.3,275.0 277.7,274.3 276.3,274.0Z" fill="#fc3190"/>
<path d="M5.8,285.5 4.3,285.6 3.4,286.7 3.3,291.7 3.6,292.8 4.8,293.6 10.8,294.8 12.0,294.5 12.9,293.4 12.9,292.6 12.5,291.8 8.6,286.6Z" fill="#65a5e5"/>
<path d="M14.0,285.8 12.1,286.3 11.5,287.0 11.3,287.7 11.5,288.6 13.6,291.4 14.4,291.7 15.4,291.6 16.3,290.9 16.9,289.4 17.1,288.7 16.9,287.9 16.5,287.3 14.7,286.0Z" fill="#6b99f8"/>
<path d="M31.9,290.2 34.3,294.4 35.4,294.4 37.6,287.3 36.0,285.6Z" fill="#65e470"/>
<path d="M25.3,304.8 24.8,305.6 24.7,306.3 24.9,307.0 25.4,307.7 29.7,310.5 34.9,311.3 35.9,311.2 37.0,314.9 38.7,316.7 39.3,317.0 40.9,317.1 41.6,317.0 47.7,313.1 48.4,311.9 48.0,309.7 47.4,309.0 44.7,307.7 43.7,307.7 37.1,309.0 41.0,297.9 44.7,298.1 45.6,297.7 46.1,297.0 47.8,289.7 47.5,288.5 46.8,287.8 44.6,287.1 39.8,287.6 38.8,288.0 38.2,288.9 36.1,295.3 34.6,295.4 33.8,295.9 30.9,298.6 30.6,300.1Z" fill="#3cfe46"/>
<path d="M47.2,297.1 47.2,298.2 47.8,299.0 50.5,300.0 51.8,299.7 53.5,298.1 53.7,297.0 52.8,289.4 52.4,288.5 51.8,288.1 51.1,287.9 50.1,288.0 49.1,288.9Z" fill="#64f4b1"/>
<path d="M56.3,286.7 55.4,286.6 54.4,287.0 53.8,287.7 53.7,288.7 54.7,296.6 55.8,297.6 57.3,297.8 58.1,297.4 60.1,295.8 61.3,289.7 60.9,288.8 60.4,288.3Z" fill="#9336f2"/>
<path d="M64.9,286.9 64.3,288.2 64.6,289.5 70.4,295.1 65.7,298.7 65.4,299.9 65.7,302.0 66.7,303.0 70.9,304.7 72.1,304.6 74.4,303.4 74.9,302.9 76.0,298.6 75.9,297.4 75.1,296.2 74.9,287.0 74.4,286.2 73.8,285.9 68.4,284.6 67.3,285.0Z" fill="#5d8ff4"/>
<path d="M76.0,295.0 76.6,296.3 77.7,296.9 83.9,295.7 84.6,294.9 87.2,289.1 87.2,288.3 86.9,287.4 83.6,285.3 78.7,284.5 77.5,284.8 76.5,285.7 76.1,286.7Z" fill="#e328ee"/>
<path d="M85.7,294.8 85.6,295.9 86.0,296.8 87.5,298.1 88.6,298.4 95.6,296.4 96.4,295.7 96.7,294.7 96.5,293.8 93.9,288.9 92.5,287.6 91.4,287.4 89.4,287.8 88.5,288.5Z" fill="#ec35eb"/>
<path d="M97.3,288.2 96.1,289.0 95.9,290.4 98.5,295.3 99.0,295.9 100.0,296.4 104.6,297.1 105.6,296.6 107.2,295.0 107.5,294.0 106.9,288.0 106.7,287.1 106.2,286.6 104.8,286.3Z" fill="#80f8b1"/>
<path d="M109.3,285.1 108.3,285.7 107.8,286.9 108.4,292.7 108.8,293.7 109.5,294.2 110.2,294.4 115.9,294.5 116.9,294.1 119.9,289.8 120.0,288.7 119.5,287.7 116.1,284.2 115.3,283.7 114.4,283.8Z" fill="#75a3e8"/>
<path d="M118.3,294.0 118.0,294.9 118.0,295.6 119.0,296.9 123.4,298.1 124.5,298.1 125.2,297.6 125.6,297.0 127.0,291.8 127.0,290.7 126.5,289.9 125.4,289.4 121.5,289.7 120.7,290.3Z" fill="#7e1eec"/>
<path d="M149.7,294.0 149.8,295.0 150.5,295.9 154.6,297.5 156.1,297.4 157.0,296.3 156.8,291.8 156.3,291.0 155.6,290.5 151.7,290.5 150.9,290.8 150.0,291.8Z" fill="#70a1ed"/>
<path d="M158.7,289.4 158.0,290.1 157.7,291.0 158.1,296.5 158.6,297.5 159.5,298.0 160.4,298.1 164.7,296.0 165.3,295.1 165.3,294.0 162.5,289.0 161.7,288.5 160.8,288.4Z" fill="#8d2dff"/>
<path d="M172.4,293.5 172.9,294.6 174.2,295.3 175.4,294.9 176.2,294.2 176.5,293.6 176.6,291.7 175.8,287.1 175.3,286.3 174.4,285.8 172.9,286.0 172.1,287.2Z" fill="#5be85d"/>
<path d="M167.4,295.6 168.3,296.5 169.9,296.6 170.9,296.1 171.5,295.1 171.1,288.2 170.6,287.2 169.7,286.6 165.6,287.2 164.6,287.8 164.1,288.6 164.2,289.9Z" fill="#53d35b"/>
<path d="M158.2,303.6 158.5,304.8 160.1,306.6 161.2,306.7 163.9,306.2 164.7,305.4 167.4,299.5 167.5,298.8 167.3,297.9 166.4,297.2 165.2,297.0 159.3,299.7 158.5,300.8Z" fill="#53d35b"/>
<path d="M177.6,291.9 177.6,293.6 184.1,293.3 184.6,289.7 181.9,288.3Z" fill="#8e23dc"/>
<path d="M185.7,289.5 185.2,293.5 185.5,294.2 186.3,295.1 187.2,295.5 193.1,294.1 193.8,293.7 194.2,292.9 194.8,288.9 194.6,288.0 194.0,287.3 193.1,287.0 188.8,286.9 187.9,287.1Z" fill="#69a1f5"/>
<path d="M196.0,287.6 195.2,294.2 195.5,294.9 196.1,295.4 196.8,295.7 203.4,295.4 204.3,295.2 205.0,294.4 205.2,293.5 203.8,288.2 202.7,287.3 198.1,286.2 196.8,286.5Z" fill="#31e14b"/>
<path d="M203.3,302.6 203.4,303.9 204.1,304.7 207.3,305.3 209.1,304.6 210.8,304.5 217.3,301.4 219.4,303.8 227.4,305.2 228.2,306.6 229.1,307.2 235.6,307.5 236.5,307.2 237.2,306.5 238.2,302.8 237.9,301.7 237.2,301.0 230.3,298.1 234.8,290.9 234.8,289.8 233.9,287.4 233.1,286.9 232.4,286.8 228.0,287.9 224.4,285.9 223.5,285.7 222.1,286.2 216.8,292.2 213.4,287.8 212.6,287.2 207.1,287.1 205.9,287.6 205.3,288.4 205.2,289.3 206.6,294.9 204.8,296.5Z" fill="#68a5f4"/>
<path d="M232.9,295.8 232.7,297.0 233.3,298.3 239.6,301.0 238.5,306.3 239.3,307.6 240.6,307.9 247.4,305.9 249.0,306.7 249.8,306.6 250.4,306.2 253.2,302.0 253.3,301.3 253.2,300.5 255.8,294.8 256.0,293.7 255.0,290.7 252.6,289.1 251.9,289.0 251.0,289.1 247.1,291.4 240.4,285.2 237.7,284.1 236.8,284.0 235.6,284.6 234.9,285.9 236.1,290.8Z" fill="#c0ff65"/>
<path d="M257.7,289.9 256.9,290.5 256.5,291.5 256.8,293.1 257.3,293.9 261.1,295.8 262.0,295.8 263.0,295.2 263.5,294.3 263.6,290.4 263.4,289.7 263.0,289.0 262.4,288.7 261.4,288.6Z" fill="#962df3"/>
<path d="M264.5,293.8 264.8,294.9 265.7,295.6 266.6,295.7 268.8,295.3 269.8,294.4 277.8,290.9 278.5,289.8 278.4,288.0 277.8,287.2 276.9,286.8 266.9,286.1 266.0,286.2 265.2,286.8 264.8,287.6Z" fill="#172fdf"/>
<path d="M16.4,301.4 16.6,302.5 17.2,303.2 21.3,305.6 22.3,305.8 23.3,305.3 28.1,301.0 28.5,300.2 28.6,299.4 28.3,298.7 27.6,298.1 24.2,296.5 23.3,296.4 17.4,298.5 16.7,299.4Z" fill="#fee731"/>
<path d="M41.4,299.9 39.6,305.3 39.8,306.0 40.7,306.9 41.7,307.1 44.4,306.5 47.0,307.8 47.9,307.9 48.6,307.6 49.3,307.0 51.1,304.1 51.3,303.0 50.9,301.6 50.0,300.9 47.0,299.9 45.9,299.2 42.7,299.0 41.9,299.4Z" fill="#61f864"/>
<path d="M54.6,298.8 52.3,300.7 52.1,301.6 52.6,303.4 57.0,306.8 57.9,307.1 59.3,306.8 60.7,304.6 63.8,303.0 64.3,302.4 64.5,301.7 64.4,299.8 64.0,299.0 61.0,297.3 59.9,297.4 58.0,298.7Z" fill="#db97e5"/>
<path d="M75.0,315.7 74.7,316.6 74.8,317.5 75.3,318.2 76.1,318.6 82.0,319.0 82.9,318.8 83.6,318.1 83.8,316.8 82.7,310.4 82.3,309.5 83.1,309.2 87.7,306.6 88.3,305.9 88.5,305.1 87.5,299.6 84.8,297.1 83.7,296.9 78.4,297.9 77.7,298.1 77.0,298.8 76.2,302.4 76.3,303.4 80.7,308.8 79.4,309.5Z" fill="#72ef6d"/>
<path d="M84.8,309.4 84.0,310.2 83.9,311.3 84.7,315.9 85.1,316.6 85.8,317.1 87.3,317.0 94.3,312.6 94.8,311.7 94.8,310.6 92.3,307.3 93.2,306.6 96.8,300.4 96.9,299.3 96.4,298.3 95.6,297.8 94.7,297.7 90.2,299.1 89.4,299.5 88.9,300.3 88.8,301.0 89.9,306.5Z" fill="#4ae1f9"/>
<path d="M99.1,298.5 94.1,307.2 94.2,308.1 95.5,309.7 96.6,310.3 97.7,310.1 105.8,300.9 108.0,303.6 108.6,304.0 115.3,305.6 116.3,305.5 117.1,305.0 117.6,304.0 118.0,298.2 117.8,297.3 117.0,296.1 116.1,295.6 109.1,295.4 107.8,295.8 105.3,298.4 104.5,298.1 101.0,297.5 100.1,297.6Z" fill="#e235d9"/>
<path d="M129.1,300.7 128.8,302.0 129.6,303.4 131.0,303.9 132.2,303.3 137.3,296.8 137.4,295.6 136.6,293.7 136.2,293.1 134.8,292.6 133.5,293.2Z" fill="#8036f4"/>
<path d="M133.0,303.9 132.6,305.3 133.2,306.6 138.2,308.2 144.0,306.3 144.7,305.6 145.2,303.9 145.0,302.5 144.5,301.7 139.7,298.1 138.6,297.9 137.3,298.5Z" fill="#7af580"/>
<path d="M117.7,317.7 118.4,318.6 119.6,319.1 124.8,319.7 126.2,319.1 127.3,317.3 127.4,316.2 130.6,307.9 130.7,306.9 130.1,306.0 129.3,305.5 128.4,305.5 120.3,308.0 119.6,308.4 118.7,310.1 117.5,316.6Z" fill="#7af580"/>
<path d="M148.6,297.5 146.3,301.6 146.4,302.5 146.9,303.3 147.6,303.6 155.4,303.9 156.3,303.7 157.0,303.1 157.4,301.0 157.2,300.1 156.4,299.3 149.9,296.9 149.2,297.1Z" fill="#f72843"/>
<path d="M165.9,305.0 165.8,306.4 166.5,307.4 169.1,314.7 169.9,315.3 170.7,315.6 172.8,315.2 173.5,314.9 174.8,313.5 177.7,306.6 177.5,305.6 173.2,298.0 171.8,297.5 170.2,297.6 169.4,298.0Z" fill="#0e09ef"/>
<path d="M175.2,296.4 174.6,297.5 174.7,298.6 178.7,305.8 179.9,306.3 182.5,306.4 184.5,305.5 185.0,304.4 185.9,297.0 185.7,296.1 184.8,294.9 183.5,294.3 177.8,294.6 177.0,294.9Z" fill="#de8fdf"/>
<path d="M186.0,303.7 186.3,305.0 187.3,305.8 194.2,307.3 195.2,307.3 200.9,305.0 201.6,304.5 202.0,303.7 203.2,298.9 203.1,297.8 202.6,297.0 201.6,296.5 195.7,296.7 194.7,295.5 193.6,295.2 188.0,296.4 187.3,296.9 186.8,297.8Z" fill="#873feb"/>
<path d="M251.5,306.5 251.2,307.6 251.6,308.6 253.7,310.9 254.5,311.3 255.3,311.3 255.9,310.9 256.5,310.2 258.0,306.0 258.0,305.1 257.5,304.2 255.9,303.0 254.5,302.8 253.4,303.5Z" fill="#acff32"/>
<path d="M254.9,299.1 254.8,300.2 255.1,301.0 258.6,303.7 259.3,303.9 260.1,303.8 261.4,303.2 262.1,302.3 262.5,298.7 262.3,297.8 261.6,297.2 258.6,295.7 257.5,295.5 256.5,296.0Z" fill="#7894f7"/>
<path d="M263.3,301.6 263.5,302.7 264.1,303.3 268.5,305.3 269.4,305.2 272.0,304.1 276.5,304.3 277.5,304.1 278.2,303.5 278.5,302.6 278.5,294.6 278.3,293.7 277.3,292.9 276.2,292.8 270.8,295.1 269.7,296.3 264.5,297.1 263.6,298.2Z" fill="#bcfa49"/>
<path d="M4.5,308.9 3.7,309.5 3.3,310.5 3.3,314.8 4.0,316.1 14.5,319.3 15.7,319.2 16.9,318.4 17.3,317.5 17.2,316.6 13.9,307.2 13.3,306.3 12.5,305.9 11.6,306.0Z" fill="#912fff"/>
<path d="M17.6,304.7 16.6,304.4 15.6,304.8 14.9,305.7 14.8,306.8 18.1,316.2 19.0,316.9 20.2,317.0 26.6,312.5 27.1,311.8 27.2,310.7 26.5,309.6 23.0,307.4 21.8,307.1Z" fill="#8f2de0"/>
<path d="M22.9,316.5 22.1,317.7 22.4,319.1 24.1,320.3 25.4,320.5 34.6,315.6 35.3,314.7 35.3,313.6 34.9,312.8 34.1,312.2 29.7,311.6Z" fill="#fc9173"/>
<path d="M49.5,308.5 49.2,309.7 49.5,311.5 49.8,312.2 50.5,312.7 53.0,313.4 53.7,313.3 54.4,312.9 56.8,310.2 57.1,309.3 57.0,308.4 56.5,307.7 53.6,305.5 52.8,305.2 51.9,305.4 51.3,305.8Z" fill="#fd2436"/>
<path d="M55.2,313.5 54.7,314.6 55.2,316.4 55.8,317.3 56.7,317.6 57.7,317.5 63.0,315.2 63.8,314.2 64.2,312.5 67.8,310.9 68.6,310.3 70.1,307.2 69.9,305.8 69.1,305.1 65.5,303.7 64.6,303.8 62.0,305.1 61.3,305.7 59.3,309.1Z" fill="#70acfa"/>
<path d="M66.0,312.7 65.0,313.6 64.8,315.0 66.4,319.7 67.7,320.4 72.5,320.1 73.3,319.5 73.6,318.7 73.3,316.4 78.3,309.3 78.5,308.6 78.4,307.7 76.1,304.9 75.2,304.5 74.2,304.7 71.8,306.1 69.2,311.4Z" fill="#963be3"/>
<path d="M92.6,324.6 92.0,325.8 92.2,327.0 95.0,330.1 96.2,330.6 97.2,330.3 105.4,325.3 105.7,324.4 105.7,323.5 103.0,317.6 103.9,317.3 106.9,314.6 107.7,312.9 107.5,305.3 106.8,304.1 105.5,303.7 104.5,304.1 98.4,311.3 98.2,312.0 98.4,312.8 101.4,317.0 100.3,317.5Z" fill="#3018f2"/>
<path d="M108.8,312.9 109.1,314.0 110.1,314.9 114.7,316.0 116.0,315.7 116.6,315.1 116.9,314.4 117.9,309.0 117.7,307.7 116.5,306.9 110.8,305.5 109.5,305.8 108.9,306.4 108.6,307.3Z" fill="#e132e4"/>
<path d="M127.1,321.8 127.5,322.6 128.1,323.1 137.6,326.6 138.6,326.6 140.1,326.0 143.8,326.1 144.7,325.7 145.2,325.1 147.2,320.4 147.4,319.5 147.0,318.5 146.1,317.8 137.3,315.7 137.6,310.4 137.3,309.5 136.4,308.8 132.8,307.8 132.0,308.1 131.3,309.0 128.6,315.9 128.5,317.2 126.9,320.1Z" fill="#e92fed"/>
<path d="M138.4,313.3 138.7,314.4 139.5,315.2 145.6,316.7 147.1,316.5 147.9,315.3 147.9,314.2 145.2,308.7 144.7,308.0 143.8,307.6 143.1,307.6 139.9,308.7 139.1,309.2 138.6,310.2Z" fill="#a047f6"/>
<path d="M156.4,304.9 146.8,304.8 146.0,305.4 145.6,306.2 145.6,307.1 149.4,315.1 150.0,315.8 151.1,316.1 153.9,315.8 157.4,313.0 159.1,307.9 158.8,306.9 157.6,305.4Z" fill="#e728ec"/>
<path d="M159.1,311.5 159.0,312.4 159.4,313.3 163.0,316.6 164.1,316.7 166.5,315.9 167.1,315.5 167.5,314.8 167.6,313.7 165.9,308.7 165.4,307.9 164.7,307.5 164.0,307.4 161.5,307.7 160.6,308.1 160.0,308.8Z" fill="#85f487"/>
<path d="M176.3,312.5 176.1,313.6 176.6,314.6 181.1,318.1 182.4,318.3 183.6,317.5 184.0,316.1 182.6,308.7 181.9,307.7 181.1,307.4 179.7,307.3 178.5,307.8Z" fill="#8ab0ff"/>
<path d="M184.7,306.6 183.9,307.3 183.6,308.5 185.4,318.0 186.1,318.6 187.0,318.9 190.6,318.6 191.5,318.3 192.1,317.7 195.5,311.8 195.6,310.9 195.1,309.2 194.6,308.6 193.9,308.3 186.0,306.5Z" fill="#56d8ee"/>
<path d="M196.7,311.5 192.7,318.9 192.8,319.8 194.0,322.2 194.6,322.9 202.1,326.1 203.0,326.1 203.9,325.8 204.6,324.7 205.7,316.7 207.1,315.7 207.7,314.6 207.2,307.8 206.7,306.7 205.8,306.1 202.3,305.6 197.0,307.7 196.4,308.4 196.2,309.1Z" fill="#ff5b15"/>
<path d="M196.2,337.1 195.8,338.4 196.5,347.5 196.9,348.1 197.7,348.5 201.6,349.0 202.5,348.8 203.8,347.4 204.0,346.3 201.9,340.4 205.0,338.7 205.7,337.8 207.0,330.2 206.8,328.8 206.4,328.2 204.8,327.4 204.1,327.4 203.3,327.9Z" fill="#ff5b15"/>
<path d="M210.7,305.7 208.8,306.1 208.1,307.3 208.6,313.4 209.4,314.6 210.4,315.0 213.9,314.7 216.1,316.4 216.8,316.7 223.7,316.9 224.2,317.9 229.9,323.7 230.6,324.2 231.6,324.3 234.4,323.5 235.5,322.8 236.3,320.0 236.2,318.7 235.7,317.9 225.8,313.4 227.5,308.2 227.3,307.1 226.6,306.2 225.8,305.9 218.7,304.7 217.6,303.4 216.5,303.1 215.7,303.3Z" fill="#5aec5a"/>
<path d="M227.5,311.2 227.6,312.5 228.3,313.3 235.4,316.4 236.3,316.3 237.0,315.7 238.6,312.5 237.8,309.5 237.2,308.8 236.4,308.5 229.4,308.4 228.3,309.1Z" fill="#7eb4fc"/>
<path d="M237.7,316.6 237.5,317.5 237.7,318.4 238.4,319.1 239.0,319.3 245.3,318.8 246.6,318.1 247.0,317.0 246.9,316.0 246.4,315.4 244.6,314.0 245.7,310.2 245.6,309.3 245.1,308.7 244.4,308.2 243.6,308.1 240.7,308.9 239.9,309.4 239.3,310.7 239.8,312.6Z" fill="#6beb76"/>
<path d="M246.1,312.3 246.0,313.2 246.5,314.2 249.3,316.1 253.3,316.3 254.3,315.7 254.7,314.9 254.7,314.0 254.4,313.3 250.2,308.6 249.3,308.0 248.2,308.1 247.3,308.7Z" fill="#9827fa"/>
<path d="M259.2,305.6 256.6,313.3 256.9,314.2 257.4,314.8 258.3,315.1 267.1,313.7 268.3,314.3 277.1,314.5 277.9,314.1 278.5,313.1 278.4,306.6 278.0,305.8 277.0,305.3 272.6,305.1 268.9,306.5 263.2,304.1 262.1,304.0 260.0,304.8Z" fill="#f7283f"/>
<path d="M15.1,320.5 5.0,317.7 4.1,318.0 3.5,318.7 3.3,319.4 3.3,346.2 3.7,347.4 4.8,348.1 5.9,348.0 12.2,344.1 15.2,345.9 16.2,346.0 22.6,343.2 23.4,343.3 24.3,342.9 28.2,338.1 28.5,337.0 28.3,336.1 23.6,327.8 25.1,324.9 24.6,322.5 24.3,321.8 19.9,318.9 18.5,319.0Z" fill="#ffed2c"/>
<path d="M26.7,321.0 26.0,321.7 25.8,322.6 26.0,323.9 26.6,324.7 34.1,328.0 35.4,328.1 36.2,327.7 36.8,326.7 38.2,317.9 37.8,317.2 37.0,316.4 36.2,316.2 35.5,316.2Z" fill="#e736da"/>
<path d="M38.1,325.2 38.1,326.1 38.6,326.9 39.2,327.3 40.4,327.5 47.8,326.4 48.7,325.7 49.0,324.5 48.8,323.8 48.2,323.0 42.0,318.6 40.8,318.3 39.7,318.6 39.1,319.5Z" fill="#e329cd"/>
<path d="M50.9,316.2 49.5,322.1 49.8,322.9 51.8,324.6 53.2,324.8 54.3,324.1 54.7,323.3 55.0,319.1 54.2,316.5 53.6,315.8 52.2,315.4Z" fill="#fc2649"/>
<path d="M42.3,317.7 48.4,321.9 50.3,313.7 49.2,313.4Z" fill="#e9213b"/>
<path d="M60.8,339.0 56.5,344.0 56.4,344.9 56.7,345.8 57.5,346.4 58.4,346.5 63.0,346.3 63.8,347.2 64.9,347.5 66.2,347.0 69.6,342.9 73.9,344.0 76.1,346.6 77.2,347.1 84.2,345.2 84.9,344.8 85.3,344.2 86.0,342.5 86.0,341.4 83.1,337.2 87.0,326.0 86.7,325.1 85.9,324.3 84.4,320.8 83.2,320.1 75.3,319.6 74.2,320.0 73.1,321.2 65.8,321.4 64.4,317.5 63.8,316.8 62.9,316.5 62.0,316.7 56.6,319.2 55.9,320.3 55.7,324.8 56.2,325.8 58.3,327.2 59.1,335.2Z" fill="#8069f6"/>
<path d="M86.4,318.7 85.6,319.5 85.5,320.5 86.7,323.5 88.2,324.7 89.6,325.1 90.3,325.1 91.1,324.7 98.7,317.6 99.2,316.8 99.2,315.9 97.5,313.4 96.7,313.0 95.7,313.0Z" fill="#bcfe47"/>
<path d="M105.5,317.2 104.9,318.1 105.0,319.4 107.2,324.6 108.9,325.6 109.8,325.6 110.5,325.2 115.6,320.2 116.1,319.2 116.0,318.0 115.1,317.1 108.6,315.5 107.2,315.7Z" fill="#f8f34a"/>
<path d="M112.1,325.0 111.6,326.3 111.8,327.2 112.3,327.8 115.5,330.4 116.8,330.4 117.7,329.8 118.2,328.7 118.6,323.1 118.5,322.4 117.9,321.6 116.9,321.2 115.8,321.4Z" fill="#5de3ff"/>
<path d="M119.3,326.6 119.6,327.8 120.9,328.6 121.8,328.6 124.2,327.7 124.8,327.0 126.2,323.3 126.1,322.1 125.7,321.3 124.7,320.6 121.8,320.3 120.4,320.7 119.7,321.8Z" fill="#4fe8ff"/>
<path d="M146.1,325.6 146.0,327.0 146.6,327.9 147.2,328.3 152.8,328.6 158.2,326.4 158.9,325.7 159.1,324.6 158.8,323.7 154.6,317.6 153.9,317.1 153.0,316.9 150.4,317.3 149.5,317.9Z" fill="#aaef47"/>
<path d="M156.3,315.3 155.6,316.4 155.8,317.5 160.7,324.6 161.6,324.9 162.5,324.8 164.5,323.6 166.2,323.1 166.9,322.5 168.3,319.2 168.0,318.1 167.4,317.4 166.2,317.1 162.9,318.0 158.9,314.4 157.6,314.3Z" fill="#ee3988"/>
<path d="M168.3,321.7 168.2,322.8 168.7,323.8 173.2,326.3 174.7,326.5 175.5,326.1 175.9,325.5 176.1,324.7 176.0,324.0 173.6,317.5 172.7,316.6 171.5,316.5 170.4,317.1Z" fill="#881fff"/>
<path d="M178.3,317.1 177.2,316.8 176.2,317.0 175.4,317.9 175.2,318.8 177.1,324.1 177.8,324.7 178.8,325.0 181.6,323.8 182.5,322.3 182.7,321.4 182.1,320.1Z" fill="#9235e9"/>
<path d="M172.6,334.1 172.6,335.2 173.3,336.2 178.3,338.5 182.9,337.4 187.1,337.7 189.0,336.6 189.6,335.9 189.8,335.0 188.6,329.9 192.9,323.5 192.9,322.4 192.0,320.4 191.4,319.9 190.5,319.6 186.0,320.0 185.1,320.3 184.2,321.1 182.4,324.6 179.1,326.1 177.1,326.3 174.8,327.7 174.3,328.5Z" fill="#47f057"/>
<path d="M219.2,350.4 216.7,352.4 216.4,353.5 216.8,354.6 217.6,355.3 223.0,357.5 224.1,357.6 225.2,356.9 227.9,352.8 229.2,352.4 229.9,351.8 231.3,348.4 231.3,347.4 230.8,346.6 230.2,346.2 225.1,344.4 223.0,339.5 222.1,338.8 220.8,338.7 219.9,339.3 219.5,340.3Z" fill="#68ec73"/>
<path d="M206.5,318.1 205.5,325.8 206.0,326.6 207.4,327.5 208.0,328.1 207.8,328.9 208.1,329.8 213.2,337.7 213.9,338.3 214.8,338.5 217.7,337.6 218.3,336.5 218.3,335.5 210.9,327.2 214.0,325.0 220.3,325.8 223.8,330.6 224.6,331.1 225.3,331.2 226.0,331.1 226.7,330.5 229.2,326.4 229.4,325.5 229.0,324.3 223.0,318.1 222.1,317.9 216.1,317.6 214.0,316.1 213.1,315.8 208.6,316.1 206.9,317.2Z" fill="#68ec73"/>
<path d="M236.4,323.5 236.7,323.8 244.1,324.4 245.3,319.8 237.2,320.6Z" fill="#40e857"/>
<path d="M245.3,323.6 245.3,324.5 245.6,325.2 248.6,327.8 249.9,328.0 251.3,327.3 252.1,326.4 253.9,319.6 253.9,318.9 253.6,318.0 252.3,317.3 249.7,317.1 248.8,317.4 246.5,319.6Z" fill="#70ea7a"/>
<path d="M259.8,315.9 258.9,316.3 258.3,317.2 258.3,318.3 258.8,319.1 264.1,324.3 266.7,325.5 267.4,325.4 268.2,325.0 268.8,324.2 269.0,322.8 267.3,316.4 266.9,315.6 266.3,315.1 265.4,315.0Z" fill="#42dc46"/>
<path d="M253.3,325.6 253.3,326.5 253.9,327.5 255.3,328.4 256.4,328.5 261.2,325.7 261.7,324.9 261.8,323.9 261.4,323.1 257.7,319.5 257.0,319.1 256.1,319.1 255.3,319.5 254.7,320.3Z" fill="#5aee51"/>
<path d="M270.1,323.0 269.9,324.7 270.2,325.4 270.9,326.0 276.5,327.0 277.8,326.5 278.3,326.0 278.5,325.1 278.5,317.5 278.1,316.3 277.6,315.8 276.7,315.6 270.4,315.3 269.3,315.8 268.7,316.6 268.7,317.5Z" fill="#e33ce7"/>
<path d="M27.8,326.4 26.7,326.3 25.7,326.8 25.2,327.8 25.3,328.7 29.0,335.3 29.9,335.9 31.0,335.9 31.8,335.4 34.3,332.4 34.7,330.9 34.6,330.0 33.7,328.9Z" fill="#d631e0"/>
<path d="M35.7,330.9 35.8,332.0 36.4,332.7 42.8,336.8 44.1,337.1 45.0,336.8 45.6,336.0 45.8,333.3 47.7,330.5 47.9,329.3 47.4,328.3 46.3,327.7 40.1,328.6 37.8,328.1 37.0,328.3 36.2,329.1Z" fill="#ea3b3c"/>
<path d="M46.3,344.8 46.6,345.9 47.6,346.8 47.5,355.1 47.9,356.3 48.8,356.9 56.2,358.7 57.1,358.6 57.8,358.3 58.4,357.6 59.1,355.3 59.0,353.9 53.3,347.8 52.3,346.9 58.8,339.7 59.3,338.7 59.2,337.8 58.1,335.6 57.4,328.3 56.9,327.5 55.1,326.2 52.9,326.1 51.7,326.7 46.9,333.4 46.4,340.0Z" fill="#1614ed"/>
<path d="M87.8,327.3 84.5,336.8 84.7,337.7 87.4,341.4 86.2,345.0 86.4,345.9 87.3,347.3 88.3,347.8 96.4,349.7 97.3,349.6 98.0,349.1 99.3,347.4 99.4,346.2 97.5,341.5 94.5,338.3 95.4,333.9 95.2,332.1 90.4,326.6 88.9,326.4Z" fill="#bbf548"/>
<path d="M96.4,333.9 95.7,337.8 96.1,338.6 97.5,340.0 98.3,340.3 99.2,340.2 105.1,337.9 105.7,336.6 105.3,335.1 107.4,329.0 107.2,328.1 106.9,327.4 105.7,326.9 104.7,327.0 97.0,331.6 96.4,332.6Z" fill="#689af0"/>
<path d="M117.3,331.3 116.5,332.3 116.4,333.5 119.3,337.1 120.4,337.3 124.0,336.6 124.6,336.2 125.1,335.6 125.5,330.8 125.2,329.9 124.5,329.3 123.1,329.2 118.7,330.5Z" fill="#b6fa65"/>
<path d="M107.0,337.0 107.5,337.9 108.6,338.6 109.4,338.7 110.3,338.5 115.5,334.1 115.9,333.1 115.7,332.0 111.1,328.1 110.0,327.9 109.1,328.2 108.4,329.0 106.5,334.7 106.5,335.6Z" fill="#b6fa65"/>
<path d="M125.7,327.2 125.7,328.5 126.6,330.0 126.3,335.6 126.6,336.6 129.8,338.9 130.7,338.9 132.8,338.3 133.4,337.8 133.6,337.1 133.9,333.0 136.4,329.1 136.4,328.2 136.1,327.5 135.2,326.8 128.3,324.3 127.4,324.5 126.8,324.9Z" fill="#4cec44"/>
<path d="M157.8,351.0 157.1,350.2 156.0,349.9 155.0,350.2 154.3,351.0 152.3,357.3 152.6,358.3 154.0,359.8 154.9,359.9 155.7,359.7 159.1,357.3 159.6,356.5 159.6,355.3Z" fill="#36f732"/>
<path d="M150.1,339.5 148.8,340.0 148.2,341.3 149.8,346.4 150.4,347.0 154.6,349.2 155.4,349.4 156.3,349.1 158.8,346.6 159.2,345.8 159.2,344.9 157.9,340.6 157.2,339.9 156.5,339.7Z" fill="#36f732"/>
<path d="M121.4,338.1 120.5,338.6 119.9,339.7 120.2,344.9 120.6,345.9 121.5,346.5 124.5,347.0 125.2,347.5 129.0,349.2 131.6,351.5 132.3,351.7 133.1,351.6 133.7,351.2 134.2,350.5 136.1,344.6 139.2,345.1 140.3,344.9 146.4,339.0 146.7,338.0 146.2,329.2 145.1,327.6 144.1,327.1 140.4,327.0 138.7,327.8 135.0,333.3 134.6,337.8 133.4,339.4 129.7,340.1 125.6,337.4Z" fill="#36f732"/>
<path d="M149.3,329.5 148.1,329.9 147.4,331.1 147.6,336.9 148.1,337.9 148.7,338.4 149.5,338.5 155.7,338.7 156.7,338.3 157.4,337.2 157.3,336.0 153.3,330.2 152.2,329.6Z" fill="#75a4f6"/>
<path d="M156.0,328.4 155.0,329.4 154.9,330.7 158.4,335.8 159.2,336.3 160.1,336.3 162.2,334.9 162.8,334.1 162.9,333.2 161.6,328.4 161.1,327.6 160.3,327.1 159.4,327.1Z" fill="#9e34ef"/>
<path d="M163.2,325.5 162.5,326.4 162.3,327.5 164.2,333.8 165.0,334.3 169.3,335.6 170.2,335.6 170.9,335.2 171.5,334.3 173.1,328.9 173.2,328.2 172.8,327.4 167.0,324.2 165.0,324.5Z" fill="#9c3cff"/>
<path d="M190.1,329.4 189.8,330.8 191.0,335.2 192.1,335.9 195.0,336.2 196.1,335.7 201.0,329.2 201.4,327.8 201.1,326.9 200.4,326.3 195.4,324.3 194.4,324.2 193.3,324.8Z" fill="#fa2544"/>
<path d="M216.2,339.2 214.1,340.0 213.6,340.6 211.9,345.2 211.9,346.1 212.3,346.9 215.1,350.2 215.9,350.7 216.8,350.7 217.7,350.2 218.3,349.1 218.5,340.8 217.9,339.8 217.2,339.3Z" fill="#55f758"/>
<path d="M207.2,335.5 207.0,337.1 207.4,337.9 208.0,338.4 208.8,338.6 209.6,338.5 210.3,338.2 210.8,337.7 211.0,336.9 210.9,336.2 210.5,335.3 209.3,334.5 208.5,334.5 207.7,334.9Z" fill="#55f758"/>
<path d="M215.8,326.2 214.7,326.4 214.0,327.0 213.7,328.0 214.0,329.1 220.1,335.8 221.1,336.1 222.8,335.9 222.9,336.8 225.8,343.3 226.6,343.9 232.4,345.9 232.8,347.2 231.1,351.9 231.6,353.3 234.1,355.6 236.6,356.4 238.8,358.4 240.0,358.5 242.6,357.9 243.2,357.5 243.9,356.3 244.0,350.4 243.7,349.5 242.5,347.9 243.2,343.4 242.0,341.0 248.6,334.0 248.9,332.8 248.5,331.6 247.7,331.1 246.8,330.9 240.6,332.8 239.6,333.7 238.5,336.4 232.3,337.2 226.0,334.4 224.6,334.1 224.3,333.0 220.0,327.1 219.1,326.6Z" fill="#4ce75e"/>
<path d="M227.3,331.5 227.0,332.8 227.6,333.9 232.5,336.2 237.2,335.5 238.0,334.8 238.7,333.0 238.6,332.1 236.5,325.7 235.9,324.9 235.0,324.5 231.6,325.3 230.8,325.7Z" fill="#79e8b5"/>
<path d="M240.1,325.0 238.7,325.5 238.0,326.8 239.1,330.5 239.8,331.3 240.5,331.6 241.4,331.6 245.7,330.2 246.5,329.5 246.8,328.5 246.6,327.6 244.6,325.7 243.8,325.4Z" fill="#68f065"/>
<path d="M250.6,329.0 249.7,330.2 249.9,333.0 250.3,333.9 251.2,335.0 252.3,335.5 255.0,335.5 258.3,337.4 259.1,337.6 261.8,336.9 265.5,334.5 265.9,333.7 267.2,328.0 266.9,327.1 266.4,326.6 264.5,325.6 263.8,325.5 262.9,325.8 256.2,330.0 252.8,328.2 251.7,328.3Z" fill="#f53ef4"/>
<path d="M267.2,332.6 267.3,333.9 268.3,334.8 276.2,336.4 277.2,336.4 278.1,335.7 278.5,334.9 278.4,329.4 277.9,328.6 277.1,328.1 269.6,327.0 268.9,327.3 268.3,328.0Z" fill="#f7f9ca"/>
<path d="M25.9,342.6 25.5,343.9 26.1,345.1 32.8,349.6 33.2,355.9 32.9,357.1 33.2,358.2 34.3,359.5 36.8,361.2 37.4,363.9 37.7,364.5 46.1,372.7 46.7,380.4 47.0,381.6 47.6,382.2 48.5,382.5 50.1,382.5 50.9,382.2 51.7,381.2 56.8,365.0 58.1,364.2 58.6,363.4 58.6,362.4 58.0,360.7 57.5,360.1 56.8,359.8 46.5,357.4 46.6,348.0 46.2,346.9 45.2,346.0 35.5,344.1 31.0,339.3 30.1,338.9 29.2,338.9 28.5,339.3Z" fill="#3feb41"/>
<path d="M17.8,346.5 17.0,347.2 16.6,348.2 17.7,353.4 18.2,354.1 19.1,354.6 21.2,354.3 21.8,353.8 22.3,353.0 23.3,347.2 23.2,346.1 22.5,345.3 21.4,345.0Z" fill="#3feb41"/>
<path d="M32.1,336.6 31.7,337.8 32.0,338.8 36.1,343.2 43.3,344.6 44.4,344.4 45.1,343.6 45.3,342.9 45.4,340.5 44.9,339.4 36.3,333.9 35.2,333.7 34.4,334.0Z" fill="#3d1ad9"/>
<path d="M100.4,340.8 99.5,341.5 99.2,342.6 100.3,345.7 101.4,346.6 103.5,346.8 104.3,346.6 106.1,345.3 108.0,341.5 108.2,340.6 107.6,339.2 106.2,338.8Z" fill="#bcf33d"/>
<path d="M107.1,345.6 116.6,348.5 117.3,347.7 109.6,340.3Z" fill="#f1eed0"/>
<path d="M115.1,335.9 111.6,338.9 111.4,339.8 112.0,341.2 116.4,345.3 117.5,345.5 118.6,344.9 119.1,343.7 118.8,338.6 118.5,337.8 117.2,336.2 116.2,335.7Z" fill="#f0ffb5"/>
<path d="M159.1,338.6 158.9,340.0 160.1,344.5 161.0,345.4 162.0,345.7 163.2,345.1 168.6,339.6 169.1,339.0 169.3,338.0 169.0,337.1 168.2,336.4 164.1,335.2 163.1,335.6 159.7,337.9Z" fill="#e9f121"/>
<path d="M158.9,348.0 158.4,348.8 158.3,349.8 160.8,355.4 161.7,356.2 163.1,356.4 162.9,358.9 163.2,359.8 163.7,360.4 164.3,360.7 165.6,360.6 166.2,360.2 167.2,358.8 168.5,358.6 171.7,356.5 172.2,356.0 172.5,355.1 172.3,353.6 174.2,348.5 176.1,347.4 176.8,346.5 177.6,340.9 177.4,339.8 176.7,339.0 172.9,337.1 172.2,337.0 171.3,337.1 170.4,338.0 169.9,339.8 162.6,347.1 160.5,346.9 159.8,347.1Z" fill="#7bef7d"/>
<path d="M177.9,345.6 178.1,346.7 179.0,347.6 184.1,349.9 185.0,349.9 185.8,349.6 186.4,348.8 186.6,348.1 186.8,340.3 186.4,339.3 185.5,338.6 183.2,338.4 179.3,339.6 178.6,340.6Z" fill="#ff6514"/>
<path d="M187.6,347.6 188.0,348.8 188.6,349.3 189.3,349.5 193.2,349.8 194.5,349.1 195.1,348.4 195.3,347.4 194.9,338.7 194.5,337.8 193.9,337.3 190.7,336.9 188.7,338.0 188.0,338.7 187.8,339.6Z" fill="#65b6ff"/>
<path d="M204.5,340.1 203.8,340.9 203.6,342.0 204.7,345.1 205.1,345.7 205.8,346.0 206.6,346.1 209.6,345.8 210.8,345.1 212.0,341.8 211.8,340.9 211.3,340.2 210.4,339.8 206.6,339.2 205.7,339.4Z" fill="#8334f8"/>
<path d="M244.8,339.4 244.4,340.2 244.4,341.3 244.9,342.1 245.7,342.6 249.9,342.4 250.9,341.8 251.3,341.0 251.0,337.1 250.5,336.3 249.7,335.8 249.0,335.7 248.1,336.1Z" fill="#75a4fe"/>
<path d="M252.2,339.5 252.4,340.2 253.1,340.9 253.7,341.2 254.7,341.1 255.3,340.8 256.3,339.8 256.7,338.9 256.6,338.2 256.2,337.4 255.2,336.7 254.4,336.5 253.5,336.6 252.8,336.9 252.3,337.6Z" fill="#719af5"/>
<path d="M244.1,344.7 243.7,347.6 244.0,348.3 244.7,349.1 245.5,349.4 253.3,350.7 254.5,350.3 255.1,349.2 255.0,348.1 253.1,344.4 252.5,343.7 251.9,343.4 245.0,343.8Z" fill="#719af5"/>
<path d="M261.0,349.3 258.0,349.0 257.1,349.4 255.8,351.5 255.4,354.9 255.6,355.8 256.2,356.5 256.8,356.9 261.6,358.3 262.7,358.2 264.1,357.3 264.6,356.4 264.2,353.0 261.9,349.7Z" fill="#72dcfa"/>
<path d="M254.8,342.6 254.3,343.4 254.3,344.4 255.9,347.7 257.1,348.5 258.5,348.2 259.3,347.2 260.5,342.0 260.3,340.6 259.2,339.8 258.0,339.8Z" fill="#72dcfa"/>
<path d="M260.6,346.1 260.8,347.6 261.5,348.2 262.3,348.4 265.2,352.7 265.7,355.8 266.6,356.8 268.9,357.4 276.6,357.6 277.5,357.4 278.3,356.6 278.5,355.7 278.5,339.4 278.2,338.4 277.5,337.7 267.0,335.6 264.8,336.1 262.9,337.4 262.5,338.0Z" fill="#65d8e7"/>
<path d="M3.3,356.9 3.9,358.2 5.1,358.8 15.0,358.5 16.2,358.0 17.3,356.4 17.5,355.5 17.3,354.7 16.8,354.0 15.6,348.0 15.2,347.2 13.0,345.7 11.7,345.6 4.0,350.4 3.3,351.7Z" fill="#ef1c3b"/>
<path d="M23.3,352.9 23.4,353.8 24.0,354.7 27.9,356.8 30.8,356.9 31.6,356.5 32.1,355.7 31.9,351.1 31.6,350.2 26.6,346.7 25.3,346.8 24.3,347.7Z" fill="#73eb79"/>
<path d="M58.7,347.5 57.8,347.8 57.3,348.3 56.9,349.7 57.3,350.5 59.4,352.7 60.0,353.1 60.9,353.2 63.1,352.4 63.7,351.9 64.1,351.1 64.2,349.8 64.0,349.1 62.9,347.8 61.7,347.3Z" fill="#f25d6b"/>
<path d="M65.2,350.7 65.3,351.6 65.8,352.4 68.5,353.8 73.7,354.0 75.0,353.5 77.9,355.6 84.6,358.4 85.5,358.4 87.2,357.7 91.5,359.0 92.5,359.0 96.1,356.7 96.7,355.6 96.9,352.1 96.7,351.4 96.2,350.8 86.9,348.5 85.8,346.8 84.6,346.3 76.4,348.5 73.4,345.0 71.1,344.3 70.2,344.3 69.4,344.8 65.7,349.2Z" fill="#eb7b42"/>
<path d="M97.8,354.9 97.9,355.7 98.4,356.5 100.3,357.2 106.2,357.3 107.3,356.6 107.6,355.6 107.4,354.6 103.9,348.5 103.0,347.8 101.4,347.6 100.1,348.1 98.2,350.5Z" fill="#261ddf"/>
<path d="M107.9,346.9 107.0,346.8 106.1,347.2 105.6,348.0 105.5,348.9 109.1,355.5 109.6,356.0 110.6,356.3 113.5,355.5 114.2,354.7 115.5,351.1 115.5,350.3 115.2,349.6 114.4,348.9Z" fill="#48f447"/>
<path d="M115.3,354.7 115.3,356.1 116.4,357.1 121.9,357.9 123.1,357.5 123.6,357.0 123.9,356.1 124.1,349.4 123.7,348.4 122.8,347.8 120.3,347.3 119.6,347.4 118.4,348.0 117.1,349.5Z" fill="#ee2b41"/>
<path d="M109.1,358.8 108.7,362.7 109.1,363.4 113.6,367.9 114.3,368.2 115.4,368.2 116.1,367.9 116.6,367.4 116.9,366.1 115.8,358.2 115.6,357.5 115.1,356.9 114.4,356.6 113.6,356.6 109.8,357.8Z" fill="#ee2b41"/>
<path d="M135.2,355.0 134.1,355.3 133.5,356.1 133.3,357.0 133.7,358.0 140.2,365.0 140.9,365.4 141.8,365.5 144.9,368.5 148.0,381.1 148.4,381.9 148.9,382.3 149.8,382.5 159.1,382.5 160.3,382.0 160.8,380.7 161.2,366.9 161.8,359.8 160.9,358.6 160.0,358.3 159.3,358.4 154.2,362.0 151.0,357.9 153.2,351.2 153.1,350.2 152.7,349.4 150.6,348.2 149.2,348.1 148.4,348.6 142.6,354.7Z" fill="#6fec6b"/>
<path d="M124.8,356.7 125.0,357.7 125.5,358.2 126.2,358.6 127.1,358.7 131.7,357.2 132.8,356.0 133.0,354.8 132.6,353.9 128.6,350.1 127.3,349.5 126.4,349.6 125.6,350.0 125.0,351.0Z" fill="#6fec6b"/>
<path d="M134.9,351.4 135.0,352.9 135.6,353.6 136.2,353.9 139.6,353.8 140.7,353.2 141.1,352.5 141.2,351.6 140.1,347.4 139.6,346.6 138.9,346.1 138.1,346.0 136.8,346.5 136.3,347.3Z" fill="#8b47e6"/>
<path d="M141.5,345.2 141.0,346.0 140.9,346.7 141.8,350.0 142.3,350.9 143.3,351.4 144.0,351.3 144.8,350.9 148.1,347.5 148.5,346.7 148.5,345.9 147.5,343.0 147.0,342.3 146.1,341.9 145.2,341.9 144.6,342.2Z" fill="#883af4"/>
<path d="M173.5,355.1 174.2,356.2 178.1,358.9 178.8,359.2 179.7,359.1 183.0,357.6 183.7,357.0 184.7,352.9 184.7,352.0 184.2,351.2 183.6,350.8 177.9,348.2 176.9,348.2 175.4,348.9 174.8,349.6 173.4,353.4Z" fill="#fe8933"/>
<path d="M185.4,354.4 185.7,355.9 186.3,356.5 187.0,356.7 192.6,356.7 193.7,356.0 194.2,355.0 193.4,352.1 192.8,351.1 192.0,350.7 188.0,350.4 186.9,350.6 186.1,351.4Z" fill="#74eb82"/>
<path d="M195.2,349.8 194.5,350.6 194.3,351.6 195.6,355.9 196.1,356.6 196.8,357.0 197.7,357.1 201.4,356.4 202.4,355.8 202.8,355.0 202.9,353.2 202.6,351.3 202.0,350.4 201.2,350.0 196.5,349.3Z" fill="#6afb68"/>
<path d="M203.7,349.1 203.4,350.2 204.0,353.2 203.7,356.4 205.7,359.5 206.4,360.1 207.3,360.3 208.2,360.1 214.6,356.0 215.2,355.3 215.5,354.3 215.2,351.9 210.8,347.0 210.0,346.8 205.6,347.2 204.8,347.7Z" fill="#fb7c38"/>
<path d="M247.2,350.7 245.9,350.9 245.0,352.0 244.9,356.5 245.2,357.6 245.9,358.2 247.5,358.9 251.8,358.9 252.7,358.6 254.3,356.4 254.5,353.5 254.2,352.5 253.1,351.7Z" fill="#519aee"/>
<path d="M5.1,359.8 3.8,360.3 3.3,361.5 3.3,365.6 3.7,366.4 4.3,366.9 12.4,368.5 13.5,368.0 16.2,365.0 16.4,364.1 16.0,361.0 15.6,360.2 15.0,359.7 14.1,359.5Z" fill="#2e1ce0"/>
<path d="M17.3,363.3 17.8,364.3 18.5,364.9 21.3,365.6 22.6,365.3 23.3,364.6 26.3,359.1 26.4,358.2 26.1,357.3 25.5,356.7 22.5,355.2 19.7,355.6 19.0,355.9 16.9,359.0Z" fill="#9632f0"/>
<path d="M23.9,365.4 23.8,366.9 24.7,368.4 25.9,368.8 27.1,368.4 32.6,360.8 32.8,359.7 32.4,358.7 31.8,358.2 31.0,358.0 28.9,358.0 28.0,358.3Z" fill="#ffdc36"/>
<path d="M59.8,362.7 60.4,363.7 62.0,364.5 63.1,364.4 64.0,363.8 67.3,356.1 67.3,354.9 66.6,354.0 65.0,353.2 64.3,353.1 61.2,354.2 60.4,354.7 58.8,359.4Z" fill="#70ee77"/>
<path d="M64.8,364.6 64.7,365.3 64.9,366.1 66.3,367.6 65.4,380.5 65.6,381.5 66.2,382.2 67.1,382.5 73.2,382.5 74.1,382.3 75.0,381.2 76.9,374.8 76.6,373.9 72.2,367.4 71.4,366.8 70.1,366.4 72.8,357.2 72.7,356.1 72.2,355.4 71.4,355.0 70.0,354.9 69.3,355.1 68.7,355.6Z" fill="#e931d4"/>
<path d="M77.7,363.4 78.0,364.5 78.8,365.2 80.4,365.6 81.5,365.2 82.1,364.6 83.5,361.7 83.9,360.6 83.6,359.5 82.9,358.8 80.4,357.8 79.6,357.7 78.8,358.0 78.2,358.6 78.0,359.3Z" fill="#ff4592"/>
<path d="M71.3,365.7 72.2,366.0 76.7,365.1 77.1,356.3 74.9,354.7 74.5,354.9Z" fill="#fa348d"/>
<path d="M84.9,360.8 84.8,361.8 85.2,362.6 89.1,366.7 89.9,367.1 90.6,367.2 91.8,366.4 92.7,363.3 92.3,361.1 91.7,360.2 87.1,358.8 85.6,359.5Z" fill="#9af72b"/>
<path d="M82.6,365.7 82.4,366.9 83.1,369.1 83.7,369.9 87.6,371.6 88.6,371.4 89.4,370.8 89.8,369.7 89.5,368.6 85.6,364.6 84.7,364.2 83.8,364.4 83.2,364.8Z" fill="#b7f35c"/>
<path d="M94.1,359.2 93.5,359.9 93.3,360.8 93.6,362.4 94.2,363.1 98.0,364.8 99.1,364.7 99.9,364.1 100.2,363.5 100.3,362.5 99.5,358.9 98.9,358.0 97.8,357.4 96.9,357.5Z" fill="#34e747"/>
<path d="M101.6,364.4 102.4,365.5 103.8,365.9 104.7,365.5 107.0,363.3 107.6,362.3 107.9,360.4 107.4,359.0 106.2,358.4 102.8,358.3 102.1,358.4 101.4,358.8 101.0,359.5 100.8,360.2Z" fill="#2eec40"/>
<path d="M119.3,358.5 117.9,358.9 117.2,360.1 118.2,367.3 118.9,368.1 119.8,368.4 123.3,367.5 124.0,367.0 124.4,366.1 124.8,361.2 124.7,360.2 124.2,359.6 123.6,359.2Z" fill="#e12541"/>
<path d="M125.4,365.8 125.8,367.0 127.0,367.8 130.4,367.2 131.3,366.5 131.7,365.5 131.5,360.8 131.3,360.1 130.7,359.4 129.9,359.0 129.2,359.1 127.0,359.7 126.2,360.3 125.8,361.1Z" fill="#9237fb"/>
<path d="M132.3,358.0 132.8,366.9 134.8,367.6 139.5,365.8Z" fill="#9738ec"/>
<path d="M178.2,368.4 176.8,368.8 176.0,370.0 176.7,380.7 177.0,381.6 177.5,382.2 178.4,382.5 185.7,382.5 186.7,382.2 187.5,381.1 187.5,379.8 183.4,369.9 182.4,369.1Z" fill="#9242f0"/>
<path d="M163.8,365.3 163.4,366.3 163.6,367.2 164.2,367.9 165.2,368.4 171.0,367.6 174.5,368.7 175.4,368.7 176.2,368.2 176.7,367.5 178.1,361.5 178.0,360.6 177.4,359.6 174.2,357.5 173.4,357.2 172.7,357.2 167.4,360.3Z" fill="#9242f0"/>
<path d="M178.2,365.4 178.3,366.6 179.0,367.4 183.3,368.2 188.0,366.4 188.6,365.7 188.8,364.8 188.5,363.7 184.8,359.4 184.2,359.0 183.3,358.8 180.2,360.0 179.4,360.6Z" fill="#74f26e"/>
<path d="M186.0,368.3 185.0,369.2 184.8,370.5 188.6,379.8 188.6,380.8 188.9,381.7 189.4,382.2 190.3,382.5 196.1,382.4 196.9,381.7 197.3,380.7 196.5,366.9 202.3,366.4 203.2,366.0 205.5,362.7 205.7,361.3 203.5,358.0 202.4,357.4 195.8,358.4 194.6,357.7 188.0,357.8 187.0,358.9 187.0,360.4 191.7,366.0Z" fill="#1e26ee"/>
<path d="M199.4,367.6 198.1,368.3 197.6,369.6 198.3,380.9 198.8,381.9 199.6,382.4 207.3,382.5 208.5,382.1 209.0,381.5 209.3,380.6 217.0,368.7 219.0,367.7 223.5,367.5 227.2,377.2 228.2,378.0 229.5,378.0 230.2,377.5 230.6,376.8 232.5,369.4 232.4,368.4 232.1,367.7 231.4,367.2 226.2,365.6 232.4,357.6 232.7,356.9 232.6,355.9 232.2,355.3 230.6,353.8 229.7,353.5 228.8,353.7 228.0,354.4 224.8,359.3 217.3,356.2 216.0,356.3 207.4,361.8 203.8,367.2Z" fill="#2130e3"/>
<path d="M229.6,362.9 229.2,364.1 229.6,365.3 230.3,365.8 232.5,366.4 233.5,366.1 238.0,362.6 244.4,368.4 245.6,368.8 246.3,368.6 247.0,368.0 250.4,362.8 250.6,361.7 250.3,360.7 249.6,360.1 248.9,359.9 247.0,359.9 244.4,358.6 238.7,359.9 236.3,357.5 234.9,357.1 233.6,357.7Z" fill="#211eea"/>
<path d="M245.8,371.8 247.4,371.2 254.3,364.6 252.8,360.8Z" fill="#2924ec"/>
<path d="M237.3,364.5 234.8,366.5 234.6,367.4 235.1,368.8 241.9,374.6 242.5,374.9 243.4,374.9 243.6,375.9 244.1,376.6 244.0,380.7 244.2,381.5 244.7,382.1 245.9,382.5 254.4,382.5 255.4,382.0 255.8,381.2 257.3,373.9 263.4,369.4 263.7,368.5 263.6,367.7 266.8,360.9 267.0,359.8 266.5,358.8 265.4,358.2 264.3,358.4 262.4,359.6 256.1,357.7 254.8,357.9 253.8,359.0 253.6,360.0 255.5,364.9 247.9,372.0 244.9,373.2 244.7,371.9 243.6,369.1 239.0,364.8 238.1,364.5Z" fill="#2d31e7"/>
<path d="M211.1,379.6 210.8,380.4 211.0,381.3 211.5,382.1 212.5,382.5 225.6,382.5 226.7,382.0 227.3,380.8 227.2,379.9 223.2,369.6 222.5,368.8 221.6,368.6 219.4,368.7 217.7,369.5Z" fill="#2d31e7"/>
<path d="M257.0,380.2 257.3,381.7 258.0,382.3 258.7,382.5 276.6,382.5 278.0,382.0 278.5,380.6 278.5,360.5 278.0,359.2 276.8,358.6 270.4,358.4 269.0,358.9 265.2,366.7 265.1,367.8 265.8,369.0 258.4,374.4 258.0,375.2Z" fill="#2431e6"/>
<path d="M76.4,380.0 76.6,381.5 77.2,382.2 77.9,382.5 86.5,382.5 87.5,382.2 88.1,381.5 88.4,380.6 87.9,374.0 87.6,373.1 86.9,372.5 83.9,371.1 83.2,371.0 82.4,371.2 78.2,374.9Z" fill="#57e757"/>
<path d="M53.1,380.0 53.2,381.5 53.9,382.2 54.5,382.5 62.7,382.5 63.4,382.3 64.0,381.8 64.4,380.7 65.2,368.7 64.8,367.6 63.5,366.4 59.9,364.7 58.9,364.9 57.7,365.8Z" fill="#57e757"/>
<path d="M26.4,373.8 25.2,381.0 25.6,381.8 26.9,382.5 44.4,382.4 45.3,381.8 45.7,380.8 45.2,373.5 44.7,372.6 38.8,367.0 38.0,366.6 37.1,366.7 36.2,367.3 34.9,369.5 27.5,372.4 26.8,372.9Z" fill="#57e757"/>
<path d="M5.6,368.2 4.1,368.5 3.5,369.2 3.3,369.9 3.3,380.6 3.7,381.8 4.5,382.4 5.2,382.5 15.6,382.5 16.8,382.1 17.4,381.1 17.4,380.0 12.8,370.1 12.0,369.5Z" fill="#57e757"/>
<path d="M14.5,368.4 14.1,369.2 14.1,370.3 19.2,381.5 19.6,382.1 20.5,382.5 22.4,382.5 23.2,382.2 24.0,381.1 25.5,372.8 25.2,371.1 22.8,367.4 21.8,366.7 18.2,365.8 17.3,365.8 16.5,366.2Z" fill="#8e49d9"/>
<path d="M33.2,361.9 29.3,367.5 29.3,368.4 29.6,369.1 30.3,369.6 31.6,369.7 33.9,368.8 34.6,368.1 36.3,364.7 36.4,363.8 35.9,362.3 35.4,361.8 34.5,361.5Z" fill="#57e95a"/>
<path d="M77.3,366.1 75.2,366.6 74.5,367.3 74.3,368.0 74.5,368.9 77.0,372.5 77.8,372.9 78.9,372.8 81.8,370.2 82.0,369.1 81.6,367.7 81.0,366.9 80.4,366.6Z" fill="#7ff283"/>
<path d="M89.5,372.1 89.0,372.8 88.8,373.5 89.4,380.8 89.7,381.6 90.4,382.3 91.3,382.5 105.3,382.5 106.3,382.2 106.9,381.6 107.2,380.7 107.3,373.1 103.4,368.8 102.2,368.2 101.2,367.2 95.4,364.8 94.1,364.9 93.5,365.3 93.1,366.0 92.0,370.0Z" fill="#49dcfc"/>
<path d="M105.2,366.4 104.6,367.5 104.7,368.6 108.5,372.7 108.2,380.7 108.3,381.5 109.0,382.2 110.0,382.5 127.2,382.5 128.1,382.3 128.8,381.7 129.0,381.0 129.0,380.1 126.2,369.8 125.3,368.6 124.0,368.4 118.1,369.9 117.3,369.5 113.3,369.1 109.2,364.9 108.2,364.5 106.9,364.8Z" fill="#6ff379"/>
<path d="M128.9,368.5 127.8,369.2 127.4,370.5 130.3,381.1 130.7,381.8 131.2,382.3 132.0,382.5 132.8,382.4 133.7,381.8 134.1,380.8 134.2,369.3 133.6,368.4 132.4,367.9Z" fill="#fa4ca1"/>
<path d="M135.1,380.6 135.7,381.9 136.8,382.5 145.1,382.5 146.0,382.2 146.6,381.5 146.7,380.2 144.1,369.3 143.6,368.6 141.5,366.7 140.8,366.5 140.0,366.6 136.3,368.0 135.4,369.0Z" fill="#779cee"/>
<path d="M161.8,382.5 164.9,382.5 164.8,369.3 162.2,368.0Z" fill="#84fa88"/>
<path d="M167.4,369.2 166.3,369.8 165.8,370.9 165.9,380.6 166.1,381.5 166.7,382.2 167.6,382.5 173.8,382.5 174.7,382.3 175.5,381.5 175.7,380.7 174.9,370.5 174.0,369.6 171.1,368.7Z" fill="#4fdf44"/>
<path d="M232.9,371.6 230.8,380.9 231.1,381.6 231.6,382.2 232.3,382.5 241.5,382.5 242.5,382.0 242.9,381.2 243.1,377.6 242.5,376.5 236.0,370.8 235.1,370.4 234.4,370.4 233.4,370.9Z" fill="#181be5"/></g>
<rect x="191.8" y="168.4" width="86.5" height="25" fill="#fff"/>
<text x="210.8" y="181.3" class="sb" textLength="46.5" lengthAdjust="spacingAndGlyphs">50 μm</text>
<rect x="198.2" y="187.2" width="71.8" height="2.4" fill="#111"/>
<rect x="193.1" y="355.5" width="84" height="25" fill="#fff"/>
<text x="212.2" y="368.4" class="sb" textLength="48.5" lengthAdjust="spacingAndGlyphs">50 μm</text>
<rect x="200" y="373.6" width="71.8" height="2.7" fill="#111"/>
<defs><clipPath id="ipa"><path d="M214.90,58.80 L263.00,14.10 A211.80,211.80 0 0 1 271.20,58.80 Z"/></clipPath><linearGradient id="ipag0" x1="0" x2="1" y1="0" y2="0"><stop offset="0.000" stop-color="#0200ff"/><stop offset="1.000" stop-color="#0002ff"/></linearGradient><linearGradient id="ipag1" x1="0" x2="1" y1="0" y2="0"><stop offset="0.000" stop-color="#0500ff"/><stop offset="0.500" stop-color="#0000ff"/><stop offset="1.000" stop-color="#0005ff"/></linearGradient><linearGradient id="ipag2" x1="0" x2="1" y1="0" y2="0"><stop offset="0.000" stop-color="#0900ff"/><stop offset="0.500" stop-color="#0102ff"/><stop offset="1.000" stop-color="#0009ff"/></linearGradient><linearGradient id="ipag3" x1="0" x2="1" y1="0" y2="0"><stop offset="0.000" stop-color="#0d00ff"/><stop offset="0.333" stop-color="#0601ff"/><stop offset="0.667" stop-color="#0007ff"/><stop offset="1.000" stop-color="#000eff"/></linearGradient><linearGradient id="ipag4" x1="0" x2="1" y1="0" y2="0"><stop offset="0.000" stop-color="#1200ff"/><stop offset="0.333" stop-color="#0802ff"/><stop offset="0.667" stop-color="#010aff"/><stop offset="1.000" stop-color="#0013ff"/></linearGradient><linearGradient id="ipag5" x1="0" x2="1" y1="0" y2="0"><stop offset="0.000" stop-color="#1800ff"/><stop offset="0.333" stop-color="#0b03ff"/><stop offset="0.667" stop-color="#020dff"/><stop offset="1.000" stop-color="#0019ff"/></linearGradient><linearGradient id="ipag6" x1="0" x2="1" y1="0" y2="0"><stop offset="0.000" stop-color="#1d00ff"/><stop offset="0.250" stop-color="#1202ff"/><stop offset="0.500" stop-color="#080aff"/><stop offset="0.750" stop-color="#0014ff"/><stop offset="1.000" stop-color="#0020ff"/></linearGradient><linearGradient id="ipag7" x1="0" x2="1" y1="0" y2="0"><stop offset="0.000" stop-color="#2400ff"/><stop offset="0.250" stop-color="#1602ff"/><stop offset="0.500" stop-color="#0a0dff"/><stop offset="0.750" stop-color="#0119ff"/><stop offset="1.000" stop-color="#0027ff"/></linearGradient><linearGradient id="ipag8" x1="0" x2="1" y1="0" y2="0"><stop offset="0.000" stop-color="#2b00ff"/><stop offset="0.200" stop-color="#1e02ff"/><stop offset="0.400" stop-color="#120aff"/><stop offset="0.600" stop-color="#0815ff"/><stop offset="0.800" stop-color="#0021ff"/><stop offset="1.000" stop-color="#002eff"/></linearGradient><linearGradient id="ipag9" x1="0" x2="1" y1="0" y2="0"><stop offset="0.000" stop-color="#3300ff"/><stop offset="0.200" stop-color="#2402ff"/><stop offset="0.400" stop-color="#160dff"/><stop offset="0.600" stop-color="#0a19ff"/><stop offset="0.800" stop-color="#0027ff"/><stop offset="1.000" stop-color="#0037ff"/></linearGradient><linearGradient id="ipag10" x1="0" x2="1" y1="0" y2="0"><stop offset="0.000" stop-color="#3b00ff"/><stop offset="0.200" stop-color="#2a03ff"/><stop offset="0.400" stop-color="#1a0fff"/><stop offset="0.600" stop-color="#0c1eff"/><stop offset="0.800" stop-color="#012eff"/><stop offset="1.000" stop-color="#0040ff"/></linearGradient><linearGradient id="ipag11" x1="0" x2="1" y1="0" y2="0"><stop offset="0.000" stop-color="#4500ff"/><stop offset="0.167" stop-color="#3402ff"/><stop offset="0.333" stop-color="#240dff"/><stop offset="0.500" stop-color="#161aff"/><stop offset="0.667" stop-color="#0929ff"/><stop offset="0.833" stop-color="#0039ff"/><stop offset="1.000" stop-color="#004aff"/></linearGradient><linearGradient id="ipag12" x1="0" x2="1" y1="0" y2="0"><stop offset="0.000" stop-color="#4f00ff"/><stop offset="0.167" stop-color="#3c03ff"/><stop offset="0.333" stop-color="#2a0fff"/><stop offset="0.500" stop-color="#1a1eff"/><stop offset="0.667" stop-color="#0b2fff"/><stop offset="0.833" stop-color="#0041ff"/><stop offset="1.000" stop-color="#0054ff"/></linearGradient><linearGradient id="ipag13" x1="0" x2="1" y1="0" y2="0"><stop offset="0.000" stop-color="#5a00ff"/><stop offset="0.167" stop-color="#4404ff"/><stop offset="0.333" stop-color="#3012ff"/><stop offset="0.500" stop-color="#1e23ff"/><stop offset="0.667" stop-color="#0d36ff"/><stop offset="0.833" stop-color="#014aff"/><stop offset="1.000" stop-color="#0060ff"/></linearGradient><linearGradient id="ipag14" x1="0" x2="1" y1="0" y2="0"><stop offset="0.000" stop-color="#6600ff"/><stop offset="0.143" stop-color="#5103ff"/><stop offset="0.286" stop-color="#3d10ff"/><stop offset="0.429" stop-color="#2b1fff"/><stop offset="0.571" stop-color="#1a31ff"/><stop offset="0.714" stop-color="#0b44ff"/><stop offset="0.857" stop-color="#0058ff"/><stop offset="1.000" stop-color="#006dff"/></linearGradient><linearGradient id="ipag15" x1="0" x2="1" y1="0" y2="0"><stop offset="0.000" stop-color="#7300ff"/><stop offset="0.143" stop-color="#5c04ff"/><stop offset="0.286" stop-color="#4612ff"/><stop offset="0.429" stop-color="#3124ff"/><stop offset="0.571" stop-color="#1e38ff"/><stop offset="0.714" stop-color="#0d4dff"/><stop offset="0.857" stop-color="#0063ff"/><stop offset="1.000" stop-color="#007bff"/></linearGradient><linearGradient id="ipag16" x1="0" x2="1" y1="0" y2="0"><stop offset="0.000" stop-color="#8100ff"/><stop offset="0.125" stop-color="#6a03ff"/><stop offset="0.250" stop-color="#5511ff"/><stop offset="0.375" stop-color="#4021ff"/><stop offset="0.500" stop-color="#2d33ff"/><stop offset="0.625" stop-color="#1b47ff"/><stop offset="0.750" stop-color="#0b5cff"/><stop offset="0.875" stop-color="#0073ff"/><stop offset="1.000" stop-color="#008aff"/></linearGradient><linearGradient id="ipag17" x1="0" x2="1" y1="0" y2="0"><stop offset="0.000" stop-color="#9100ff"/><stop offset="0.125" stop-color="#7704ff"/><stop offset="0.250" stop-color="#5f13ff"/><stop offset="0.375" stop-color="#4825ff"/><stop offset="0.500" stop-color="#323aff"/><stop offset="0.625" stop-color="#1f50ff"/><stop offset="0.750" stop-color="#0d68ff"/><stop offset="0.875" stop-color="#0080ff"/><stop offset="1.000" stop-color="#009aff"/></linearGradient><linearGradient id="ipag18" x1="0" x2="1" y1="0" y2="0"><stop offset="0.000" stop-color="#a200ff"/><stop offset="0.125" stop-color="#8605ff"/><stop offset="0.250" stop-color="#6b16ff"/><stop offset="0.375" stop-color="#512aff"/><stop offset="0.500" stop-color="#3941ff"/><stop offset="0.625" stop-color="#235aff"/><stop offset="0.750" stop-color="#0f74ff"/><stop offset="0.875" stop-color="#0090ff"/><stop offset="1.000" stop-color="#00acff"/></linearGradient><linearGradient id="ipag19" x1="0" x2="1" y1="0" y2="0"><stop offset="0.000" stop-color="#b500ff"/><stop offset="0.111" stop-color="#9904ff"/><stop offset="0.222" stop-color="#7e14ff"/><stop offset="0.333" stop-color="#6428ff"/><stop offset="0.444" stop-color="#4c3dff"/><stop offset="0.556" stop-color="#3555ff"/><stop offset="0.667" stop-color="#206eff"/><stop offset="0.778" stop-color="#0d88ff"/><stop offset="0.889" stop-color="#00a4ff"/><stop offset="1.000" stop-color="#00c0ff"/></linearGradient><linearGradient id="ipag20" x1="0" x2="1" y1="0" y2="0"><stop offset="0.000" stop-color="#ca00ff"/><stop offset="0.111" stop-color="#ab05ff"/><stop offset="0.222" stop-color="#8d17ff"/><stop offset="0.333" stop-color="#702dff"/><stop offset="0.444" stop-color="#5545ff"/><stop offset="0.556" stop-color="#3c5fff"/><stop offset="0.667" stop-color="#247bff"/><stop offset="0.778" stop-color="#0f98ff"/><stop offset="0.889" stop-color="#00b6ff"/><stop offset="1.000" stop-color="#00d6ff"/></linearGradient><linearGradient id="ipag21" x1="0" x2="1" y1="0" y2="0"><stop offset="0.000" stop-color="#e100ff"/><stop offset="0.111" stop-color="#bf06ff"/><stop offset="0.222" stop-color="#9e1aff"/><stop offset="0.333" stop-color="#7e32ff"/><stop offset="0.444" stop-color="#5f4dff"/><stop offset="0.556" stop-color="#436aff"/><stop offset="0.667" stop-color="#2989ff"/><stop offset="0.778" stop-color="#12a9ff"/><stop offset="0.889" stop-color="#00cbff"/><stop offset="1.000" stop-color="#00eeff"/></linearGradient><linearGradient id="ipag22" x1="0" x2="1" y1="0" y2="0"><stop offset="0.000" stop-color="#fb00ff"/><stop offset="0.100" stop-color="#d805ff"/><stop offset="0.200" stop-color="#b718ff"/><stop offset="0.300" stop-color="#9730ff"/><stop offset="0.400" stop-color="#784aff"/><stop offset="0.500" stop-color="#5b66ff"/><stop offset="0.600" stop-color="#3f84ff"/><stop offset="0.700" stop-color="#26a3ff"/><stop offset="0.800" stop-color="#10c4ff"/><stop offset="0.900" stop-color="#00e6ff"/><stop offset="1.000" stop-color="#00fff6"/></linearGradient><linearGradient id="ipag23" x1="0" x2="1" y1="0" y2="0"><stop offset="0.000" stop-color="#ff00e9"/><stop offset="0.100" stop-color="#f106ff"/><stop offset="0.200" stop-color="#cc1bff"/><stop offset="0.300" stop-color="#a935ff"/><stop offset="0.400" stop-color="#8652ff"/><stop offset="0.500" stop-color="#6672ff"/><stop offset="0.600" stop-color="#4793ff"/><stop offset="0.700" stop-color="#2bb6ff"/><stop offset="0.800" stop-color="#13daff"/><stop offset="0.900" stop-color="#00ffff"/><stop offset="1.000" stop-color="#00ffdd"/></linearGradient><linearGradient id="ipag24" x1="0" x2="1" y1="0" y2="0"><stop offset="0.000" stop-color="#ff00d1"/><stop offset="0.100" stop-color="#ff06f2"/><stop offset="0.200" stop-color="#e41fff"/><stop offset="0.300" stop-color="#bc3cff"/><stop offset="0.400" stop-color="#965cff"/><stop offset="0.500" stop-color="#727fff"/><stop offset="0.600" stop-color="#50a4ff"/><stop offset="0.700" stop-color="#31caff"/><stop offset="0.800" stop-color="#15f2ff"/><stop offset="0.900" stop-color="#01ffe5"/><stop offset="1.000" stop-color="#00ffc7"/></linearGradient><linearGradient id="ipag25" x1="0" x2="1" y1="0" y2="0"><stop offset="0.000" stop-color="#ff00bb"/><stop offset="0.091" stop-color="#ff05d6"/><stop offset="0.182" stop-color="#ff1df7"/><stop offset="0.273" stop-color="#de3aff"/><stop offset="0.364" stop-color="#b85aff"/><stop offset="0.455" stop-color="#927cff"/><stop offset="0.545" stop-color="#6fa0ff"/><stop offset="0.636" stop-color="#4dc6ff"/><stop offset="0.727" stop-color="#2fedff"/><stop offset="0.818" stop-color="#12ffea"/><stop offset="0.909" stop-color="#00ffcb"/><stop offset="1.000" stop-color="#00ffb3"/></linearGradient><linearGradient id="ipag26" x1="0" x2="1" y1="0" y2="0"><stop offset="0.000" stop-color="#ff00a8"/><stop offset="0.091" stop-color="#ff05bf"/><stop offset="0.182" stop-color="#ff1ddd"/><stop offset="0.273" stop-color="#f941ff"/><stop offset="0.364" stop-color="#ce64ff"/><stop offset="0.455" stop-color="#a48aff"/><stop offset="0.545" stop-color="#7cb3ff"/><stop offset="0.636" stop-color="#57ddff"/><stop offset="0.727" stop-color="#33fff5"/><stop offset="0.818" stop-color="#13ffd2"/><stop offset="0.909" stop-color="#00ffb6"/><stop offset="1.000" stop-color="#00ffa0"/></linearGradient><linearGradient id="ipag27" x1="0" x2="1" y1="0" y2="0"><stop offset="0.000" stop-color="#ff0096"/><stop offset="0.091" stop-color="#ff06ab"/><stop offset="0.182" stop-color="#ff1dc6"/><stop offset="0.273" stop-color="#ff43e9"/><stop offset="0.364" stop-color="#e771ff"/><stop offset="0.455" stop-color="#b89bff"/><stop offset="0.545" stop-color="#8cc8ff"/><stop offset="0.636" stop-color="#63f7ff"/><stop offset="0.727" stop-color="#34ffdc"/><stop offset="0.818" stop-color="#14ffbc"/><stop offset="0.909" stop-color="#01ffa3"/><stop offset="1.000" stop-color="#00ff90"/></linearGradient><linearGradient id="ipag28" x1="0" x2="1" y1="0" y2="0"><stop offset="0.000" stop-color="#ff0086"/><stop offset="0.083" stop-color="#ff0497"/><stop offset="0.167" stop-color="#ff19ac"/><stop offset="0.250" stop-color="#ff38c7"/><stop offset="0.333" stop-color="#ff66eb"/><stop offset="0.417" stop-color="#e59aff"/><stop offset="0.500" stop-color="#b6c7ff"/><stop offset="0.583" stop-color="#8af6ff"/><stop offset="0.667" stop-color="#54ffdd"/><stop offset="0.750" stop-color="#2cffbc"/><stop offset="0.833" stop-color="#10ffa4"/><stop offset="0.917" stop-color="#00ff90"/><stop offset="1.000" stop-color="#00ff81"/></linearGradient><linearGradient id="ipag29" x1="0" x2="1" y1="0" y2="0"><stop offset="0.000" stop-color="#ff0077"/><stop offset="0.083" stop-color="#ff0586"/><stop offset="0.167" stop-color="#ff1999"/><stop offset="0.250" stop-color="#ff38b1"/><stop offset="0.333" stop-color="#ff66d0"/><stop offset="0.417" stop-color="#ffabfc"/><stop offset="0.500" stop-color="#cedfff"/><stop offset="0.583" stop-color="#91ffec"/><stop offset="0.667" stop-color="#55ffc5"/><stop offset="0.750" stop-color="#2cffa8"/><stop offset="0.833" stop-color="#11ff92"/><stop offset="0.917" stop-color="#01ff81"/><stop offset="1.000" stop-color="#00ff73"/></linearGradient><linearGradient id="ipag30" x1="0" x2="1" y1="0" y2="0"><stop offset="0.000" stop-color="#ff006a"/><stop offset="0.077" stop-color="#ff0476"/><stop offset="0.154" stop-color="#ff1584"/><stop offset="0.231" stop-color="#ff3097"/><stop offset="0.308" stop-color="#ff56af"/><stop offset="0.385" stop-color="#ff8dce"/><stop offset="0.462" stop-color="#ffddfa"/><stop offset="0.538" stop-color="#beffe9"/><stop offset="0.615" stop-color="#78ffc2"/><stop offset="0.692" stop-color="#48ffa6"/><stop offset="0.769" stop-color="#26ff90"/><stop offset="0.846" stop-color="#0eff7f"/><stop offset="0.923" stop-color="#00ff71"/><stop offset="1.000" stop-color="#00ff66"/></linearGradient><linearGradient id="ipag31" x1="0" x2="1" y1="0" y2="0"><stop offset="0.000" stop-color="#ff005d"/><stop offset="0.077" stop-color="#ff0468"/><stop offset="0.154" stop-color="#ff1675"/><stop offset="0.231" stop-color="#ff3085"/><stop offset="0.308" stop-color="#ff569a"/><stop offset="0.385" stop-color="#ff8db6"/><stop offset="0.462" stop-color="#ffdcdc"/><stop offset="0.538" stop-color="#bfffce"/><stop offset="0.615" stop-color="#79ffac"/><stop offset="0.692" stop-color="#49ff93"/><stop offset="0.769" stop-color="#27ff80"/><stop offset="0.846" stop-color="#0fff70"/><stop offset="0.923" stop-color="#01ff64"/><stop offset="1.000" stop-color="#00ff5a"/></linearGradient><linearGradient id="ipag32" x1="0" x2="1" y1="0" y2="0"><stop offset="0.000" stop-color="#ff0052"/><stop offset="0.077" stop-color="#ff045b"/><stop offset="0.154" stop-color="#ff1667"/><stop offset="0.231" stop-color="#ff3175"/><stop offset="0.308" stop-color="#ff5687"/><stop offset="0.385" stop-color="#ff8c9f"/><stop offset="0.462" stop-color="#ffdbc1"/><stop offset="0.538" stop-color="#c0ffb5"/><stop offset="0.615" stop-color="#7aff97"/><stop offset="0.692" stop-color="#4aff81"/><stop offset="0.769" stop-color="#27ff70"/><stop offset="0.846" stop-color="#10ff63"/><stop offset="0.923" stop-color="#01ff58"/><stop offset="1.000" stop-color="#00ff4f"/></linearGradient><linearGradient id="ipag33" x1="0" x2="1" y1="0" y2="0"><stop offset="0.000" stop-color="#ff0048"/><stop offset="0.071" stop-color="#ff034f"/><stop offset="0.143" stop-color="#ff1358"/><stop offset="0.214" stop-color="#ff2a63"/><stop offset="0.286" stop-color="#ff4a71"/><stop offset="0.357" stop-color="#ff7783"/><stop offset="0.429" stop-color="#ffb59a"/><stop offset="0.500" stop-color="#f0ffaf"/><stop offset="0.571" stop-color="#a0ff92"/><stop offset="0.643" stop-color="#68ff7d"/><stop offset="0.714" stop-color="#40ff6c"/><stop offset="0.786" stop-color="#22ff60"/><stop offset="0.857" stop-color="#0eff55"/><stop offset="0.929" stop-color="#01ff4d"/><stop offset="1.000" stop-color="#00ff46"/></linearGradient><linearGradient id="ipag34" x1="0" x2="1" y1="0" y2="0"><stop offset="0.000" stop-color="#ff003e"/><stop offset="0.071" stop-color="#ff0445"/><stop offset="0.143" stop-color="#ff134c"/><stop offset="0.214" stop-color="#ff2a56"/><stop offset="0.286" stop-color="#ff4a62"/><stop offset="0.357" stop-color="#ff7771"/><stop offset="0.429" stop-color="#ffb485"/><stop offset="0.500" stop-color="#f1ff98"/><stop offset="0.571" stop-color="#a1ff7f"/><stop offset="0.643" stop-color="#69ff6c"/><stop offset="0.714" stop-color="#40ff5e"/><stop offset="0.786" stop-color="#23ff53"/><stop offset="0.857" stop-color="#0eff4a"/><stop offset="0.929" stop-color="#01ff43"/><stop offset="1.000" stop-color="#00ff3c"/></linearGradient><linearGradient id="ipag35" x1="0" x2="1" y1="0" y2="0"><stop offset="0.000" stop-color="#ff0035"/><stop offset="0.071" stop-color="#ff043b"/><stop offset="0.143" stop-color="#ff1342"/><stop offset="0.214" stop-color="#ff2a4a"/><stop offset="0.286" stop-color="#ff4a54"/><stop offset="0.357" stop-color="#ff7661"/><stop offset="0.429" stop-color="#ffb472"/><stop offset="0.500" stop-color="#f2ff83"/><stop offset="0.571" stop-color="#a2ff6d"/><stop offset="0.643" stop-color="#6aff5d"/><stop offset="0.714" stop-color="#41ff51"/><stop offset="0.786" stop-color="#24ff48"/><stop offset="0.857" stop-color="#0fff40"/><stop offset="0.929" stop-color="#01ff39"/><stop offset="1.000" stop-color="#00ff34"/></linearGradient><linearGradient id="ipag36" x1="0" x2="1" y1="0" y2="0"><stop offset="0.000" stop-color="#ff002d"/><stop offset="0.067" stop-color="#ff0332"/><stop offset="0.133" stop-color="#ff1137"/><stop offset="0.200" stop-color="#ff253d"/><stop offset="0.267" stop-color="#ff4145"/><stop offset="0.333" stop-color="#ff664e"/><stop offset="0.400" stop-color="#ff985b"/><stop offset="0.467" stop-color="#ffde6b"/><stop offset="0.533" stop-color="#caff66"/><stop offset="0.600" stop-color="#8aff57"/><stop offset="0.667" stop-color="#5cff4c"/><stop offset="0.733" stop-color="#39ff43"/><stop offset="0.800" stop-color="#20ff3c"/><stop offset="0.867" stop-color="#0dff36"/><stop offset="0.933" stop-color="#01ff31"/><stop offset="1.000" stop-color="#00ff2c"/></linearGradient><linearGradient id="ipag37" x1="0" x2="1" y1="0" y2="0"><stop offset="0.000" stop-color="#ff0026"/><stop offset="0.067" stop-color="#ff032a"/><stop offset="0.133" stop-color="#ff112e"/><stop offset="0.200" stop-color="#ff2533"/><stop offset="0.267" stop-color="#ff413a"/><stop offset="0.333" stop-color="#ff6642"/><stop offset="0.400" stop-color="#ff984c"/><stop offset="0.467" stop-color="#ffdd59"/><stop offset="0.533" stop-color="#ccff56"/><stop offset="0.600" stop-color="#8bff49"/><stop offset="0.667" stop-color="#5dff40"/><stop offset="0.733" stop-color="#3aff38"/><stop offset="0.800" stop-color="#20ff32"/><stop offset="0.867" stop-color="#0eff2d"/><stop offset="0.933" stop-color="#01ff29"/><stop offset="1.000" stop-color="#00ff25"/></linearGradient><linearGradient id="ipag38" x1="0" x2="1" y1="0" y2="0"><stop offset="0.000" stop-color="#ff001f"/><stop offset="0.067" stop-color="#ff0322"/><stop offset="0.133" stop-color="#ff1126"/><stop offset="0.200" stop-color="#ff252a"/><stop offset="0.267" stop-color="#ff412f"/><stop offset="0.333" stop-color="#ff6636"/><stop offset="0.400" stop-color="#ff973e"/><stop offset="0.467" stop-color="#ffdc49"/><stop offset="0.533" stop-color="#cdff47"/><stop offset="0.600" stop-color="#8cff3c"/><stop offset="0.667" stop-color="#5eff35"/><stop offset="0.733" stop-color="#3bff2e"/><stop offset="0.800" stop-color="#21ff29"/><stop offset="0.867" stop-color="#0eff25"/><stop offset="0.933" stop-color="#02ff22"/><stop offset="1.000" stop-color="#00ff1f"/></linearGradient><linearGradient id="ipag39" x1="0" x2="1" y1="0" y2="0"><stop offset="0.000" stop-color="#ff0019"/><stop offset="0.062" stop-color="#ff031c"/><stop offset="0.125" stop-color="#ff0f1e"/><stop offset="0.188" stop-color="#ff2121"/><stop offset="0.250" stop-color="#ff3925"/><stop offset="0.312" stop-color="#ff592a"/><stop offset="0.375" stop-color="#ff832f"/><stop offset="0.438" stop-color="#ffba37"/><stop offset="0.500" stop-color="#f7ff3e"/><stop offset="0.562" stop-color="#afff35"/><stop offset="0.625" stop-color="#7aff2e"/><stop offset="0.688" stop-color="#53ff29"/><stop offset="0.750" stop-color="#34ff24"/><stop offset="0.812" stop-color="#1eff21"/><stop offset="0.875" stop-color="#0dff1e"/><stop offset="0.938" stop-color="#01ff1b"/><stop offset="1.000" stop-color="#00ff19"/></linearGradient><linearGradient id="ipag40" x1="0" x2="1" y1="0" y2="0"><stop offset="0.000" stop-color="#ff0014"/><stop offset="0.062" stop-color="#ff0316"/><stop offset="0.125" stop-color="#ff0f18"/><stop offset="0.188" stop-color="#ff211a"/><stop offset="0.250" stop-color="#ff391d"/><stop offset="0.312" stop-color="#ff5920"/><stop offset="0.375" stop-color="#ff8225"/><stop offset="0.438" stop-color="#ffba2b"/><stop offset="0.500" stop-color="#f8ff31"/><stop offset="0.562" stop-color="#b0ff2a"/><stop offset="0.625" stop-color="#7bff24"/><stop offset="0.688" stop-color="#53ff20"/><stop offset="0.750" stop-color="#35ff1c"/><stop offset="0.812" stop-color="#1eff1a"/><stop offset="0.875" stop-color="#0dff17"/><stop offset="0.938" stop-color="#02ff15"/><stop offset="1.000" stop-color="#00ff14"/></linearGradient><linearGradient id="ipag41" x1="0" x2="1" y1="0" y2="0"><stop offset="0.000" stop-color="#ff000f"/><stop offset="0.062" stop-color="#ff0310"/><stop offset="0.125" stop-color="#ff1012"/><stop offset="0.188" stop-color="#ff2113"/><stop offset="0.250" stop-color="#ff3916"/><stop offset="0.312" stop-color="#ff5918"/><stop offset="0.375" stop-color="#ff821c"/><stop offset="0.438" stop-color="#ffb920"/><stop offset="0.500" stop-color="#faff24"/><stop offset="0.562" stop-color="#b1ff1f"/><stop offset="0.625" stop-color="#7cff1b"/><stop offset="0.688" stop-color="#54ff18"/><stop offset="0.750" stop-color="#36ff15"/><stop offset="0.812" stop-color="#1fff13"/><stop offset="0.875" stop-color="#0eff11"/><stop offset="0.938" stop-color="#02ff10"/><stop offset="1.000" stop-color="#00ff0f"/></linearGradient><linearGradient id="ipag42" x1="0" x2="1" y1="0" y2="0"><stop offset="0.000" stop-color="#ff000a"/><stop offset="0.059" stop-color="#ff030b"/><stop offset="0.118" stop-color="#ff0e0c"/><stop offset="0.176" stop-color="#ff1e0d"/><stop offset="0.235" stop-color="#ff330f"/><stop offset="0.294" stop-color="#ff4e10"/><stop offset="0.353" stop-color="#ff7212"/><stop offset="0.412" stop-color="#ffa015"/><stop offset="0.471" stop-color="#ffdd18"/><stop offset="0.529" stop-color="#d6ff18"/><stop offset="0.588" stop-color="#9bff15"/><stop offset="0.647" stop-color="#6eff12"/><stop offset="0.706" stop-color="#4bff10"/><stop offset="0.765" stop-color="#31ff0f"/><stop offset="0.824" stop-color="#1cff0d"/><stop offset="0.882" stop-color="#0dff0c"/><stop offset="0.941" stop-color="#02ff0b"/><stop offset="1.000" stop-color="#00ff0a"/></linearGradient><linearGradient id="ipag43" x1="0" x2="1" y1="0" y2="0"><stop offset="0.000" stop-color="#ff0006"/><stop offset="0.059" stop-color="#ff0307"/><stop offset="0.118" stop-color="#ff0e08"/><stop offset="0.176" stop-color="#ff1e08"/><stop offset="0.235" stop-color="#ff3309"/><stop offset="0.294" stop-color="#ff4e0a"/><stop offset="0.353" stop-color="#ff710b"/><stop offset="0.412" stop-color="#ff9f0d"/><stop offset="0.471" stop-color="#ffdc0f"/><stop offset="0.529" stop-color="#d7ff0f"/><stop offset="0.588" stop-color="#9cff0d"/><stop offset="0.647" stop-color="#6fff0b"/><stop offset="0.706" stop-color="#4cff0a"/><stop offset="0.765" stop-color="#31ff09"/><stop offset="0.824" stop-color="#1dff08"/><stop offset="0.882" stop-color="#0dff07"/><stop offset="0.941" stop-color="#02ff07"/><stop offset="1.000" stop-color="#00ff06"/></linearGradient><linearGradient id="ipag44" x1="0" x2="1" y1="0" y2="0"><stop offset="0.000" stop-color="#ff0003"/><stop offset="0.059" stop-color="#ff0303"/><stop offset="0.118" stop-color="#ff0e04"/><stop offset="0.176" stop-color="#ff1e04"/><stop offset="0.235" stop-color="#ff3304"/><stop offset="0.294" stop-color="#ff4e05"/><stop offset="0.353" stop-color="#ff7105"/><stop offset="0.412" stop-color="#ff9f06"/><stop offset="0.471" stop-color="#ffdb07"/><stop offset="0.529" stop-color="#d8ff07"/><stop offset="0.588" stop-color="#9dff06"/><stop offset="0.647" stop-color="#70ff05"/><stop offset="0.706" stop-color="#4dff05"/><stop offset="0.765" stop-color="#32ff04"/><stop offset="0.824" stop-color="#1dff04"/><stop offset="0.882" stop-color="#0eff04"/><stop offset="0.941" stop-color="#03ff03"/><stop offset="1.000" stop-color="#00ff03"/></linearGradient><linearGradient id="ipag45" x1="0" x2="1" y1="0" y2="0"><stop offset="0.000" stop-color="#ff0000"/><stop offset="0.056" stop-color="#ff0201"/><stop offset="0.111" stop-color="#ff0d01"/><stop offset="0.167" stop-color="#ff1b01"/><stop offset="0.222" stop-color="#ff2e01"/><stop offset="0.278" stop-color="#ff4601"/><stop offset="0.333" stop-color="#ff6401"/><stop offset="0.389" stop-color="#ff8b01"/><stop offset="0.444" stop-color="#ffbd01"/><stop offset="0.500" stop-color="#ffff01"/><stop offset="0.556" stop-color="#bdff01"/><stop offset="0.611" stop-color="#8bff01"/><stop offset="0.667" stop-color="#64ff01"/><stop offset="0.722" stop-color="#46ff01"/><stop offset="0.778" stop-color="#2eff01"/><stop offset="0.833" stop-color="#1bff01"/><stop offset="0.889" stop-color="#0dff01"/><stop offset="0.944" stop-color="#02ff01"/><stop offset="1.000" stop-color="#00ff00"/></linearGradient></defs>
<g clip-path="url(#ipa)" shape-rendering="crispEdges"><rect x="261.65" y="13" width="3.18" height="1" fill="url(#ipag0)"/><rect x="260.57" y="14" width="4.55" height="1" fill="url(#ipag1)"/><rect x="259.49" y="15" width="5.92" height="1" fill="url(#ipag2)"/><rect x="258.42" y="16" width="7.28" height="1" fill="url(#ipag3)"/><rect x="257.34" y="17" width="8.64" height="1" fill="url(#ipag4)"/><rect x="256.27" y="18" width="9.99" height="1" fill="url(#ipag5)"/><rect x="255.19" y="19" width="11.34" height="1" fill="url(#ipag6)"/><rect x="254.11" y="20" width="12.68" height="1" fill="url(#ipag7)"/><rect x="253.04" y="21" width="14.02" height="1" fill="url(#ipag8)"/><rect x="251.96" y="22" width="15.35" height="1" fill="url(#ipag9)"/><rect x="250.89" y="23" width="16.68" height="1" fill="url(#ipag10)"/><rect x="249.81" y="24" width="18.00" height="1" fill="url(#ipag11)"/><rect x="248.73" y="25" width="19.31" height="1" fill="url(#ipag12)"/><rect x="247.66" y="26" width="20.62" height="1" fill="url(#ipag13)"/><rect x="246.58" y="27" width="21.93" height="1" fill="url(#ipag14)"/><rect x="245.50" y="28" width="23.23" height="1" fill="url(#ipag15)"/><rect x="244.43" y="29" width="24.53" height="1" fill="url(#ipag16)"/><rect x="243.35" y="30" width="25.82" height="1" fill="url(#ipag17)"/><rect x="242.28" y="31" width="27.10" height="1" fill="url(#ipag18)"/><rect x="241.20" y="32" width="28.38" height="1" fill="url(#ipag19)"/><rect x="240.12" y="33" width="29.66" height="1" fill="url(#ipag20)"/><rect x="239.05" y="34" width="30.93" height="1" fill="url(#ipag21)"/><rect x="237.97" y="35" width="32.20" height="1" fill="url(#ipag22)"/><rect x="236.90" y="36" width="33.46" height="1" fill="url(#ipag23)"/><rect x="235.82" y="37" width="34.71" height="1" fill="url(#ipag24)"/><rect x="234.74" y="38" width="35.96" height="1" fill="url(#ipag25)"/><rect x="233.67" y="39" width="37.21" height="1" fill="url(#ipag26)"/><rect x="232.59" y="40" width="38.45" height="1" fill="url(#ipag27)"/><rect x="231.52" y="41" width="39.68" height="1" fill="url(#ipag28)"/><rect x="230.44" y="42" width="40.92" height="1" fill="url(#ipag29)"/><rect x="229.36" y="43" width="42.14" height="1" fill="url(#ipag30)"/><rect x="228.29" y="44" width="43.36" height="1" fill="url(#ipag31)"/><rect x="227.21" y="45" width="44.58" height="1" fill="url(#ipag32)"/><rect x="226.14" y="46" width="45.79" height="1" fill="url(#ipag33)"/><rect x="225.06" y="47" width="47.00" height="1" fill="url(#ipag34)"/><rect x="223.98" y="48" width="48.20" height="1" fill="url(#ipag35)"/><rect x="222.91" y="49" width="49.40" height="1" fill="url(#ipag36)"/><rect x="221.83" y="50" width="50.59" height="1" fill="url(#ipag37)"/><rect x="220.76" y="51" width="51.78" height="1" fill="url(#ipag38)"/><rect x="219.68" y="52" width="52.96" height="1" fill="url(#ipag39)"/><rect x="218.60" y="53" width="54.14" height="1" fill="url(#ipag40)"/><rect x="217.53" y="54" width="55.31" height="1" fill="url(#ipag41)"/><rect x="216.45" y="55" width="56.48" height="1" fill="url(#ipag42)"/><rect x="215.37" y="56" width="57.64" height="1" fill="url(#ipag43)"/><rect x="214.30" y="57" width="58.80" height="1" fill="url(#ipag44)"/><rect x="213.22" y="58" width="59.95" height="1" fill="url(#ipag45)"/></g>
<defs><clipPath id="ipc"><path d="M217.30,244.80 L265.80,200.30 A200.63,200.63 0 0 1 274.40,244.80 Z"/></clipPath><linearGradient id="ipcg0" x1="0" x2="1" y1="0" y2="0"><stop offset="0.000" stop-color="#0200ff"/><stop offset="1.000" stop-color="#0001ff"/></linearGradient><linearGradient id="ipcg1" x1="0" x2="1" y1="0" y2="0"><stop offset="0.000" stop-color="#0500ff"/><stop offset="0.500" stop-color="#0000ff"/><stop offset="1.000" stop-color="#0005ff"/></linearGradient><linearGradient id="ipcg2" x1="0" x2="1" y1="0" y2="0"><stop offset="0.000" stop-color="#0800ff"/><stop offset="0.500" stop-color="#0101ff"/><stop offset="1.000" stop-color="#0009ff"/></linearGradient><linearGradient id="ipcg3" x1="0" x2="1" y1="0" y2="0"><stop offset="0.000" stop-color="#0c00ff"/><stop offset="0.333" stop-color="#0500ff"/><stop offset="0.667" stop-color="#0006ff"/><stop offset="1.000" stop-color="#000dff"/></linearGradient><linearGradient id="ipcg4" x1="0" x2="1" y1="0" y2="0"><stop offset="0.000" stop-color="#1100ff"/><stop offset="0.333" stop-color="#0801ff"/><stop offset="0.667" stop-color="#0109ff"/><stop offset="1.000" stop-color="#0012ff"/></linearGradient><linearGradient id="ipcg5" x1="0" x2="1" y1="0" y2="0"><stop offset="0.000" stop-color="#1600ff"/><stop offset="0.333" stop-color="#0b03ff"/><stop offset="0.667" stop-color="#010cff"/><stop offset="1.000" stop-color="#0018ff"/></linearGradient><linearGradient id="ipcg6" x1="0" x2="1" y1="0" y2="0"><stop offset="0.000" stop-color="#1c00ff"/><stop offset="0.250" stop-color="#1101ff"/><stop offset="0.500" stop-color="#0809ff"/><stop offset="0.750" stop-color="#0013ff"/><stop offset="1.000" stop-color="#001eff"/></linearGradient><linearGradient id="ipcg7" x1="0" x2="1" y1="0" y2="0"><stop offset="0.000" stop-color="#2300ff"/><stop offset="0.250" stop-color="#1602ff"/><stop offset="0.500" stop-color="#0a0cff"/><stop offset="0.750" stop-color="#0118ff"/><stop offset="1.000" stop-color="#0025ff"/></linearGradient><linearGradient id="ipcg8" x1="0" x2="1" y1="0" y2="0"><stop offset="0.000" stop-color="#2a00ff"/><stop offset="0.250" stop-color="#1a03ff"/><stop offset="0.500" stop-color="#0c0fff"/><stop offset="0.750" stop-color="#011dff"/><stop offset="1.000" stop-color="#002dff"/></linearGradient><linearGradient id="ipcg9" x1="0" x2="1" y1="0" y2="0"><stop offset="0.000" stop-color="#3100ff"/><stop offset="0.200" stop-color="#2302ff"/><stop offset="0.400" stop-color="#150cff"/><stop offset="0.600" stop-color="#0919ff"/><stop offset="0.800" stop-color="#0026ff"/><stop offset="1.000" stop-color="#0035ff"/></linearGradient><linearGradient id="ipcg10" x1="0" x2="1" y1="0" y2="0"><stop offset="0.000" stop-color="#3a00ff"/><stop offset="0.200" stop-color="#2903ff"/><stop offset="0.400" stop-color="#190fff"/><stop offset="0.600" stop-color="#0c1dff"/><stop offset="0.800" stop-color="#012dff"/><stop offset="1.000" stop-color="#003eff"/></linearGradient><linearGradient id="ipcg11" x1="0" x2="1" y1="0" y2="0"><stop offset="0.000" stop-color="#4300ff"/><stop offset="0.167" stop-color="#3302ff"/><stop offset="0.333" stop-color="#230dff"/><stop offset="0.500" stop-color="#151aff"/><stop offset="0.667" stop-color="#0928ff"/><stop offset="0.833" stop-color="#0038ff"/><stop offset="1.000" stop-color="#0048ff"/></linearGradient><linearGradient id="ipcg12" x1="0" x2="1" y1="0" y2="0"><stop offset="0.000" stop-color="#4d00ff"/><stop offset="0.167" stop-color="#3a03ff"/><stop offset="0.333" stop-color="#290fff"/><stop offset="0.500" stop-color="#191eff"/><stop offset="0.667" stop-color="#0b2eff"/><stop offset="0.833" stop-color="#0040ff"/><stop offset="1.000" stop-color="#0053ff"/></linearGradient><linearGradient id="ipcg13" x1="0" x2="1" y1="0" y2="0"><stop offset="0.000" stop-color="#5800ff"/><stop offset="0.167" stop-color="#4304ff"/><stop offset="0.333" stop-color="#2f12ff"/><stop offset="0.500" stop-color="#1d22ff"/><stop offset="0.667" stop-color="#0d35ff"/><stop offset="0.833" stop-color="#0149ff"/><stop offset="1.000" stop-color="#005eff"/></linearGradient><linearGradient id="ipcg14" x1="0" x2="1" y1="0" y2="0"><stop offset="0.000" stop-color="#6400ff"/><stop offset="0.143" stop-color="#4f03ff"/><stop offset="0.286" stop-color="#3c10ff"/><stop offset="0.429" stop-color="#2a1fff"/><stop offset="0.571" stop-color="#1930ff"/><stop offset="0.714" stop-color="#0b43ff"/><stop offset="0.857" stop-color="#0056ff"/><stop offset="1.000" stop-color="#006bff"/></linearGradient><linearGradient id="ipcg15" x1="0" x2="1" y1="0" y2="0"><stop offset="0.000" stop-color="#7100ff"/><stop offset="0.143" stop-color="#5a04ff"/><stop offset="0.286" stop-color="#4412ff"/><stop offset="0.429" stop-color="#3023ff"/><stop offset="0.571" stop-color="#1d37ff"/><stop offset="0.714" stop-color="#0d4cff"/><stop offset="0.857" stop-color="#0062ff"/><stop offset="1.000" stop-color="#0079ff"/></linearGradient><linearGradient id="ipcg16" x1="0" x2="1" y1="0" y2="0"><stop offset="0.000" stop-color="#7f00ff"/><stop offset="0.125" stop-color="#6903ff"/><stop offset="0.250" stop-color="#5310ff"/><stop offset="0.375" stop-color="#3f21ff"/><stop offset="0.500" stop-color="#2c33ff"/><stop offset="0.625" stop-color="#1a46ff"/><stop offset="0.750" stop-color="#0b5bff"/><stop offset="0.875" stop-color="#0071ff"/><stop offset="1.000" stop-color="#0088ff"/></linearGradient><linearGradient id="ipcg17" x1="0" x2="1" y1="0" y2="0"><stop offset="0.000" stop-color="#8e00ff"/><stop offset="0.125" stop-color="#7504ff"/><stop offset="0.250" stop-color="#5e13ff"/><stop offset="0.375" stop-color="#4725ff"/><stop offset="0.500" stop-color="#3239ff"/><stop offset="0.625" stop-color="#1e4fff"/><stop offset="0.750" stop-color="#0d66ff"/><stop offset="0.875" stop-color="#007fff"/><stop offset="1.000" stop-color="#0098ff"/></linearGradient><linearGradient id="ipcg18" x1="0" x2="1" y1="0" y2="0"><stop offset="0.000" stop-color="#a000ff"/><stop offset="0.125" stop-color="#8405ff"/><stop offset="0.250" stop-color="#6915ff"/><stop offset="0.375" stop-color="#502aff"/><stop offset="0.500" stop-color="#3840ff"/><stop offset="0.625" stop-color="#2259ff"/><stop offset="0.750" stop-color="#0f73ff"/><stop offset="0.875" stop-color="#008eff"/><stop offset="1.000" stop-color="#00aaff"/></linearGradient><linearGradient id="ipcg19" x1="0" x2="1" y1="0" y2="0"><stop offset="0.000" stop-color="#b200ff"/><stop offset="0.111" stop-color="#9704ff"/><stop offset="0.222" stop-color="#7c14ff"/><stop offset="0.333" stop-color="#6327ff"/><stop offset="0.444" stop-color="#4b3dff"/><stop offset="0.556" stop-color="#3454ff"/><stop offset="0.667" stop-color="#1f6dff"/><stop offset="0.778" stop-color="#0d87ff"/><stop offset="0.889" stop-color="#00a2ff"/><stop offset="1.000" stop-color="#00beff"/></linearGradient><linearGradient id="ipcg20" x1="0" x2="1" y1="0" y2="0"><stop offset="0.000" stop-color="#c700ff"/><stop offset="0.111" stop-color="#a905ff"/><stop offset="0.222" stop-color="#8b16ff"/><stop offset="0.333" stop-color="#6f2cff"/><stop offset="0.444" stop-color="#5444ff"/><stop offset="0.556" stop-color="#3b5eff"/><stop offset="0.667" stop-color="#237aff"/><stop offset="0.778" stop-color="#0f96ff"/><stop offset="0.889" stop-color="#00b4ff"/><stop offset="1.000" stop-color="#00d3ff"/></linearGradient><linearGradient id="ipcg21" x1="0" x2="1" y1="0" y2="0"><stop offset="0.000" stop-color="#de00ff"/><stop offset="0.111" stop-color="#bc06ff"/><stop offset="0.222" stop-color="#9b19ff"/><stop offset="0.333" stop-color="#7c32ff"/><stop offset="0.444" stop-color="#5e4cff"/><stop offset="0.556" stop-color="#4269ff"/><stop offset="0.667" stop-color="#2888ff"/><stop offset="0.778" stop-color="#11a8ff"/><stop offset="0.889" stop-color="#00c9ff"/><stop offset="1.000" stop-color="#00ebff"/></linearGradient><linearGradient id="ipcg22" x1="0" x2="1" y1="0" y2="0"><stop offset="0.000" stop-color="#f800ff"/><stop offset="0.100" stop-color="#d605ff"/><stop offset="0.200" stop-color="#b518ff"/><stop offset="0.300" stop-color="#952fff"/><stop offset="0.400" stop-color="#7749ff"/><stop offset="0.500" stop-color="#5a65ff"/><stop offset="0.600" stop-color="#3e83ff"/><stop offset="0.700" stop-color="#25a2ff"/><stop offset="0.800" stop-color="#10c2ff"/><stop offset="0.900" stop-color="#00e3ff"/><stop offset="1.000" stop-color="#00fff9"/></linearGradient><linearGradient id="ipcg23" x1="0" x2="1" y1="0" y2="0"><stop offset="0.000" stop-color="#ff00ec"/><stop offset="0.100" stop-color="#ee06ff"/><stop offset="0.200" stop-color="#ca1bff"/><stop offset="0.300" stop-color="#a735ff"/><stop offset="0.400" stop-color="#8552ff"/><stop offset="0.500" stop-color="#6571ff"/><stop offset="0.600" stop-color="#4692ff"/><stop offset="0.700" stop-color="#2bb4ff"/><stop offset="0.800" stop-color="#12d8ff"/><stop offset="0.900" stop-color="#00fdff"/><stop offset="1.000" stop-color="#00ffe0"/></linearGradient><linearGradient id="ipcg24" x1="0" x2="1" y1="0" y2="0"><stop offset="0.000" stop-color="#ff00d3"/><stop offset="0.091" stop-color="#ff05f1"/><stop offset="0.182" stop-color="#e91aff"/><stop offset="0.273" stop-color="#c533ff"/><stop offset="0.364" stop-color="#a24fff"/><stop offset="0.455" stop-color="#816eff"/><stop offset="0.545" stop-color="#618eff"/><stop offset="0.636" stop-color="#44b0ff"/><stop offset="0.727" stop-color="#28d3ff"/><stop offset="0.818" stop-color="#11f8ff"/><stop offset="0.909" stop-color="#00ffe4"/><stop offset="1.000" stop-color="#00ffc9"/></linearGradient><linearGradient id="ipcg25" x1="0" x2="1" y1="0" y2="0"><stop offset="0.000" stop-color="#ff00bd"/><stop offset="0.091" stop-color="#ff05d8"/><stop offset="0.182" stop-color="#ff1dfa"/><stop offset="0.273" stop-color="#dc3aff"/><stop offset="0.364" stop-color="#b559ff"/><stop offset="0.455" stop-color="#907bff"/><stop offset="0.545" stop-color="#6d9fff"/><stop offset="0.636" stop-color="#4cc4ff"/><stop offset="0.727" stop-color="#2eebff"/><stop offset="0.818" stop-color="#12ffec"/><stop offset="0.909" stop-color="#00ffcd"/><stop offset="1.000" stop-color="#00ffb4"/></linearGradient><linearGradient id="ipcg26" x1="0" x2="1" y1="0" y2="0"><stop offset="0.000" stop-color="#ff00a9"/><stop offset="0.091" stop-color="#ff05c1"/><stop offset="0.182" stop-color="#ff1de0"/><stop offset="0.273" stop-color="#f641ff"/><stop offset="0.364" stop-color="#cb64ff"/><stop offset="0.455" stop-color="#a289ff"/><stop offset="0.545" stop-color="#7bb1ff"/><stop offset="0.636" stop-color="#56dbff"/><stop offset="0.727" stop-color="#33fff8"/><stop offset="0.818" stop-color="#13ffd3"/><stop offset="0.909" stop-color="#00ffb8"/><stop offset="1.000" stop-color="#00ffa2"/></linearGradient><linearGradient id="ipcg27" x1="0" x2="1" y1="0" y2="0"><stop offset="0.000" stop-color="#ff0097"/><stop offset="0.083" stop-color="#ff04ab"/><stop offset="0.167" stop-color="#ff19c3"/><stop offset="0.250" stop-color="#ff38e2"/><stop offset="0.333" stop-color="#f462ff"/><stop offset="0.417" stop-color="#c988ff"/><stop offset="0.500" stop-color="#a0b0ff"/><stop offset="0.583" stop-color="#79daff"/><stop offset="0.667" stop-color="#53fff9"/><stop offset="0.750" stop-color="#2affd5"/><stop offset="0.833" stop-color="#0fffb9"/><stop offset="0.917" stop-color="#00ffa3"/><stop offset="1.000" stop-color="#00ff91"/></linearGradient><linearGradient id="ipcg28" x1="0" x2="1" y1="0" y2="0"><stop offset="0.000" stop-color="#ff0087"/><stop offset="0.083" stop-color="#ff0598"/><stop offset="0.167" stop-color="#ff19ad"/><stop offset="0.250" stop-color="#ff38c9"/><stop offset="0.333" stop-color="#ff67ed"/><stop offset="0.417" stop-color="#e299ff"/><stop offset="0.500" stop-color="#b4c5ff"/><stop offset="0.583" stop-color="#89f4ff"/><stop offset="0.667" stop-color="#54ffde"/><stop offset="0.750" stop-color="#2bffbe"/><stop offset="0.833" stop-color="#10ffa5"/><stop offset="0.917" stop-color="#00ff91"/><stop offset="1.000" stop-color="#00ff82"/></linearGradient><linearGradient id="ipcg29" x1="0" x2="1" y1="0" y2="0"><stop offset="0.000" stop-color="#ff0078"/><stop offset="0.083" stop-color="#ff0587"/><stop offset="0.167" stop-color="#ff199a"/><stop offset="0.250" stop-color="#ff39b2"/><stop offset="0.333" stop-color="#ff67d2"/><stop offset="0.417" stop-color="#ffacff"/><stop offset="0.500" stop-color="#ccdeff"/><stop offset="0.583" stop-color="#90ffed"/><stop offset="0.667" stop-color="#55ffc6"/><stop offset="0.750" stop-color="#2cffa9"/><stop offset="0.833" stop-color="#11ff93"/><stop offset="0.917" stop-color="#00ff82"/><stop offset="1.000" stop-color="#00ff74"/></linearGradient><linearGradient id="ipcg30" x1="0" x2="1" y1="0" y2="0"><stop offset="0.000" stop-color="#ff006b"/><stop offset="0.077" stop-color="#ff0477"/><stop offset="0.154" stop-color="#ff1686"/><stop offset="0.231" stop-color="#ff3098"/><stop offset="0.308" stop-color="#ff57b1"/><stop offset="0.385" stop-color="#ff8dd0"/><stop offset="0.462" stop-color="#ffdefc"/><stop offset="0.538" stop-color="#bdffeb"/><stop offset="0.615" stop-color="#78ffc4"/><stop offset="0.692" stop-color="#47ffa7"/><stop offset="0.769" stop-color="#26ff91"/><stop offset="0.846" stop-color="#0eff80"/><stop offset="0.923" stop-color="#00ff72"/><stop offset="1.000" stop-color="#00ff67"/></linearGradient><linearGradient id="ipcg31" x1="0" x2="1" y1="0" y2="0"><stop offset="0.000" stop-color="#ff005e"/><stop offset="0.077" stop-color="#ff0469"/><stop offset="0.154" stop-color="#ff1676"/><stop offset="0.231" stop-color="#ff3186"/><stop offset="0.308" stop-color="#ff579c"/><stop offset="0.385" stop-color="#ff8db8"/><stop offset="0.462" stop-color="#ffddde"/><stop offset="0.538" stop-color="#beffd0"/><stop offset="0.615" stop-color="#79ffad"/><stop offset="0.692" stop-color="#48ff94"/><stop offset="0.769" stop-color="#26ff80"/><stop offset="0.846" stop-color="#0fff71"/><stop offset="0.923" stop-color="#00ff65"/><stop offset="1.000" stop-color="#00ff5b"/></linearGradient><linearGradient id="ipcg32" x1="0" x2="1" y1="0" y2="0"><stop offset="0.000" stop-color="#ff0053"/><stop offset="0.077" stop-color="#ff045c"/><stop offset="0.154" stop-color="#ff1668"/><stop offset="0.231" stop-color="#ff3176"/><stop offset="0.308" stop-color="#ff5788"/><stop offset="0.385" stop-color="#ff8da1"/><stop offset="0.462" stop-color="#ffdcc2"/><stop offset="0.538" stop-color="#c0ffb7"/><stop offset="0.615" stop-color="#7aff98"/><stop offset="0.692" stop-color="#49ff82"/><stop offset="0.769" stop-color="#27ff71"/><stop offset="0.846" stop-color="#10ff64"/><stop offset="0.923" stop-color="#01ff59"/><stop offset="1.000" stop-color="#00ff50"/></linearGradient><linearGradient id="ipcg33" x1="0" x2="1" y1="0" y2="0"><stop offset="0.000" stop-color="#ff0048"/><stop offset="0.071" stop-color="#ff0450"/><stop offset="0.143" stop-color="#ff1359"/><stop offset="0.214" stop-color="#ff2a64"/><stop offset="0.286" stop-color="#ff4b72"/><stop offset="0.357" stop-color="#ff7784"/><stop offset="0.429" stop-color="#ffb59b"/><stop offset="0.500" stop-color="#efffb1"/><stop offset="0.571" stop-color="#a0ff93"/><stop offset="0.643" stop-color="#68ff7e"/><stop offset="0.714" stop-color="#3fff6d"/><stop offset="0.786" stop-color="#22ff60"/><stop offset="0.857" stop-color="#0dff56"/><stop offset="0.929" stop-color="#00ff4d"/><stop offset="1.000" stop-color="#00ff46"/></linearGradient><linearGradient id="ipcg34" x1="0" x2="1" y1="0" y2="0"><stop offset="0.000" stop-color="#ff003f"/><stop offset="0.071" stop-color="#ff0445"/><stop offset="0.143" stop-color="#ff134d"/><stop offset="0.214" stop-color="#ff2a57"/><stop offset="0.286" stop-color="#ff4b63"/><stop offset="0.357" stop-color="#ff7772"/><stop offset="0.429" stop-color="#ffb586"/><stop offset="0.500" stop-color="#f1ff99"/><stop offset="0.571" stop-color="#a1ff80"/><stop offset="0.643" stop-color="#69ff6d"/><stop offset="0.714" stop-color="#40ff5f"/><stop offset="0.786" stop-color="#23ff54"/><stop offset="0.857" stop-color="#0eff4b"/><stop offset="0.929" stop-color="#01ff43"/><stop offset="1.000" stop-color="#00ff3d"/></linearGradient><linearGradient id="ipcg35" x1="0" x2="1" y1="0" y2="0"><stop offset="0.000" stop-color="#ff0036"/><stop offset="0.071" stop-color="#ff043b"/><stop offset="0.143" stop-color="#ff1342"/><stop offset="0.214" stop-color="#ff2b4a"/><stop offset="0.286" stop-color="#ff4b55"/><stop offset="0.357" stop-color="#ff7762"/><stop offset="0.429" stop-color="#ffb473"/><stop offset="0.500" stop-color="#f2ff84"/><stop offset="0.571" stop-color="#a2ff6e"/><stop offset="0.643" stop-color="#6aff5e"/><stop offset="0.714" stop-color="#41ff52"/><stop offset="0.786" stop-color="#24ff48"/><stop offset="0.857" stop-color="#0fff40"/><stop offset="0.929" stop-color="#01ff3a"/><stop offset="1.000" stop-color="#00ff34"/></linearGradient><linearGradient id="ipcg36" x1="0" x2="1" y1="0" y2="0"><stop offset="0.000" stop-color="#ff002e"/><stop offset="0.067" stop-color="#ff0332"/><stop offset="0.133" stop-color="#ff1137"/><stop offset="0.200" stop-color="#ff253e"/><stop offset="0.267" stop-color="#ff4145"/><stop offset="0.333" stop-color="#ff664f"/><stop offset="0.400" stop-color="#ff995b"/><stop offset="0.467" stop-color="#ffde6b"/><stop offset="0.533" stop-color="#caff67"/><stop offset="0.600" stop-color="#8aff58"/><stop offset="0.667" stop-color="#5cff4c"/><stop offset="0.733" stop-color="#39ff43"/><stop offset="0.800" stop-color="#20ff3c"/><stop offset="0.867" stop-color="#0dff36"/><stop offset="0.933" stop-color="#01ff31"/><stop offset="1.000" stop-color="#00ff2d"/></linearGradient><linearGradient id="ipcg37" x1="0" x2="1" y1="0" y2="0"><stop offset="0.000" stop-color="#ff0026"/><stop offset="0.067" stop-color="#ff032a"/><stop offset="0.133" stop-color="#ff112e"/><stop offset="0.200" stop-color="#ff2634"/><stop offset="0.267" stop-color="#ff413a"/><stop offset="0.333" stop-color="#ff6642"/><stop offset="0.400" stop-color="#ff984c"/><stop offset="0.467" stop-color="#ffdd5a"/><stop offset="0.533" stop-color="#cbff56"/><stop offset="0.600" stop-color="#8bff4a"/><stop offset="0.667" stop-color="#5dff40"/><stop offset="0.733" stop-color="#3aff38"/><stop offset="0.800" stop-color="#20ff32"/><stop offset="0.867" stop-color="#0eff2d"/><stop offset="0.933" stop-color="#01ff29"/><stop offset="1.000" stop-color="#00ff26"/></linearGradient><linearGradient id="ipcg38" x1="0" x2="1" y1="0" y2="0"><stop offset="0.000" stop-color="#ff0020"/><stop offset="0.067" stop-color="#ff0323"/><stop offset="0.133" stop-color="#ff1126"/><stop offset="0.200" stop-color="#ff262b"/><stop offset="0.267" stop-color="#ff4130"/><stop offset="0.333" stop-color="#ff6636"/><stop offset="0.400" stop-color="#ff983f"/><stop offset="0.467" stop-color="#ffdc4a"/><stop offset="0.533" stop-color="#ccff47"/><stop offset="0.600" stop-color="#8cff3d"/><stop offset="0.667" stop-color="#5eff35"/><stop offset="0.733" stop-color="#3bff2f"/><stop offset="0.800" stop-color="#21ff2a"/><stop offset="0.867" stop-color="#0eff25"/><stop offset="0.933" stop-color="#02ff22"/><stop offset="1.000" stop-color="#00ff1f"/></linearGradient><linearGradient id="ipcg39" x1="0" x2="1" y1="0" y2="0"><stop offset="0.000" stop-color="#ff0019"/><stop offset="0.062" stop-color="#ff031c"/><stop offset="0.125" stop-color="#ff0f1e"/><stop offset="0.188" stop-color="#ff2122"/><stop offset="0.250" stop-color="#ff3925"/><stop offset="0.312" stop-color="#ff592a"/><stop offset="0.375" stop-color="#ff8330"/><stop offset="0.438" stop-color="#ffbb37"/><stop offset="0.500" stop-color="#f7ff3f"/><stop offset="0.562" stop-color="#afff36"/><stop offset="0.625" stop-color="#7aff2f"/><stop offset="0.688" stop-color="#52ff29"/><stop offset="0.750" stop-color="#34ff25"/><stop offset="0.812" stop-color="#1eff21"/><stop offset="0.875" stop-color="#0dff1e"/><stop offset="0.938" stop-color="#01ff1b"/><stop offset="1.000" stop-color="#00ff19"/></linearGradient><linearGradient id="ipcg40" x1="0" x2="1" y1="0" y2="0"><stop offset="0.000" stop-color="#ff0014"/><stop offset="0.062" stop-color="#ff0316"/><stop offset="0.125" stop-color="#ff1018"/><stop offset="0.188" stop-color="#ff211a"/><stop offset="0.250" stop-color="#ff391d"/><stop offset="0.312" stop-color="#ff5921"/><stop offset="0.375" stop-color="#ff8225"/><stop offset="0.438" stop-color="#ffba2b"/><stop offset="0.500" stop-color="#f8ff31"/><stop offset="0.562" stop-color="#b0ff2a"/><stop offset="0.625" stop-color="#7bff24"/><stop offset="0.688" stop-color="#53ff20"/><stop offset="0.750" stop-color="#35ff1d"/><stop offset="0.812" stop-color="#1eff1a"/><stop offset="0.875" stop-color="#0dff17"/><stop offset="0.938" stop-color="#02ff15"/><stop offset="1.000" stop-color="#00ff14"/></linearGradient><linearGradient id="ipcg41" x1="0" x2="1" y1="0" y2="0"><stop offset="0.000" stop-color="#ff000f"/><stop offset="0.059" stop-color="#ff0310"/><stop offset="0.118" stop-color="#ff0e12"/><stop offset="0.176" stop-color="#ff1e13"/><stop offset="0.235" stop-color="#ff3315"/><stop offset="0.294" stop-color="#ff4f18"/><stop offset="0.353" stop-color="#ff721a"/><stop offset="0.412" stop-color="#ffa11e"/><stop offset="0.471" stop-color="#ffde23"/><stop offset="0.529" stop-color="#d5ff22"/><stop offset="0.588" stop-color="#99ff1e"/><stop offset="0.647" stop-color="#6dff1a"/><stop offset="0.706" stop-color="#4aff17"/><stop offset="0.765" stop-color="#30ff15"/><stop offset="0.824" stop-color="#1cff13"/><stop offset="0.882" stop-color="#0cff11"/><stop offset="0.941" stop-color="#02ff10"/><stop offset="1.000" stop-color="#00ff0f"/></linearGradient><linearGradient id="ipcg42" x1="0" x2="1" y1="0" y2="0"><stop offset="0.000" stop-color="#ff000a"/><stop offset="0.059" stop-color="#ff030b"/><stop offset="0.118" stop-color="#ff0e0c"/><stop offset="0.176" stop-color="#ff1e0d"/><stop offset="0.235" stop-color="#ff330f"/><stop offset="0.294" stop-color="#ff4f10"/><stop offset="0.353" stop-color="#ff7212"/><stop offset="0.412" stop-color="#ffa015"/><stop offset="0.471" stop-color="#ffdd18"/><stop offset="0.529" stop-color="#d6ff18"/><stop offset="0.588" stop-color="#9bff15"/><stop offset="0.647" stop-color="#6eff12"/><stop offset="0.706" stop-color="#4bff10"/><stop offset="0.765" stop-color="#31ff0f"/><stop offset="0.824" stop-color="#1cff0d"/><stop offset="0.882" stop-color="#0dff0c"/><stop offset="0.941" stop-color="#02ff0b"/><stop offset="1.000" stop-color="#00ff0a"/></linearGradient><linearGradient id="ipcg43" x1="0" x2="1" y1="0" y2="0"><stop offset="0.000" stop-color="#ff0006"/><stop offset="0.059" stop-color="#ff0307"/><stop offset="0.118" stop-color="#ff0e08"/><stop offset="0.176" stop-color="#ff1e08"/><stop offset="0.235" stop-color="#ff3309"/><stop offset="0.294" stop-color="#ff4e0a"/><stop offset="0.353" stop-color="#ff720b"/><stop offset="0.412" stop-color="#ff9f0d"/><stop offset="0.471" stop-color="#ffdc0f"/><stop offset="0.529" stop-color="#d7ff0f"/><stop offset="0.588" stop-color="#9cff0d"/><stop offset="0.647" stop-color="#6fff0b"/><stop offset="0.706" stop-color="#4cff0a"/><stop offset="0.765" stop-color="#31ff09"/><stop offset="0.824" stop-color="#1dff08"/><stop offset="0.882" stop-color="#0dff08"/><stop offset="0.941" stop-color="#02ff07"/><stop offset="1.000" stop-color="#00ff06"/></linearGradient><linearGradient id="ipcg44" x1="0" x2="1" y1="0" y2="0"><stop offset="0.000" stop-color="#ff0003"/><stop offset="0.056" stop-color="#ff0203"/><stop offset="0.111" stop-color="#ff0d04"/><stop offset="0.167" stop-color="#ff1b04"/><stop offset="0.222" stop-color="#ff2e04"/><stop offset="0.278" stop-color="#ff4605"/><stop offset="0.333" stop-color="#ff6505"/><stop offset="0.389" stop-color="#ff8c06"/><stop offset="0.444" stop-color="#ffbe07"/><stop offset="0.500" stop-color="#fdff08"/><stop offset="0.556" stop-color="#bcff07"/><stop offset="0.611" stop-color="#8aff06"/><stop offset="0.667" stop-color="#63ff05"/><stop offset="0.722" stop-color="#45ff05"/><stop offset="0.778" stop-color="#2dff04"/><stop offset="0.833" stop-color="#1aff04"/><stop offset="0.889" stop-color="#0cff04"/><stop offset="0.944" stop-color="#02ff03"/><stop offset="1.000" stop-color="#00ff03"/></linearGradient><linearGradient id="ipcg45" x1="0" x2="1" y1="0" y2="0"><stop offset="0.000" stop-color="#ff0000"/><stop offset="0.056" stop-color="#ff0301"/><stop offset="0.111" stop-color="#ff0d01"/><stop offset="0.167" stop-color="#ff1b01"/><stop offset="0.222" stop-color="#ff2e01"/><stop offset="0.278" stop-color="#ff4601"/><stop offset="0.333" stop-color="#ff6401"/><stop offset="0.389" stop-color="#ff8b01"/><stop offset="0.444" stop-color="#ffbd01"/><stop offset="0.500" stop-color="#ffff01"/><stop offset="0.556" stop-color="#bdff01"/><stop offset="0.611" stop-color="#8bff01"/><stop offset="0.667" stop-color="#64ff01"/><stop offset="0.722" stop-color="#46ff01"/><stop offset="0.778" stop-color="#2eff01"/><stop offset="0.833" stop-color="#1bff01"/><stop offset="0.889" stop-color="#0dff01"/><stop offset="0.944" stop-color="#02ff01"/><stop offset="1.000" stop-color="#00ff00"/></linearGradient></defs>
<g clip-path="url(#ipc)" shape-rendering="crispEdges"><rect x="264.67" y="199" width="2.88" height="1" fill="url(#ipcg0)"/><rect x="263.58" y="200" width="4.28" height="1" fill="url(#ipcg1)"/><rect x="262.49" y="201" width="5.68" height="1" fill="url(#ipcg2)"/><rect x="261.40" y="202" width="7.07" height="1" fill="url(#ipcg3)"/><rect x="260.31" y="203" width="8.46" height="1" fill="url(#ipcg4)"/><rect x="259.22" y="204" width="9.85" height="1" fill="url(#ipcg5)"/><rect x="258.13" y="205" width="11.22" height="1" fill="url(#ipcg6)"/><rect x="257.04" y="206" width="12.59" height="1" fill="url(#ipcg7)"/><rect x="255.95" y="207" width="13.96" height="1" fill="url(#ipcg8)"/><rect x="254.86" y="208" width="15.32" height="1" fill="url(#ipcg9)"/><rect x="253.77" y="209" width="16.67" height="1" fill="url(#ipcg10)"/><rect x="252.68" y="210" width="18.02" height="1" fill="url(#ipcg11)"/><rect x="251.59" y="211" width="19.37" height="1" fill="url(#ipcg12)"/><rect x="250.50" y="212" width="20.71" height="1" fill="url(#ipcg13)"/><rect x="249.41" y="213" width="22.04" height="1" fill="url(#ipcg14)"/><rect x="248.32" y="214" width="23.37" height="1" fill="url(#ipcg15)"/><rect x="247.23" y="215" width="24.69" height="1" fill="url(#ipcg16)"/><rect x="246.14" y="216" width="26.01" height="1" fill="url(#ipcg17)"/><rect x="245.05" y="217" width="27.32" height="1" fill="url(#ipcg18)"/><rect x="243.96" y="218" width="28.62" height="1" fill="url(#ipcg19)"/><rect x="242.87" y="219" width="29.92" height="1" fill="url(#ipcg20)"/><rect x="241.78" y="220" width="31.22" height="1" fill="url(#ipcg21)"/><rect x="240.69" y="221" width="32.51" height="1" fill="url(#ipcg22)"/><rect x="239.60" y="222" width="33.79" height="1" fill="url(#ipcg23)"/><rect x="238.51" y="223" width="35.07" height="1" fill="url(#ipcg24)"/><rect x="237.42" y="224" width="36.35" height="1" fill="url(#ipcg25)"/><rect x="236.33" y="225" width="37.62" height="1" fill="url(#ipcg26)"/><rect x="235.24" y="226" width="38.88" height="1" fill="url(#ipcg27)"/><rect x="234.16" y="227" width="40.14" height="1" fill="url(#ipcg28)"/><rect x="233.07" y="228" width="41.39" height="1" fill="url(#ipcg29)"/><rect x="231.98" y="229" width="42.64" height="1" fill="url(#ipcg30)"/><rect x="230.89" y="230" width="43.88" height="1" fill="url(#ipcg31)"/><rect x="229.80" y="231" width="45.12" height="1" fill="url(#ipcg32)"/><rect x="228.71" y="232" width="46.35" height="1" fill="url(#ipcg33)"/><rect x="227.62" y="233" width="47.58" height="1" fill="url(#ipcg34)"/><rect x="226.53" y="234" width="48.80" height="1" fill="url(#ipcg35)"/><rect x="225.44" y="235" width="50.02" height="1" fill="url(#ipcg36)"/><rect x="224.35" y="236" width="51.23" height="1" fill="url(#ipcg37)"/><rect x="223.26" y="237" width="52.44" height="1" fill="url(#ipcg38)"/><rect x="222.17" y="238" width="53.64" height="1" fill="url(#ipcg39)"/><rect x="221.08" y="239" width="54.84" height="1" fill="url(#ipcg40)"/><rect x="219.99" y="240" width="56.03" height="1" fill="url(#ipcg41)"/><rect x="218.90" y="241" width="57.22" height="1" fill="url(#ipcg42)"/><rect x="217.81" y="242" width="58.40" height="1" fill="url(#ipcg43)"/><rect x="216.72" y="243" width="59.58" height="1" fill="url(#ipcg44)"/><rect x="215.63" y="244" width="60.75" height="1" fill="url(#ipcg45)"/></g>
<text x="211" y="13" class="ipt" text-anchor="middle">A</text>
<text x="262" y="13" class="ipt" text-anchor="middle">111</text>
<text x="214" y="62.5" class="ipt" text-anchor="middle">001</text>
<text x="271" y="62.5" class="ipt" text-anchor="middle">101</text>
<text x="213" y="200" class="ipt" text-anchor="middle">A</text>
<text x="264" y="199.5" class="ipt" text-anchor="middle">111</text>
<text x="217" y="248.5" class="ipt" text-anchor="middle">001</text>
<text x="274" y="248.5" class="ipt" text-anchor="middle">101</text>
<text x="10.5" y="32" class="pl">(a)</text>
<text x="11.6" y="220.8" class="pl">(c)</text>
<text x="283.6" y="31.7" class="pl">(b)</text>
<text x="276.7" y="217.3" class="pl">(d)</text>
<rect x="345.65" y="42.85" width="4.99" height="123.35" fill="#d8d8d8" stroke="#5e5e5e" stroke-width="2.1"/>
<rect x="350.64" y="52.03" width="4.99" height="114.17" fill="#d8d8d8" stroke="#5e5e5e" stroke-width="2.1"/>
<rect x="355.63" y="90.25" width="4.99" height="75.95" fill="#d8d8d8" stroke="#5e5e5e" stroke-width="2.1"/>
<rect x="360.63" y="113.19" width="4.99" height="53.01" fill="#d8d8d8" stroke="#5e5e5e" stroke-width="2.1"/>
<rect x="365.62" y="113.19" width="4.99" height="53.01" fill="#d8d8d8" stroke="#5e5e5e" stroke-width="2.1"/>
<rect x="370.61" y="128.47" width="4.99" height="37.72" fill="#d8d8d8" stroke="#5e5e5e" stroke-width="2.1"/>
<rect x="375.60" y="131.53" width="4.99" height="34.67" fill="#d8d8d8" stroke="#5e5e5e" stroke-width="2.1"/>
<rect x="380.59" y="130.77" width="4.99" height="35.43" fill="#d8d8d8" stroke="#5e5e5e" stroke-width="2.1"/>
<rect x="385.59" y="141.47" width="4.99" height="24.73" fill="#d8d8d8" stroke="#5e5e5e" stroke-width="2.1"/>
<rect x="390.58" y="146.82" width="4.99" height="19.38" fill="#d8d8d8" stroke="#5e5e5e" stroke-width="2.1"/>
<rect x="395.57" y="141.47" width="4.99" height="24.73" fill="#d8d8d8" stroke="#5e5e5e" stroke-width="2.1"/>
<rect x="400.56" y="156.76" width="4.99" height="9.44" fill="#d8d8d8" stroke="#5e5e5e" stroke-width="2.1"/>
<rect x="405.56" y="143.76" width="4.99" height="22.44" fill="#d8d8d8" stroke="#5e5e5e" stroke-width="2.1"/>
<rect x="410.55" y="154.09" width="4.99" height="12.11" fill="#d8d8d8" stroke="#5e5e5e" stroke-width="2.1"/>
<rect x="415.54" y="152.17" width="4.99" height="14.03" fill="#d8d8d8" stroke="#5e5e5e" stroke-width="2.1"/>
<rect x="420.53" y="154.09" width="4.99" height="12.11" fill="#d8d8d8" stroke="#5e5e5e" stroke-width="2.1"/>
<rect x="425.52" y="156.76" width="4.99" height="9.44" fill="#d8d8d8" stroke="#5e5e5e" stroke-width="2.1"/>
<rect x="430.52" y="157.53" width="4.99" height="8.67" fill="#d8d8d8" stroke="#5e5e5e" stroke-width="2.1"/>
<rect x="435.51" y="164.41" width="4.99" height="1.79" fill="#d8d8d8" stroke="#5e5e5e" stroke-width="2.1"/>
<rect x="440.50" y="159.82" width="4.99" height="6.38" fill="#d8d8d8" stroke="#5e5e5e" stroke-width="2.1"/>
<rect x="445.49" y="157.53" width="4.99" height="8.67" fill="#d8d8d8" stroke="#5e5e5e" stroke-width="2.1"/>
<rect x="450.48" y="162.50" width="4.99" height="3.70" fill="#d8d8d8" stroke="#5e5e5e" stroke-width="2.1"/>
<rect x="455.48" y="163.49" width="4.99" height="2.71" fill="#d8d8d8" stroke="#5e5e5e" stroke-width="2.1"/>
<rect x="460.47" y="160.58" width="4.99" height="5.62" fill="#d8d8d8" stroke="#5e5e5e" stroke-width="2.1"/>
<rect x="465.46" y="163.11" width="4.99" height="3.09" fill="#d8d8d8" stroke="#5e5e5e" stroke-width="2.1"/>
<rect x="470.45" y="165.17" width="4.99" height="1.03" fill="#d8d8d8" stroke="#5e5e5e" stroke-width="2.1"/>
<rect x="475.44" y="164.02" width="4.99" height="2.18" fill="#d8d8d8" stroke="#5e5e5e" stroke-width="2.1"/>
<rect x="480.44" y="164.02" width="4.99" height="2.18" fill="#d8d8d8" stroke="#5e5e5e" stroke-width="2.1"/>
<rect x="485.43" y="164.41" width="4.99" height="1.79" fill="#d8d8d8" stroke="#5e5e5e" stroke-width="2.1"/>
<rect x="490.42" y="163.64" width="4.99" height="2.56" fill="#d8d8d8" stroke="#5e5e5e" stroke-width="2.1"/>
<rect x="495.41" y="163.64" width="4.99" height="2.56" fill="#d8d8d8" stroke="#5e5e5e" stroke-width="2.1"/>
<path d="M347.50,23.57 L348.12,30.69 L348.75,37.22 L349.38,43.21 L350.01,48.74 L350.64,53.85 L351.26,58.59 L351.89,62.98 L352.52,67.08 L353.15,70.90 L353.77,74.47 L354.40,77.82 L355.03,80.96 L355.66,83.91 L356.29,86.69 L356.91,89.31 L357.54,91.78 L358.17,94.12 L358.80,96.33 L359.42,98.43 L360.05,100.43 L360.68,102.32 L361.31,104.12 L361.94,105.83 L362.56,107.47 L363.19,109.03 L363.82,110.51 L364.45,111.94 L365.07,113.30 L365.70,114.60 L366.33,115.85 L366.96,117.05 L367.59,118.20 L368.21,119.30 L368.84,120.36 L369.47,121.38 L370.10,122.36 L370.72,123.30 L371.35,124.21 L371.98,125.09 L372.61,125.93 L373.24,126.75 L373.86,127.54 L374.49,128.30 L375.12,129.03 L375.75,129.74 L376.37,130.43 L377.00,131.10 L377.63,131.74 L378.26,132.37 L378.89,132.97 L379.51,133.56 L380.14,134.12 L380.77,134.68 L381.40,135.21 L382.02,135.73 L382.65,136.24 L383.28,136.73 L383.91,137.20 L384.54,137.67 L385.16,138.12 L385.79,138.56 L386.42,138.98 L387.05,139.40 L387.67,139.81 L388.30,140.20 L388.93,140.58 L389.56,140.96 L390.19,141.32 L390.81,141.68 L391.44,142.03 L392.07,142.37 L392.70,142.70 L393.32,143.02 L393.95,143.33 L394.58,143.64 L395.21,143.94 L395.84,144.24 L396.46,144.52 L397.09,144.80 L397.72,145.08 L398.35,145.35 L398.97,145.61 L399.60,145.87 L400.23,146.12 L400.86,146.36 L401.49,146.60 L402.11,146.84 L402.74,147.07 L403.37,147.30 L404.00,147.52 L404.62,147.73 L405.25,147.95 L405.88,148.15 L406.51,148.36 L407.13,148.56 L407.76,148.76 L408.39,148.95 L409.02,149.14 L409.65,149.32 L410.27,149.50 L410.90,149.68 L411.53,149.86 L412.16,150.03 L412.78,150.20 L413.41,150.36 L414.04,150.53 L414.67,150.69 L415.30,150.84 L415.92,151.00 L416.55,151.15 L417.18,151.30 L417.81,151.45 L418.43,151.59 L419.06,151.73 L419.69,151.87 L420.32,152.01 L420.95,152.14 L421.57,152.27 L422.20,152.40 L422.83,152.53 L423.46,152.66 L424.08,152.78 L424.71,152.90 L425.34,153.02 L425.97,153.14 L426.60,153.26 L427.22,153.37 L427.85,153.49 L428.48,153.60 L429.11,153.71 L429.73,153.81 L430.36,153.92 L430.99,154.02 L431.62,154.13 L432.25,154.23 L432.87,154.33 L433.50,154.43 L434.13,154.52 L434.76,154.62 L435.38,154.71 L436.01,154.81 L436.64,154.90 L437.27,154.99 L437.90,155.08 L438.52,155.17 L439.15,155.25 L439.78,155.34 L440.41,155.42 L441.03,155.51 L441.66,155.59 L442.29,155.67 L442.92,155.75 L443.55,155.83 L444.17,155.91 L444.80,155.98 L445.43,156.06 L446.06,156.13 L446.68,156.21 L447.31,156.28 L447.94,156.35 L448.57,156.42 L449.20,156.49 L449.82,156.56 L450.45,156.63 L451.08,156.70 L451.71,156.76 L452.33,156.83 L452.96,156.89 L453.59,156.96 L454.22,157.02 L454.85,157.08 L455.47,157.15 L456.10,157.21 L456.73,157.27 L457.36,157.33 L457.98,157.39 L458.61,157.45 L459.24,157.50 L459.87,157.56 L460.50,157.62 L461.12,157.67 L461.75,157.73 L462.38,157.78 L463.01,157.84 L463.63,157.89 L464.26,157.94 L464.89,157.99 L465.52,158.04 L466.15,158.10 L466.77,158.15 L467.40,158.20 L468.03,158.25 L468.66,158.29 L469.28,158.34 L469.91,158.39 L470.54,158.44 L471.17,158.48 L471.80,158.53 L472.42,158.58 L473.05,158.62 L473.68,158.66 L474.31,158.71 L474.93,158.75 L475.56,158.80 L476.19,158.84 L476.82,158.88 L477.45,158.92 L478.07,158.97 L478.70,159.01 L479.33,159.05 L479.96,159.09 L480.58,159.13 L481.21,159.17 L481.84,159.21 L482.47,159.24 L483.10,159.28 L483.72,159.32 L484.35,159.36 L484.98,159.40 L485.61,159.43 L486.23,159.47 L486.86,159.51 L487.49,159.54 L488.12,159.58 L488.75,159.61 L489.37,159.65 L490.00,159.68 L490.63,159.72 L491.26,159.75 L491.88,159.78 L492.51,159.82 L493.14,159.85 L493.77,159.88 L494.39,159.91 L495.02,159.95 L495.65,159.98 L496.28,160.01 L496.91,160.04 L497.53,160.07 L498.16,160.10 L498.79,160.13 L499.42,160.16 L500.04,160.19 L500.67,160.22 L501.30,160.25 L501.93,160.28 L502.56,160.31 L503.18,160.34 L503.81,160.37 L504.44,160.39 L505.07,160.42 L505.69,160.45 L506.32,160.48 L506.95,160.50 L507.58,160.53 L508.21,160.56 L508.83,160.58 L509.46,160.61 L510.09,160.64 L510.72,160.66 L511.34,160.69 L511.97,160.71 L512.60,160.74 L513.23,160.76 L513.86,160.79 L514.48,160.81 L515.11,160.84 L515.74,160.86 L516.37,160.88 L516.99,160.91 L517.62,160.93 L518.25,160.96 L518.88,160.98 L519.51,161.00 L520.13,161.02 L520.76,161.05 L521.39,161.07 L522.02,161.09 L522.64,161.11 L523.27,161.14 L523.90,161.16 L524.53,161.18 L525.16,161.20 L525.78,161.22 L526.41,161.24 L527.04,161.26 L527.67,161.28 L528.29,161.30 L528.92,161.33 L529.55,161.35 L530.18,161.37 L530.81,161.39 L531.43,161.41 L532.06,161.43 L532.69,161.45 L533.32,161.46 L533.94,161.48 L534.57,161.50 L535.20,161.52" fill="none" stroke="#e2233f" stroke-width="1.1"/>
<rect x="345.50" y="13.30" width="189.70" height="152.90" fill="none" stroke="#111" stroke-width="1.4"/>
<path d="M345.50,166.20h-3.20M345.50,147.09h-2.20M345.50,127.97h-3.20M345.50,108.86h-2.20M345.50,89.75h-3.20M345.50,70.64h-2.20M345.50,51.53h-3.20M345.50,32.41h-2.20M345.50,13.30h-3.20M345.50,166.20v2.20M355.48,166.20v3.20M365.47,166.20v2.20M375.45,166.20v3.20M385.44,166.20v2.20M395.42,166.20v3.20M405.41,166.20v2.20M415.39,166.20v3.20M425.37,166.20v2.20M435.36,166.20v3.20M445.34,166.20v2.20M455.33,166.20v3.20M465.31,166.20v2.20M475.29,166.20v3.20M485.28,166.20v2.20M495.26,166.20v3.20M505.25,166.20v2.20M515.23,166.20v3.20M525.22,166.20v2.20M535.20,166.20v3.20" stroke="#111" stroke-width="1.2"/>
<text x="340.30" y="169.90" text-anchor="end" class="tk" style="font-size:11px">0</text>
<text x="340.30" y="131.67" text-anchor="end" class="tk" style="font-size:11px">5</text>
<text x="340.30" y="93.45" text-anchor="end" class="tk" style="font-size:11px">10</text>
<text x="340.30" y="55.23" text-anchor="end" class="tk" style="font-size:11px">15</text>
<text x="340.30" y="17.00" text-anchor="end" class="tk" style="font-size:11px">20</text>
<text x="355.48" y="180.40" text-anchor="middle" class="tk" style="font-size:11px">2</text>
<text x="375.45" y="180.40" text-anchor="middle" class="tk" style="font-size:11px">4</text>
<text x="395.42" y="180.40" text-anchor="middle" class="tk" style="font-size:11px">6</text>
<text x="415.39" y="180.40" text-anchor="middle" class="tk" style="font-size:11px">8</text>
<text x="435.36" y="180.40" text-anchor="middle" class="tk" style="font-size:11px">10</text>
<text x="455.33" y="180.40" text-anchor="middle" class="tk" style="font-size:11px">12</text>
<text x="475.29" y="180.40" text-anchor="middle" class="tk" style="font-size:11px">14</text>
<text x="495.26" y="180.40" text-anchor="middle" class="tk" style="font-size:11px">16</text>
<text x="515.23" y="180.40" text-anchor="middle" class="tk" style="font-size:11px">18</text>
<text x="535.20" y="180.40" text-anchor="middle" class="tk" style="font-size:11px">20</text>
<text x="440.85" y="191.60" text-anchor="middle" class="al" style="font-size:13.1px">Grain size (μm)</text>
<text transform="translate(323.00,90.00) rotate(-90)" text-anchor="middle" class="al" style="font-size:12.2px" textLength="132.5" lengthAdjust="spacingAndGlyphs">Relative Frequency (%)</text>
<text x="400.60" y="132.00" class="dt" textLength="50.5" lengthAdjust="spacingAndGlyphs">d=5.1 μm</text>
<rect x="342.40" y="209.90" width="1.90" height="148.90" fill="#f4a8b0"/>
<rect x="342.40" y="209.90" width="0.65" height="148.90" fill="#d97a88"/>
<rect x="342.40" y="209.90" width="1.90" height="0.8" fill="#d65a6c"/>
<rect x="345.67" y="232.87" width="3.80" height="125.93" fill="#f4a8b0"/>
<rect x="346.92" y="232.87" width="1.30" height="125.93" fill="#d97a88"/>
<rect x="345.67" y="232.87" width="3.80" height="0.8" fill="#d65a6c"/>
<rect x="350.85" y="248.71" width="3.80" height="110.09" fill="#f4a8b0"/>
<rect x="352.10" y="248.71" width="1.30" height="110.09" fill="#d97a88"/>
<rect x="350.85" y="248.71" width="3.80" height="0.8" fill="#d65a6c"/>
<rect x="356.02" y="288.31" width="3.80" height="70.49" fill="#f4a8b0"/>
<rect x="357.27" y="288.31" width="1.30" height="70.49" fill="#d97a88"/>
<rect x="356.02" y="288.31" width="3.80" height="0.8" fill="#d65a6c"/>
<rect x="361.19" y="313.66" width="3.80" height="45.14" fill="#f4a8b0"/>
<rect x="362.44" y="313.66" width="1.30" height="45.14" fill="#d97a88"/>
<rect x="361.19" y="313.66" width="3.80" height="0.8" fill="#d65a6c"/>
<rect x="366.37" y="316.82" width="3.80" height="41.98" fill="#f4a8b0"/>
<rect x="367.62" y="316.82" width="1.30" height="41.98" fill="#d97a88"/>
<rect x="366.37" y="316.82" width="3.80" height="0.8" fill="#d65a6c"/>
<rect x="371.54" y="323.16" width="3.80" height="35.64" fill="#f4a8b0"/>
<rect x="372.79" y="323.16" width="1.30" height="35.64" fill="#d97a88"/>
<rect x="371.54" y="323.16" width="3.80" height="0.8" fill="#d65a6c"/>
<rect x="376.72" y="326.33" width="3.80" height="32.47" fill="#f4a8b0"/>
<rect x="377.97" y="326.33" width="1.30" height="32.47" fill="#d97a88"/>
<rect x="376.72" y="326.33" width="3.80" height="0.8" fill="#d65a6c"/>
<rect x="381.89" y="328.70" width="3.80" height="30.10" fill="#f4a8b0"/>
<rect x="383.14" y="328.70" width="1.30" height="30.10" fill="#d97a88"/>
<rect x="381.89" y="328.70" width="3.80" height="0.8" fill="#d65a6c"/>
<rect x="387.06" y="333.46" width="3.80" height="25.34" fill="#f4a8b0"/>
<rect x="388.31" y="333.46" width="1.30" height="25.34" fill="#d97a88"/>
<rect x="387.06" y="333.46" width="3.80" height="0.8" fill="#d65a6c"/>
<rect x="392.24" y="335.04" width="3.80" height="23.76" fill="#f4a8b0"/>
<rect x="393.49" y="335.04" width="1.30" height="23.76" fill="#d97a88"/>
<rect x="392.24" y="335.04" width="3.80" height="0.8" fill="#d65a6c"/>
<rect x="397.41" y="341.38" width="3.80" height="17.42" fill="#f4a8b0"/>
<rect x="398.66" y="341.38" width="1.30" height="17.42" fill="#d97a88"/>
<rect x="397.41" y="341.38" width="3.80" height="0.8" fill="#d65a6c"/>
<rect x="402.58" y="340.58" width="3.80" height="18.22" fill="#f4a8b0"/>
<rect x="403.83" y="340.58" width="1.30" height="18.22" fill="#d97a88"/>
<rect x="402.58" y="340.58" width="3.80" height="0.8" fill="#d65a6c"/>
<rect x="407.76" y="339.40" width="3.80" height="19.40" fill="#f4a8b0"/>
<rect x="409.01" y="339.40" width="1.30" height="19.40" fill="#d97a88"/>
<rect x="407.76" y="339.40" width="3.80" height="0.8" fill="#d65a6c"/>
<rect x="412.93" y="339.79" width="3.80" height="19.01" fill="#f4a8b0"/>
<rect x="414.18" y="339.79" width="1.30" height="19.01" fill="#d97a88"/>
<rect x="412.93" y="339.79" width="3.80" height="0.8" fill="#d65a6c"/>
<rect x="418.11" y="347.71" width="3.80" height="11.09" fill="#f4a8b0"/>
<rect x="419.36" y="347.71" width="1.30" height="11.09" fill="#d97a88"/>
<rect x="418.11" y="347.71" width="3.80" height="0.8" fill="#d65a6c"/>
<rect x="423.28" y="346.92" width="3.80" height="11.88" fill="#f4a8b0"/>
<rect x="424.53" y="346.92" width="1.30" height="11.88" fill="#d97a88"/>
<rect x="423.28" y="346.92" width="3.80" height="0.8" fill="#d65a6c"/>
<rect x="428.45" y="346.92" width="3.80" height="11.88" fill="#f4a8b0"/>
<rect x="429.70" y="346.92" width="1.30" height="11.88" fill="#d97a88"/>
<rect x="428.45" y="346.92" width="3.80" height="0.8" fill="#d65a6c"/>
<rect x="433.63" y="350.88" width="3.80" height="7.92" fill="#f4a8b0"/>
<rect x="434.88" y="350.88" width="1.30" height="7.92" fill="#d97a88"/>
<rect x="433.63" y="350.88" width="3.80" height="0.8" fill="#d65a6c"/>
<rect x="438.80" y="352.07" width="3.80" height="6.73" fill="#f4a8b0"/>
<rect x="440.05" y="352.07" width="1.30" height="6.73" fill="#d97a88"/>
<rect x="438.80" y="352.07" width="3.80" height="0.8" fill="#d65a6c"/>
<rect x="443.97" y="353.65" width="3.80" height="5.15" fill="#f4a8b0"/>
<rect x="445.22" y="353.65" width="1.30" height="5.15" fill="#d97a88"/>
<rect x="443.97" y="353.65" width="3.80" height="0.8" fill="#d65a6c"/>
<rect x="449.15" y="355.63" width="3.80" height="3.17" fill="#f4a8b0"/>
<rect x="450.40" y="355.63" width="1.30" height="3.17" fill="#d97a88"/>
<rect x="449.15" y="355.63" width="3.80" height="0.8" fill="#d65a6c"/>
<rect x="454.32" y="352.46" width="3.80" height="6.34" fill="#f4a8b0"/>
<rect x="455.57" y="352.46" width="1.30" height="6.34" fill="#d97a88"/>
<rect x="454.32" y="352.46" width="3.80" height="0.8" fill="#d65a6c"/>
<rect x="459.49" y="352.46" width="3.80" height="6.34" fill="#f4a8b0"/>
<rect x="460.74" y="352.46" width="1.30" height="6.34" fill="#d97a88"/>
<rect x="459.49" y="352.46" width="3.80" height="0.8" fill="#d65a6c"/>
<rect x="464.67" y="356.03" width="3.80" height="2.77" fill="#f4a8b0"/>
<rect x="465.92" y="356.03" width="1.30" height="2.77" fill="#d97a88"/>
<rect x="464.67" y="356.03" width="3.80" height="0.8" fill="#d65a6c"/>
<rect x="469.84" y="356.42" width="3.80" height="2.38" fill="#f4a8b0"/>
<rect x="471.09" y="356.42" width="1.30" height="2.38" fill="#d97a88"/>
<rect x="469.84" y="356.42" width="3.80" height="0.8" fill="#d65a6c"/>
<rect x="475.02" y="356.03" width="3.80" height="2.77" fill="#f4a8b0"/>
<rect x="476.27" y="356.03" width="1.30" height="2.77" fill="#d97a88"/>
<rect x="475.02" y="356.03" width="3.80" height="0.8" fill="#d65a6c"/>
<rect x="480.19" y="356.42" width="3.80" height="2.38" fill="#f4a8b0"/>
<rect x="481.44" y="356.42" width="1.30" height="2.38" fill="#d97a88"/>
<rect x="480.19" y="356.42" width="3.80" height="0.8" fill="#d65a6c"/>
<rect x="485.36" y="358.01" width="3.80" height="0.79" fill="#f4a8b0"/>
<rect x="486.61" y="358.01" width="1.30" height="0.79" fill="#d97a88"/>
<rect x="485.36" y="358.01" width="3.80" height="0.8" fill="#d65a6c"/>
<rect x="490.54" y="358.01" width="3.80" height="0.79" fill="#f4a8b0"/>
<rect x="491.79" y="358.01" width="1.30" height="0.79" fill="#d97a88"/>
<rect x="490.54" y="358.01" width="3.80" height="0.8" fill="#d65a6c"/>
<path d="M344.47,200.40 L345.12,200.40 L345.77,203.91 L346.42,212.79 L347.07,220.80 L347.72,228.06 L348.37,234.66 L349.02,240.70 L349.67,246.23 L350.32,251.32 L350.98,256.01 L351.63,260.35 L352.28,264.38 L352.93,268.12 L353.58,271.60 L354.23,274.86 L354.88,277.91 L355.53,280.76 L356.18,283.45 L356.83,285.97 L357.48,288.35 L358.13,290.59 L358.78,292.71 L359.43,294.72 L360.08,296.62 L360.73,298.42 L361.39,300.14 L362.04,301.77 L362.69,303.32 L363.34,304.80 L363.99,306.21 L364.64,307.56 L365.29,308.85 L365.94,310.08 L366.59,311.26 L367.24,312.39 L367.89,313.47 L368.54,314.51 L369.19,315.51 L369.84,316.47 L370.49,317.39 L371.14,318.28 L371.79,319.14 L372.45,319.96 L373.10,320.76 L373.75,321.52 L374.40,322.26 L375.05,322.98 L375.70,323.67 L376.35,324.34 L377.00,324.98 L377.65,325.61 L378.30,326.21 L378.95,326.80 L379.60,327.37 L380.25,327.92 L380.90,328.45 L381.55,328.97 L382.20,329.47 L382.86,329.96 L383.51,330.44 L384.16,330.90 L384.81,331.34 L385.46,331.78 L386.11,332.20 L386.76,332.62 L387.41,333.02 L388.06,333.41 L388.71,333.79 L389.36,334.16 L390.01,334.52 L390.66,334.87 L391.31,335.22 L391.96,335.55 L392.61,335.88 L393.26,336.20 L393.92,336.51 L394.57,336.81 L395.22,337.11 L395.87,337.40 L396.52,337.68 L397.17,337.96 L397.82,338.23 L398.47,338.49 L399.12,338.75 L399.77,339.01 L400.42,339.25 L401.07,339.50 L401.72,339.73 L402.37,339.97 L403.02,340.19 L403.67,340.42 L404.33,340.63 L404.98,340.85 L405.63,341.06 L406.28,341.26 L406.93,341.46 L407.58,341.66 L408.23,341.85 L408.88,342.04 L409.53,342.23 L410.18,342.41 L410.83,342.59 L411.48,342.77 L412.13,342.94 L412.78,343.11 L413.43,343.27 L414.08,343.44 L414.73,343.60 L415.39,343.76 L416.04,343.91 L416.69,344.06 L417.34,344.21 L417.99,344.36 L418.64,344.50 L419.29,344.64 L419.94,344.78 L420.59,344.92 L421.24,345.05 L421.89,345.19 L422.54,345.32 L423.19,345.45 L423.84,345.57 L424.49,345.70 L425.14,345.82 L425.79,345.94 L426.45,346.06 L427.10,346.17 L427.75,346.29 L428.40,346.40 L429.05,346.51 L429.70,346.62 L430.35,346.73 L431.00,346.83 L431.65,346.94 L432.30,347.04 L432.95,347.14 L433.60,347.24 L434.25,347.34 L434.90,347.44 L435.55,347.53 L436.20,347.63 L436.86,347.72 L437.51,347.81 L438.16,347.90 L438.81,347.99 L439.46,348.08 L440.11,348.17 L440.76,348.25 L441.41,348.34 L442.06,348.42 L442.71,348.50 L443.36,348.58 L444.01,348.66 L444.66,348.74 L445.31,348.82 L445.96,348.90 L446.61,348.97 L447.26,349.05 L447.92,349.12 L448.57,349.19 L449.22,349.26 L449.87,349.34 L450.52,349.41 L451.17,349.47 L451.82,349.54 L452.47,349.61 L453.12,349.68 L453.77,349.74 L454.42,349.81 L455.07,349.87 L455.72,349.94 L456.37,350.00 L457.02,350.06 L457.67,350.12 L458.33,350.18 L458.98,350.24 L459.63,350.30 L460.28,350.36 L460.93,350.42 L461.58,350.47 L462.23,350.53 L462.88,350.59 L463.53,350.64 L464.18,350.70 L464.83,350.75 L465.48,350.80 L466.13,350.86 L466.78,350.91 L467.43,350.96 L468.08,351.01 L468.73,351.06 L469.39,351.11 L470.04,351.16 L470.69,351.21 L471.34,351.26 L471.99,351.31 L472.64,351.35 L473.29,351.40 L473.94,351.45 L474.59,351.49 L475.24,351.54 L475.89,351.58 L476.54,351.63 L477.19,351.67 L477.84,351.71 L478.49,351.76 L479.14,351.80 L479.80,351.84 L480.45,351.88 L481.10,351.92 L481.75,351.96 L482.40,352.00 L483.05,352.04 L483.70,352.08 L484.35,352.12 L485.00,352.16 L485.65,352.20 L486.30,352.24 L486.95,352.28 L487.60,352.31 L488.25,352.35 L488.90,352.39 L489.55,352.42 L490.20,352.46 L490.86,352.50 L491.51,352.53 L492.16,352.57 L492.81,352.60 L493.46,352.63 L494.11,352.67 L494.76,352.70 L495.41,352.74 L496.06,352.77 L496.71,352.80 L497.36,352.83 L498.01,352.87 L498.66,352.90 L499.31,352.93 L499.96,352.96 L500.61,352.99 L501.26,353.02 L501.92,353.05 L502.57,353.08 L503.22,353.11 L503.87,353.14 L504.52,353.17 L505.17,353.20 L505.82,353.23 L506.47,353.26 L507.12,353.29 L507.77,353.31 L508.42,353.34 L509.07,353.37 L509.72,353.40 L510.37,353.42 L511.02,353.45 L511.67,353.48 L512.33,353.51 L512.98,353.53 L513.63,353.56 L514.28,353.58 L514.93,353.61 L515.58,353.63 L516.23,353.66 L516.88,353.68 L517.53,353.71 L518.18,353.73 L518.83,353.76 L519.48,353.78 L520.13,353.81 L520.78,353.83 L521.43,353.85 L522.08,353.88 L522.73,353.90 L523.39,353.92 L524.04,353.95 L524.69,353.97 L525.34,353.99 L525.99,354.01 L526.64,354.04 L527.29,354.06 L527.94,354.08 L528.59,354.10 L529.24,354.12 L529.89,354.15 L530.54,354.17 L531.19,354.19 L531.84,354.21 L532.49,354.23 L533.14,354.25 L533.80,354.27 L534.45,354.29 L535.10,354.31 L535.75,354.33 L536.40,354.35 L537.05,354.37 L537.70,354.39 L538.35,354.41 L539.00,354.43" fill="none" stroke="#e2233f" stroke-width="1.1"/>
<rect x="342.40" y="200.40" width="196.60" height="158.40" fill="none" stroke="#111" stroke-width="1.4"/>
<path d="M342.40,358.80h-3.20M342.40,339.00h-2.20M342.40,319.20h-3.20M342.40,299.40h-2.20M342.40,279.60h-3.20M342.40,259.80h-2.20M342.40,240.00h-3.20M342.40,220.20h-2.20M342.40,200.40h-3.20M342.40,358.80v2.20M352.75,358.80v3.20M363.09,358.80v2.20M373.44,358.80v3.20M383.79,358.80v2.20M394.14,358.80v3.20M404.48,358.80v2.20M414.83,358.80v3.20M425.18,358.80v2.20M435.53,358.80v3.20M445.87,358.80v2.20M456.22,358.80v3.20M466.57,358.80v2.20M476.92,358.80v3.20M487.26,358.80v2.20M497.61,358.80v3.20M507.96,358.80v2.20M518.31,358.80v3.20M528.65,358.80v2.20M539.00,358.80v3.20" stroke="#111" stroke-width="1.2"/>
<text x="336.60" y="361.70" text-anchor="end" class="tk" style="font-size:11.4px">0</text>
<text x="336.60" y="322.10" text-anchor="end" class="tk" style="font-size:11.4px">5</text>
<text x="336.60" y="282.50" text-anchor="end" class="tk" style="font-size:11.4px">10</text>
<text x="336.60" y="242.90" text-anchor="end" class="tk" style="font-size:11.4px">15</text>
<text x="336.60" y="203.30" text-anchor="end" class="tk" style="font-size:11.4px">20</text>
<text x="352.75" y="373.40" text-anchor="middle" class="tk" style="font-size:11.4px">2</text>
<text x="373.44" y="373.40" text-anchor="middle" class="tk" style="font-size:11.4px">4</text>
<text x="394.14" y="373.40" text-anchor="middle" class="tk" style="font-size:11.4px">6</text>
<text x="414.83" y="373.40" text-anchor="middle" class="tk" style="font-size:11.4px">8</text>
<text x="435.53" y="373.40" text-anchor="middle" class="tk" style="font-size:11.4px">10</text>
<text x="456.22" y="373.40" text-anchor="middle" class="tk" style="font-size:11.4px">12</text>
<text x="476.92" y="373.40" text-anchor="middle" class="tk" style="font-size:11.4px">14</text>
<text x="497.61" y="373.40" text-anchor="middle" class="tk" style="font-size:11.4px">16</text>
<text x="518.31" y="373.40" text-anchor="middle" class="tk" style="font-size:11.4px">18</text>
<text x="539.00" y="373.40" text-anchor="middle" class="tk" style="font-size:11.4px">20</text>
<text x="441.20" y="386.20" text-anchor="middle" class="al" style="font-size:13.6px">Grain size (μm)</text>
<text transform="translate(320.80,279.40) rotate(-90)" text-anchor="middle" class="al" style="font-size:12.6px" textLength="138.5" lengthAdjust="spacingAndGlyphs">Relative Frequency (%)</text>
<text x="397.10" y="315.30" class="dt" textLength="60.5" lengthAdjust="spacingAndGlyphs">d=4.47 μm</text>
</svg></body></html>
